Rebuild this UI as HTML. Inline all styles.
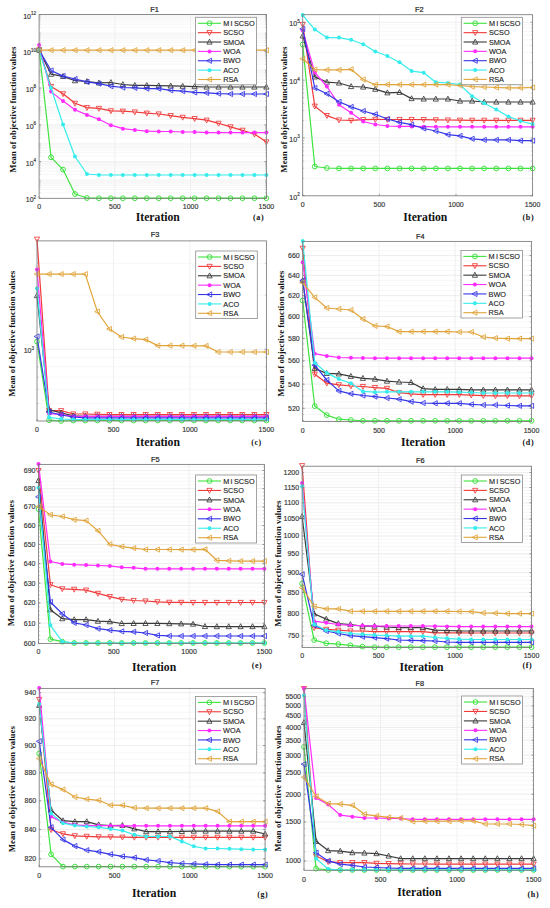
<!DOCTYPE html>
<html><head><meta charset="utf-8"><style>
html,body{margin:0;padding:0;background:#fff;overflow:hidden;}
svg{display:block;}
.tk{font-family:"Liberation Sans",sans-serif;font-size:7px;fill:#333;stroke:#333;stroke-width:0.15px;}
.tt{font-family:"Liberation Sans",sans-serif;font-size:7.4px;fill:#222;stroke:#222;stroke-width:0.2px;}
.lg{font-family:"Liberation Sans",sans-serif;font-size:7.3px;fill:#222;stroke:#222;stroke-width:0.12px;}
.yl{font-family:"Liberation Serif",serif;font-size:8.8px;font-weight:bold;fill:#111;}
.xl{font-family:"Liberation Serif",serif;font-size:11.7px;font-weight:bold;fill:#111;}
.sl{font-family:"Liberation Serif",serif;font-size:8px;font-weight:bold;fill:#111;letter-spacing:0.6px;}
</style></head><body>
<svg width="550" height="908" viewBox="0 0 550 908">
<rect width="550" height="908" fill="#fff"/>
<line x1="39.1" x2="266.4" y1="192.77" y2="192.77" stroke="#f2f2f2" stroke-width="0.6"/>
<line x1="39.1" x2="266.4" y1="189.53" y2="189.53" stroke="#f2f2f2" stroke-width="0.6"/>
<line x1="39.1" x2="266.4" y1="187.23" y2="187.23" stroke="#f2f2f2" stroke-width="0.6"/>
<line x1="39.1" x2="266.4" y1="185.45" y2="185.45" stroke="#f2f2f2" stroke-width="0.6"/>
<line x1="39.1" x2="266.4" y1="184" y2="184" stroke="#f2f2f2" stroke-width="0.6"/>
<line x1="39.1" x2="266.4" y1="182.77" y2="182.77" stroke="#f2f2f2" stroke-width="0.6"/>
<line x1="39.1" x2="266.4" y1="181.7" y2="181.7" stroke="#f2f2f2" stroke-width="0.6"/>
<line x1="39.1" x2="266.4" y1="180.76" y2="180.76" stroke="#f2f2f2" stroke-width="0.6"/>
<line x1="39.1" x2="266.4" y1="174.39" y2="174.39" stroke="#f2f2f2" stroke-width="0.6"/>
<line x1="39.1" x2="266.4" y1="171.15" y2="171.15" stroke="#f2f2f2" stroke-width="0.6"/>
<line x1="39.1" x2="266.4" y1="168.85" y2="168.85" stroke="#f2f2f2" stroke-width="0.6"/>
<line x1="39.1" x2="266.4" y1="167.07" y2="167.07" stroke="#f2f2f2" stroke-width="0.6"/>
<line x1="39.1" x2="266.4" y1="165.62" y2="165.62" stroke="#f2f2f2" stroke-width="0.6"/>
<line x1="39.1" x2="266.4" y1="164.39" y2="164.39" stroke="#f2f2f2" stroke-width="0.6"/>
<line x1="39.1" x2="266.4" y1="163.32" y2="163.32" stroke="#f2f2f2" stroke-width="0.6"/>
<line x1="39.1" x2="266.4" y1="162.38" y2="162.38" stroke="#f2f2f2" stroke-width="0.6"/>
<line x1="39.1" x2="266.4" y1="156.01" y2="156.01" stroke="#f2f2f2" stroke-width="0.6"/>
<line x1="39.1" x2="266.4" y1="152.77" y2="152.77" stroke="#f2f2f2" stroke-width="0.6"/>
<line x1="39.1" x2="266.4" y1="150.47" y2="150.47" stroke="#f2f2f2" stroke-width="0.6"/>
<line x1="39.1" x2="266.4" y1="148.69" y2="148.69" stroke="#f2f2f2" stroke-width="0.6"/>
<line x1="39.1" x2="266.4" y1="147.24" y2="147.24" stroke="#f2f2f2" stroke-width="0.6"/>
<line x1="39.1" x2="266.4" y1="146.01" y2="146.01" stroke="#f2f2f2" stroke-width="0.6"/>
<line x1="39.1" x2="266.4" y1="144.94" y2="144.94" stroke="#f2f2f2" stroke-width="0.6"/>
<line x1="39.1" x2="266.4" y1="144" y2="144" stroke="#f2f2f2" stroke-width="0.6"/>
<line x1="39.1" x2="266.4" y1="137.63" y2="137.63" stroke="#f2f2f2" stroke-width="0.6"/>
<line x1="39.1" x2="266.4" y1="134.39" y2="134.39" stroke="#f2f2f2" stroke-width="0.6"/>
<line x1="39.1" x2="266.4" y1="132.09" y2="132.09" stroke="#f2f2f2" stroke-width="0.6"/>
<line x1="39.1" x2="266.4" y1="130.31" y2="130.31" stroke="#f2f2f2" stroke-width="0.6"/>
<line x1="39.1" x2="266.4" y1="128.86" y2="128.86" stroke="#f2f2f2" stroke-width="0.6"/>
<line x1="39.1" x2="266.4" y1="127.63" y2="127.63" stroke="#f2f2f2" stroke-width="0.6"/>
<line x1="39.1" x2="266.4" y1="126.56" y2="126.56" stroke="#f2f2f2" stroke-width="0.6"/>
<line x1="39.1" x2="266.4" y1="125.62" y2="125.62" stroke="#f2f2f2" stroke-width="0.6"/>
<line x1="39.1" x2="266.4" y1="119.25" y2="119.25" stroke="#f2f2f2" stroke-width="0.6"/>
<line x1="39.1" x2="266.4" y1="116.01" y2="116.01" stroke="#f2f2f2" stroke-width="0.6"/>
<line x1="39.1" x2="266.4" y1="113.71" y2="113.71" stroke="#f2f2f2" stroke-width="0.6"/>
<line x1="39.1" x2="266.4" y1="111.93" y2="111.93" stroke="#f2f2f2" stroke-width="0.6"/>
<line x1="39.1" x2="266.4" y1="110.48" y2="110.48" stroke="#f2f2f2" stroke-width="0.6"/>
<line x1="39.1" x2="266.4" y1="109.25" y2="109.25" stroke="#f2f2f2" stroke-width="0.6"/>
<line x1="39.1" x2="266.4" y1="108.18" y2="108.18" stroke="#f2f2f2" stroke-width="0.6"/>
<line x1="39.1" x2="266.4" y1="107.24" y2="107.24" stroke="#f2f2f2" stroke-width="0.6"/>
<line x1="39.1" x2="266.4" y1="100.87" y2="100.87" stroke="#f2f2f2" stroke-width="0.6"/>
<line x1="39.1" x2="266.4" y1="97.63" y2="97.63" stroke="#f2f2f2" stroke-width="0.6"/>
<line x1="39.1" x2="266.4" y1="95.33" y2="95.33" stroke="#f2f2f2" stroke-width="0.6"/>
<line x1="39.1" x2="266.4" y1="93.55" y2="93.55" stroke="#f2f2f2" stroke-width="0.6"/>
<line x1="39.1" x2="266.4" y1="92.1" y2="92.1" stroke="#f2f2f2" stroke-width="0.6"/>
<line x1="39.1" x2="266.4" y1="90.87" y2="90.87" stroke="#f2f2f2" stroke-width="0.6"/>
<line x1="39.1" x2="266.4" y1="89.8" y2="89.8" stroke="#f2f2f2" stroke-width="0.6"/>
<line x1="39.1" x2="266.4" y1="88.86" y2="88.86" stroke="#f2f2f2" stroke-width="0.6"/>
<line x1="39.1" x2="266.4" y1="82.49" y2="82.49" stroke="#f2f2f2" stroke-width="0.6"/>
<line x1="39.1" x2="266.4" y1="79.25" y2="79.25" stroke="#f2f2f2" stroke-width="0.6"/>
<line x1="39.1" x2="266.4" y1="76.95" y2="76.95" stroke="#f2f2f2" stroke-width="0.6"/>
<line x1="39.1" x2="266.4" y1="75.17" y2="75.17" stroke="#f2f2f2" stroke-width="0.6"/>
<line x1="39.1" x2="266.4" y1="73.72" y2="73.72" stroke="#f2f2f2" stroke-width="0.6"/>
<line x1="39.1" x2="266.4" y1="72.49" y2="72.49" stroke="#f2f2f2" stroke-width="0.6"/>
<line x1="39.1" x2="266.4" y1="71.42" y2="71.42" stroke="#f2f2f2" stroke-width="0.6"/>
<line x1="39.1" x2="266.4" y1="70.48" y2="70.48" stroke="#f2f2f2" stroke-width="0.6"/>
<line x1="39.1" x2="266.4" y1="64.11" y2="64.11" stroke="#f2f2f2" stroke-width="0.6"/>
<line x1="39.1" x2="266.4" y1="60.87" y2="60.87" stroke="#f2f2f2" stroke-width="0.6"/>
<line x1="39.1" x2="266.4" y1="58.57" y2="58.57" stroke="#f2f2f2" stroke-width="0.6"/>
<line x1="39.1" x2="266.4" y1="56.79" y2="56.79" stroke="#f2f2f2" stroke-width="0.6"/>
<line x1="39.1" x2="266.4" y1="55.34" y2="55.34" stroke="#f2f2f2" stroke-width="0.6"/>
<line x1="39.1" x2="266.4" y1="54.11" y2="54.11" stroke="#f2f2f2" stroke-width="0.6"/>
<line x1="39.1" x2="266.4" y1="53.04" y2="53.04" stroke="#f2f2f2" stroke-width="0.6"/>
<line x1="39.1" x2="266.4" y1="52.1" y2="52.1" stroke="#f2f2f2" stroke-width="0.6"/>
<line x1="39.1" x2="266.4" y1="45.73" y2="45.73" stroke="#f2f2f2" stroke-width="0.6"/>
<line x1="39.1" x2="266.4" y1="42.49" y2="42.49" stroke="#f2f2f2" stroke-width="0.6"/>
<line x1="39.1" x2="266.4" y1="40.19" y2="40.19" stroke="#f2f2f2" stroke-width="0.6"/>
<line x1="39.1" x2="266.4" y1="38.41" y2="38.41" stroke="#f2f2f2" stroke-width="0.6"/>
<line x1="39.1" x2="266.4" y1="36.96" y2="36.96" stroke="#f2f2f2" stroke-width="0.6"/>
<line x1="39.1" x2="266.4" y1="35.73" y2="35.73" stroke="#f2f2f2" stroke-width="0.6"/>
<line x1="39.1" x2="266.4" y1="34.66" y2="34.66" stroke="#f2f2f2" stroke-width="0.6"/>
<line x1="39.1" x2="266.4" y1="33.72" y2="33.72" stroke="#f2f2f2" stroke-width="0.6"/>
<line x1="39.1" x2="266.4" y1="27.35" y2="27.35" stroke="#f2f2f2" stroke-width="0.6"/>
<line x1="39.1" x2="266.4" y1="24.11" y2="24.11" stroke="#f2f2f2" stroke-width="0.6"/>
<line x1="39.1" x2="266.4" y1="21.81" y2="21.81" stroke="#f2f2f2" stroke-width="0.6"/>
<line x1="39.1" x2="266.4" y1="20.03" y2="20.03" stroke="#f2f2f2" stroke-width="0.6"/>
<line x1="39.1" x2="266.4" y1="18.58" y2="18.58" stroke="#f2f2f2" stroke-width="0.6"/>
<line x1="39.1" x2="266.4" y1="17.35" y2="17.35" stroke="#f2f2f2" stroke-width="0.6"/>
<line x1="39.1" x2="266.4" y1="16.28" y2="16.28" stroke="#f2f2f2" stroke-width="0.6"/>
<line x1="39.1" x2="266.4" y1="15.34" y2="15.34" stroke="#f2f2f2" stroke-width="0.6"/>
<line x1="39.1" x2="266.4" y1="179.92" y2="179.92" stroke="#f2f2f2" stroke-width="0.6"/>
<line x1="39.1" x2="266.4" y1="143.16" y2="143.16" stroke="#f2f2f2" stroke-width="0.6"/>
<line x1="39.1" x2="266.4" y1="106.4" y2="106.4" stroke="#f2f2f2" stroke-width="0.6"/>
<line x1="39.1" x2="266.4" y1="69.64" y2="69.64" stroke="#f2f2f2" stroke-width="0.6"/>
<line x1="39.1" x2="266.4" y1="32.88" y2="32.88" stroke="#f2f2f2" stroke-width="0.6"/>
<line x1="39.1" x2="266.4" y1="161.54" y2="161.54" stroke="#e9e9e9" stroke-width="0.7"/>
<line x1="39.1" x2="266.4" y1="124.78" y2="124.78" stroke="#e9e9e9" stroke-width="0.7"/>
<line x1="39.1" x2="266.4" y1="88.02" y2="88.02" stroke="#e9e9e9" stroke-width="0.7"/>
<line x1="39.1" x2="266.4" y1="51.26" y2="51.26" stroke="#e9e9e9" stroke-width="0.7"/>
<line x1="39.1" x2="266.4" y1="14.5" y2="14.5" stroke="#e9e9e9" stroke-width="0.7"/>
<line x1="114.87" x2="114.87" y1="14.5" y2="198.3" stroke="#e9e9e9" stroke-width="0.7"/>
<line x1="190.63" x2="190.63" y1="14.5" y2="198.3" stroke="#e9e9e9" stroke-width="0.7"/>
<polyline points="39.1,50 51.06,157.3 63.03,169.6 74.99,194 86.95,198 98.92,198.2 110.88,198.2 122.84,198.2 134.81,198.2 146.77,198.2 158.73,198.2 170.69,198.2 182.66,198.2 194.62,198.2 206.58,198.2 218.55,198.2 230.51,198.2 242.47,198.2 254.44,198.2 266.4,198.2" fill="none" stroke="#3fe33f" stroke-width="1.2" stroke-linejoin="round"/>
<circle cx="39.1" cy="50" r="2.4" fill="none" stroke="#3fe33f" stroke-width="1"/>
<circle cx="51.06" cy="157.3" r="2.4" fill="none" stroke="#3fe33f" stroke-width="1"/>
<circle cx="63.03" cy="169.6" r="2.4" fill="none" stroke="#3fe33f" stroke-width="1"/>
<circle cx="74.99" cy="194" r="2.4" fill="none" stroke="#3fe33f" stroke-width="1"/>
<circle cx="86.95" cy="198" r="2.4" fill="none" stroke="#3fe33f" stroke-width="1"/>
<circle cx="98.92" cy="198.2" r="2.4" fill="none" stroke="#3fe33f" stroke-width="1"/>
<circle cx="110.88" cy="198.2" r="2.4" fill="none" stroke="#3fe33f" stroke-width="1"/>
<circle cx="122.84" cy="198.2" r="2.4" fill="none" stroke="#3fe33f" stroke-width="1"/>
<circle cx="134.81" cy="198.2" r="2.4" fill="none" stroke="#3fe33f" stroke-width="1"/>
<circle cx="146.77" cy="198.2" r="2.4" fill="none" stroke="#3fe33f" stroke-width="1"/>
<circle cx="158.73" cy="198.2" r="2.4" fill="none" stroke="#3fe33f" stroke-width="1"/>
<circle cx="170.69" cy="198.2" r="2.4" fill="none" stroke="#3fe33f" stroke-width="1"/>
<circle cx="182.66" cy="198.2" r="2.4" fill="none" stroke="#3fe33f" stroke-width="1"/>
<circle cx="194.62" cy="198.2" r="2.4" fill="none" stroke="#3fe33f" stroke-width="1"/>
<circle cx="206.58" cy="198.2" r="2.4" fill="none" stroke="#3fe33f" stroke-width="1"/>
<circle cx="218.55" cy="198.2" r="2.4" fill="none" stroke="#3fe33f" stroke-width="1"/>
<circle cx="230.51" cy="198.2" r="2.4" fill="none" stroke="#3fe33f" stroke-width="1"/>
<circle cx="242.47" cy="198.2" r="2.4" fill="none" stroke="#3fe33f" stroke-width="1"/>
<circle cx="254.44" cy="198.2" r="2.4" fill="none" stroke="#3fe33f" stroke-width="1"/>
<circle cx="266.4" cy="198.2" r="2.4" fill="none" stroke="#3fe33f" stroke-width="1"/>
<polyline points="39.1,50 51.06,86.5 63.03,93.8 74.99,103.3 86.95,107.6 98.92,108.4 110.88,110.8 122.84,111.2 134.81,112 146.77,113.2 158.73,114 170.69,115.6 182.66,117.3 194.62,118.6 206.58,120.2 218.55,123.3 230.51,126.9 242.47,130.3 254.44,134.1 266.4,141.9" fill="none" stroke="#f03a3a" stroke-width="1.2" stroke-linejoin="round"/>
<path d="M36.5 47.92H41.7L39.1 52.86Z" fill="none" stroke="#f03a3a" stroke-width="0.85"/>
<path d="M48.46 84.42H53.66L51.06 89.36Z" fill="none" stroke="#f03a3a" stroke-width="0.85"/>
<path d="M60.43 91.72H65.63L63.03 96.66Z" fill="none" stroke="#f03a3a" stroke-width="0.85"/>
<path d="M72.39 101.22H77.59L74.99 106.16Z" fill="none" stroke="#f03a3a" stroke-width="0.85"/>
<path d="M84.35 105.52H89.55L86.95 110.46Z" fill="none" stroke="#f03a3a" stroke-width="0.85"/>
<path d="M96.32 106.32H101.52L98.92 111.26Z" fill="none" stroke="#f03a3a" stroke-width="0.85"/>
<path d="M108.28 108.72H113.48L110.88 113.66Z" fill="none" stroke="#f03a3a" stroke-width="0.85"/>
<path d="M120.24 109.12H125.44L122.84 114.06Z" fill="none" stroke="#f03a3a" stroke-width="0.85"/>
<path d="M132.21 109.92H137.41L134.81 114.86Z" fill="none" stroke="#f03a3a" stroke-width="0.85"/>
<path d="M144.17 111.12H149.37L146.77 116.06Z" fill="none" stroke="#f03a3a" stroke-width="0.85"/>
<path d="M156.13 111.92H161.33L158.73 116.86Z" fill="none" stroke="#f03a3a" stroke-width="0.85"/>
<path d="M168.09 113.52H173.29L170.69 118.46Z" fill="none" stroke="#f03a3a" stroke-width="0.85"/>
<path d="M180.06 115.22H185.26L182.66 120.16Z" fill="none" stroke="#f03a3a" stroke-width="0.85"/>
<path d="M192.02 116.52H197.22L194.62 121.46Z" fill="none" stroke="#f03a3a" stroke-width="0.85"/>
<path d="M203.98 118.12H209.18L206.58 123.06Z" fill="none" stroke="#f03a3a" stroke-width="0.85"/>
<path d="M215.95 121.22H221.15L218.55 126.16Z" fill="none" stroke="#f03a3a" stroke-width="0.85"/>
<path d="M227.91 124.82H233.11L230.51 129.76Z" fill="none" stroke="#f03a3a" stroke-width="0.85"/>
<path d="M239.87 128.22H245.07L242.47 133.16Z" fill="none" stroke="#f03a3a" stroke-width="0.85"/>
<path d="M251.84 132.02H257.04L254.44 136.96Z" fill="none" stroke="#f03a3a" stroke-width="0.85"/>
<path d="M263.8 139.82H269L266.4 144.76Z" fill="none" stroke="#f03a3a" stroke-width="0.85"/>
<polyline points="39.1,50 51.06,74.2 63.03,76.4 74.99,80.7 86.95,81.5 98.92,82.9 110.88,82.5 122.84,84.5 134.81,85.4 146.77,85.4 158.73,85.7 170.69,85.9 182.66,86.2 194.62,86.6 206.58,87 218.55,87 230.51,87 242.47,87 254.44,87 266.4,87" fill="none" stroke="#3a3a3a" stroke-width="1.2" stroke-linejoin="round"/>
<path d="M36.5 52.08H41.7L39.1 47.14Z" fill="none" stroke="#3a3a3a" stroke-width="0.85"/>
<path d="M48.46 76.28H53.66L51.06 71.34Z" fill="none" stroke="#3a3a3a" stroke-width="0.85"/>
<path d="M60.43 78.48H65.63L63.03 73.54Z" fill="none" stroke="#3a3a3a" stroke-width="0.85"/>
<path d="M72.39 82.78H77.59L74.99 77.84Z" fill="none" stroke="#3a3a3a" stroke-width="0.85"/>
<path d="M84.35 83.58H89.55L86.95 78.64Z" fill="none" stroke="#3a3a3a" stroke-width="0.85"/>
<path d="M96.32 84.98H101.52L98.92 80.04Z" fill="none" stroke="#3a3a3a" stroke-width="0.85"/>
<path d="M108.28 84.58H113.48L110.88 79.64Z" fill="none" stroke="#3a3a3a" stroke-width="0.85"/>
<path d="M120.24 86.58H125.44L122.84 81.64Z" fill="none" stroke="#3a3a3a" stroke-width="0.85"/>
<path d="M132.21 87.48H137.41L134.81 82.54Z" fill="none" stroke="#3a3a3a" stroke-width="0.85"/>
<path d="M144.17 87.48H149.37L146.77 82.54Z" fill="none" stroke="#3a3a3a" stroke-width="0.85"/>
<path d="M156.13 87.78H161.33L158.73 82.84Z" fill="none" stroke="#3a3a3a" stroke-width="0.85"/>
<path d="M168.09 87.98H173.29L170.69 83.04Z" fill="none" stroke="#3a3a3a" stroke-width="0.85"/>
<path d="M180.06 88.28H185.26L182.66 83.34Z" fill="none" stroke="#3a3a3a" stroke-width="0.85"/>
<path d="M192.02 88.68H197.22L194.62 83.74Z" fill="none" stroke="#3a3a3a" stroke-width="0.85"/>
<path d="M203.98 89.08H209.18L206.58 84.14Z" fill="none" stroke="#3a3a3a" stroke-width="0.85"/>
<path d="M215.95 89.08H221.15L218.55 84.14Z" fill="none" stroke="#3a3a3a" stroke-width="0.85"/>
<path d="M227.91 89.08H233.11L230.51 84.14Z" fill="none" stroke="#3a3a3a" stroke-width="0.85"/>
<path d="M239.87 89.08H245.07L242.47 84.14Z" fill="none" stroke="#3a3a3a" stroke-width="0.85"/>
<path d="M251.84 89.08H257.04L254.44 84.14Z" fill="none" stroke="#3a3a3a" stroke-width="0.85"/>
<path d="M263.8 89.08H269L266.4 84.14Z" fill="none" stroke="#3a3a3a" stroke-width="0.85"/>
<polyline points="39.1,45 51.06,91.6 63.03,101.1 74.99,109.8 86.95,114.9 98.92,119.3 110.88,125.2 122.84,128.7 134.81,130 146.77,131.2 158.73,131.5 170.69,131.5 182.66,132 194.62,132 206.58,132.6 218.55,132.6 230.51,132.6 242.47,132.6 254.44,132.6 266.4,132.6" fill="none" stroke="#ff2bff" stroke-width="1.2" stroke-linejoin="round"/>
<circle cx="39.1" cy="45" r="2.0" fill="#ff2bff"/>
<circle cx="51.06" cy="91.6" r="2.0" fill="#ff2bff"/>
<circle cx="63.03" cy="101.1" r="2.0" fill="#ff2bff"/>
<circle cx="74.99" cy="109.8" r="2.0" fill="#ff2bff"/>
<circle cx="86.95" cy="114.9" r="2.0" fill="#ff2bff"/>
<circle cx="98.92" cy="119.3" r="2.0" fill="#ff2bff"/>
<circle cx="110.88" cy="125.2" r="2.0" fill="#ff2bff"/>
<circle cx="122.84" cy="128.7" r="2.0" fill="#ff2bff"/>
<circle cx="134.81" cy="130" r="2.0" fill="#ff2bff"/>
<circle cx="146.77" cy="131.2" r="2.0" fill="#ff2bff"/>
<circle cx="158.73" cy="131.5" r="2.0" fill="#ff2bff"/>
<circle cx="170.69" cy="131.5" r="2.0" fill="#ff2bff"/>
<circle cx="182.66" cy="132" r="2.0" fill="#ff2bff"/>
<circle cx="194.62" cy="132" r="2.0" fill="#ff2bff"/>
<circle cx="206.58" cy="132.6" r="2.0" fill="#ff2bff"/>
<circle cx="218.55" cy="132.6" r="2.0" fill="#ff2bff"/>
<circle cx="230.51" cy="132.6" r="2.0" fill="#ff2bff"/>
<circle cx="242.47" cy="132.6" r="2.0" fill="#ff2bff"/>
<circle cx="254.44" cy="132.6" r="2.0" fill="#ff2bff"/>
<circle cx="266.4" cy="132.6" r="2.0" fill="#ff2bff"/>
<polyline points="39.1,50 51.06,70.5 63.03,76.1 74.99,79 86.95,81.9 98.92,83.6 110.88,86.2 122.84,87.5 134.81,87.8 146.77,88.6 158.73,88.6 170.69,90.3 182.66,91.1 194.62,92.4 206.58,92.9 218.55,93.6 230.51,94 242.47,94 254.44,94 266.4,94" fill="none" stroke="#3535e8" stroke-width="1.2" stroke-linejoin="round"/>
<path d="M41.18 47.4V52.6L36.24 50Z" fill="none" stroke="#3535e8" stroke-width="0.85"/>
<path d="M53.14 67.9V73.1L48.2 70.5Z" fill="none" stroke="#3535e8" stroke-width="0.85"/>
<path d="M65.11 73.5V78.7L60.17 76.1Z" fill="none" stroke="#3535e8" stroke-width="0.85"/>
<path d="M77.07 76.4V81.6L72.13 79Z" fill="none" stroke="#3535e8" stroke-width="0.85"/>
<path d="M89.03 79.3V84.5L84.09 81.9Z" fill="none" stroke="#3535e8" stroke-width="0.85"/>
<path d="M101 81V86.2L96.06 83.6Z" fill="none" stroke="#3535e8" stroke-width="0.85"/>
<path d="M112.96 83.6V88.8L108.02 86.2Z" fill="none" stroke="#3535e8" stroke-width="0.85"/>
<path d="M124.92 84.9V90.1L119.98 87.5Z" fill="none" stroke="#3535e8" stroke-width="0.85"/>
<path d="M136.89 85.2V90.4L131.95 87.8Z" fill="none" stroke="#3535e8" stroke-width="0.85"/>
<path d="M148.85 86V91.2L143.91 88.6Z" fill="none" stroke="#3535e8" stroke-width="0.85"/>
<path d="M160.81 86V91.2L155.87 88.6Z" fill="none" stroke="#3535e8" stroke-width="0.85"/>
<path d="M172.77 87.7V92.9L167.83 90.3Z" fill="none" stroke="#3535e8" stroke-width="0.85"/>
<path d="M184.74 88.5V93.7L179.8 91.1Z" fill="none" stroke="#3535e8" stroke-width="0.85"/>
<path d="M196.7 89.8V95L191.76 92.4Z" fill="none" stroke="#3535e8" stroke-width="0.85"/>
<path d="M208.66 90.3V95.5L203.72 92.9Z" fill="none" stroke="#3535e8" stroke-width="0.85"/>
<path d="M220.63 91V96.2L215.69 93.6Z" fill="none" stroke="#3535e8" stroke-width="0.85"/>
<path d="M232.59 91.4V96.6L227.65 94Z" fill="none" stroke="#3535e8" stroke-width="0.85"/>
<path d="M244.55 91.4V96.6L239.61 94Z" fill="none" stroke="#3535e8" stroke-width="0.85"/>
<path d="M256.52 91.4V96.6L251.58 94Z" fill="none" stroke="#3535e8" stroke-width="0.85"/>
<path d="M268.48 91.4V96.6L263.54 94Z" fill="none" stroke="#3535e8" stroke-width="0.85"/>
<polyline points="39.1,50 51.06,88 63.03,124.5 74.99,156.5 86.95,174 98.92,175 110.88,175 122.84,175 134.81,175 146.77,175 158.73,175 170.69,175 182.66,175 194.62,175 206.58,175 218.55,175 230.51,175 242.47,175 254.44,175 266.4,175" fill="none" stroke="#36ecec" stroke-width="1.2" stroke-linejoin="round"/>
<circle cx="39.1" cy="50" r="2.0" fill="#36ecec"/>
<circle cx="51.06" cy="88" r="2.0" fill="#36ecec"/>
<circle cx="63.03" cy="124.5" r="2.0" fill="#36ecec"/>
<circle cx="74.99" cy="156.5" r="2.0" fill="#36ecec"/>
<circle cx="86.95" cy="174" r="2.0" fill="#36ecec"/>
<circle cx="98.92" cy="175" r="2.0" fill="#36ecec"/>
<circle cx="110.88" cy="175" r="2.0" fill="#36ecec"/>
<circle cx="122.84" cy="175" r="2.0" fill="#36ecec"/>
<circle cx="134.81" cy="175" r="2.0" fill="#36ecec"/>
<circle cx="146.77" cy="175" r="2.0" fill="#36ecec"/>
<circle cx="158.73" cy="175" r="2.0" fill="#36ecec"/>
<circle cx="170.69" cy="175" r="2.0" fill="#36ecec"/>
<circle cx="182.66" cy="175" r="2.0" fill="#36ecec"/>
<circle cx="194.62" cy="175" r="2.0" fill="#36ecec"/>
<circle cx="206.58" cy="175" r="2.0" fill="#36ecec"/>
<circle cx="218.55" cy="175" r="2.0" fill="#36ecec"/>
<circle cx="230.51" cy="175" r="2.0" fill="#36ecec"/>
<circle cx="242.47" cy="175" r="2.0" fill="#36ecec"/>
<circle cx="254.44" cy="175" r="2.0" fill="#36ecec"/>
<circle cx="266.4" cy="175" r="2.0" fill="#36ecec"/>
<polyline points="39.1,50.2 51.06,50.2 63.03,50.2 74.99,50.2 86.95,50.2 98.92,50.2 110.88,50.2 122.84,50.2 134.81,50.2 146.77,50.2 158.73,50.2 170.69,50.2 182.66,50.2 194.62,50.2 206.58,50.2 218.55,50.2 230.51,50.2 242.47,50.2 254.44,50.2 266.4,50.2" fill="none" stroke="#e0a43a" stroke-width="1.2" stroke-linejoin="round"/>
<path d="M41.18 47.6V52.8L36.24 50.2Z" fill="none" stroke="#e0a43a" stroke-width="0.85"/>
<path d="M53.14 47.6V52.8L48.2 50.2Z" fill="none" stroke="#e0a43a" stroke-width="0.85"/>
<path d="M65.11 47.6V52.8L60.17 50.2Z" fill="none" stroke="#e0a43a" stroke-width="0.85"/>
<path d="M77.07 47.6V52.8L72.13 50.2Z" fill="none" stroke="#e0a43a" stroke-width="0.85"/>
<path d="M89.03 47.6V52.8L84.09 50.2Z" fill="none" stroke="#e0a43a" stroke-width="0.85"/>
<path d="M101 47.6V52.8L96.06 50.2Z" fill="none" stroke="#e0a43a" stroke-width="0.85"/>
<path d="M112.96 47.6V52.8L108.02 50.2Z" fill="none" stroke="#e0a43a" stroke-width="0.85"/>
<path d="M124.92 47.6V52.8L119.98 50.2Z" fill="none" stroke="#e0a43a" stroke-width="0.85"/>
<path d="M136.89 47.6V52.8L131.95 50.2Z" fill="none" stroke="#e0a43a" stroke-width="0.85"/>
<path d="M148.85 47.6V52.8L143.91 50.2Z" fill="none" stroke="#e0a43a" stroke-width="0.85"/>
<path d="M160.81 47.6V52.8L155.87 50.2Z" fill="none" stroke="#e0a43a" stroke-width="0.85"/>
<path d="M172.77 47.6V52.8L167.83 50.2Z" fill="none" stroke="#e0a43a" stroke-width="0.85"/>
<path d="M184.74 47.6V52.8L179.8 50.2Z" fill="none" stroke="#e0a43a" stroke-width="0.85"/>
<path d="M196.7 47.6V52.8L191.76 50.2Z" fill="none" stroke="#e0a43a" stroke-width="0.85"/>
<path d="M208.66 47.6V52.8L203.72 50.2Z" fill="none" stroke="#e0a43a" stroke-width="0.85"/>
<path d="M220.63 47.6V52.8L215.69 50.2Z" fill="none" stroke="#e0a43a" stroke-width="0.85"/>
<path d="M232.59 47.6V52.8L227.65 50.2Z" fill="none" stroke="#e0a43a" stroke-width="0.85"/>
<path d="M244.55 47.6V52.8L239.61 50.2Z" fill="none" stroke="#e0a43a" stroke-width="0.85"/>
<path d="M256.52 47.6V52.8L251.58 50.2Z" fill="none" stroke="#e0a43a" stroke-width="0.85"/>
<path d="M268.48 47.6V52.8L263.54 50.2Z" fill="none" stroke="#e0a43a" stroke-width="0.85"/>
<rect x="39.1" y="14.5" width="227.3" height="183.8" fill="none" stroke="#7a7a7a" stroke-width="0.85"/>
<line x1="39.1" x2="40.5" y1="192.77" y2="192.77" stroke="#999" stroke-width="0.5"/>
<line x1="265" x2="266.4" y1="192.77" y2="192.77" stroke="#999" stroke-width="0.5"/>
<line x1="39.1" x2="40.5" y1="189.53" y2="189.53" stroke="#999" stroke-width="0.5"/>
<line x1="265" x2="266.4" y1="189.53" y2="189.53" stroke="#999" stroke-width="0.5"/>
<line x1="39.1" x2="40.5" y1="187.23" y2="187.23" stroke="#999" stroke-width="0.5"/>
<line x1="265" x2="266.4" y1="187.23" y2="187.23" stroke="#999" stroke-width="0.5"/>
<line x1="39.1" x2="40.5" y1="185.45" y2="185.45" stroke="#999" stroke-width="0.5"/>
<line x1="265" x2="266.4" y1="185.45" y2="185.45" stroke="#999" stroke-width="0.5"/>
<line x1="39.1" x2="40.5" y1="184" y2="184" stroke="#999" stroke-width="0.5"/>
<line x1="265" x2="266.4" y1="184" y2="184" stroke="#999" stroke-width="0.5"/>
<line x1="39.1" x2="40.5" y1="182.77" y2="182.77" stroke="#999" stroke-width="0.5"/>
<line x1="265" x2="266.4" y1="182.77" y2="182.77" stroke="#999" stroke-width="0.5"/>
<line x1="39.1" x2="40.5" y1="181.7" y2="181.7" stroke="#999" stroke-width="0.5"/>
<line x1="265" x2="266.4" y1="181.7" y2="181.7" stroke="#999" stroke-width="0.5"/>
<line x1="39.1" x2="40.5" y1="180.76" y2="180.76" stroke="#999" stroke-width="0.5"/>
<line x1="265" x2="266.4" y1="180.76" y2="180.76" stroke="#999" stroke-width="0.5"/>
<line x1="39.1" x2="40.5" y1="174.39" y2="174.39" stroke="#999" stroke-width="0.5"/>
<line x1="265" x2="266.4" y1="174.39" y2="174.39" stroke="#999" stroke-width="0.5"/>
<line x1="39.1" x2="40.5" y1="171.15" y2="171.15" stroke="#999" stroke-width="0.5"/>
<line x1="265" x2="266.4" y1="171.15" y2="171.15" stroke="#999" stroke-width="0.5"/>
<line x1="39.1" x2="40.5" y1="168.85" y2="168.85" stroke="#999" stroke-width="0.5"/>
<line x1="265" x2="266.4" y1="168.85" y2="168.85" stroke="#999" stroke-width="0.5"/>
<line x1="39.1" x2="40.5" y1="167.07" y2="167.07" stroke="#999" stroke-width="0.5"/>
<line x1="265" x2="266.4" y1="167.07" y2="167.07" stroke="#999" stroke-width="0.5"/>
<line x1="39.1" x2="40.5" y1="165.62" y2="165.62" stroke="#999" stroke-width="0.5"/>
<line x1="265" x2="266.4" y1="165.62" y2="165.62" stroke="#999" stroke-width="0.5"/>
<line x1="39.1" x2="40.5" y1="164.39" y2="164.39" stroke="#999" stroke-width="0.5"/>
<line x1="265" x2="266.4" y1="164.39" y2="164.39" stroke="#999" stroke-width="0.5"/>
<line x1="39.1" x2="40.5" y1="163.32" y2="163.32" stroke="#999" stroke-width="0.5"/>
<line x1="265" x2="266.4" y1="163.32" y2="163.32" stroke="#999" stroke-width="0.5"/>
<line x1="39.1" x2="40.5" y1="162.38" y2="162.38" stroke="#999" stroke-width="0.5"/>
<line x1="265" x2="266.4" y1="162.38" y2="162.38" stroke="#999" stroke-width="0.5"/>
<line x1="39.1" x2="40.5" y1="156.01" y2="156.01" stroke="#999" stroke-width="0.5"/>
<line x1="265" x2="266.4" y1="156.01" y2="156.01" stroke="#999" stroke-width="0.5"/>
<line x1="39.1" x2="40.5" y1="152.77" y2="152.77" stroke="#999" stroke-width="0.5"/>
<line x1="265" x2="266.4" y1="152.77" y2="152.77" stroke="#999" stroke-width="0.5"/>
<line x1="39.1" x2="40.5" y1="150.47" y2="150.47" stroke="#999" stroke-width="0.5"/>
<line x1="265" x2="266.4" y1="150.47" y2="150.47" stroke="#999" stroke-width="0.5"/>
<line x1="39.1" x2="40.5" y1="148.69" y2="148.69" stroke="#999" stroke-width="0.5"/>
<line x1="265" x2="266.4" y1="148.69" y2="148.69" stroke="#999" stroke-width="0.5"/>
<line x1="39.1" x2="40.5" y1="147.24" y2="147.24" stroke="#999" stroke-width="0.5"/>
<line x1="265" x2="266.4" y1="147.24" y2="147.24" stroke="#999" stroke-width="0.5"/>
<line x1="39.1" x2="40.5" y1="146.01" y2="146.01" stroke="#999" stroke-width="0.5"/>
<line x1="265" x2="266.4" y1="146.01" y2="146.01" stroke="#999" stroke-width="0.5"/>
<line x1="39.1" x2="40.5" y1="144.94" y2="144.94" stroke="#999" stroke-width="0.5"/>
<line x1="265" x2="266.4" y1="144.94" y2="144.94" stroke="#999" stroke-width="0.5"/>
<line x1="39.1" x2="40.5" y1="144" y2="144" stroke="#999" stroke-width="0.5"/>
<line x1="265" x2="266.4" y1="144" y2="144" stroke="#999" stroke-width="0.5"/>
<line x1="39.1" x2="40.5" y1="137.63" y2="137.63" stroke="#999" stroke-width="0.5"/>
<line x1="265" x2="266.4" y1="137.63" y2="137.63" stroke="#999" stroke-width="0.5"/>
<line x1="39.1" x2="40.5" y1="134.39" y2="134.39" stroke="#999" stroke-width="0.5"/>
<line x1="265" x2="266.4" y1="134.39" y2="134.39" stroke="#999" stroke-width="0.5"/>
<line x1="39.1" x2="40.5" y1="132.09" y2="132.09" stroke="#999" stroke-width="0.5"/>
<line x1="265" x2="266.4" y1="132.09" y2="132.09" stroke="#999" stroke-width="0.5"/>
<line x1="39.1" x2="40.5" y1="130.31" y2="130.31" stroke="#999" stroke-width="0.5"/>
<line x1="265" x2="266.4" y1="130.31" y2="130.31" stroke="#999" stroke-width="0.5"/>
<line x1="39.1" x2="40.5" y1="128.86" y2="128.86" stroke="#999" stroke-width="0.5"/>
<line x1="265" x2="266.4" y1="128.86" y2="128.86" stroke="#999" stroke-width="0.5"/>
<line x1="39.1" x2="40.5" y1="127.63" y2="127.63" stroke="#999" stroke-width="0.5"/>
<line x1="265" x2="266.4" y1="127.63" y2="127.63" stroke="#999" stroke-width="0.5"/>
<line x1="39.1" x2="40.5" y1="126.56" y2="126.56" stroke="#999" stroke-width="0.5"/>
<line x1="265" x2="266.4" y1="126.56" y2="126.56" stroke="#999" stroke-width="0.5"/>
<line x1="39.1" x2="40.5" y1="125.62" y2="125.62" stroke="#999" stroke-width="0.5"/>
<line x1="265" x2="266.4" y1="125.62" y2="125.62" stroke="#999" stroke-width="0.5"/>
<line x1="39.1" x2="40.5" y1="119.25" y2="119.25" stroke="#999" stroke-width="0.5"/>
<line x1="265" x2="266.4" y1="119.25" y2="119.25" stroke="#999" stroke-width="0.5"/>
<line x1="39.1" x2="40.5" y1="116.01" y2="116.01" stroke="#999" stroke-width="0.5"/>
<line x1="265" x2="266.4" y1="116.01" y2="116.01" stroke="#999" stroke-width="0.5"/>
<line x1="39.1" x2="40.5" y1="113.71" y2="113.71" stroke="#999" stroke-width="0.5"/>
<line x1="265" x2="266.4" y1="113.71" y2="113.71" stroke="#999" stroke-width="0.5"/>
<line x1="39.1" x2="40.5" y1="111.93" y2="111.93" stroke="#999" stroke-width="0.5"/>
<line x1="265" x2="266.4" y1="111.93" y2="111.93" stroke="#999" stroke-width="0.5"/>
<line x1="39.1" x2="40.5" y1="110.48" y2="110.48" stroke="#999" stroke-width="0.5"/>
<line x1="265" x2="266.4" y1="110.48" y2="110.48" stroke="#999" stroke-width="0.5"/>
<line x1="39.1" x2="40.5" y1="109.25" y2="109.25" stroke="#999" stroke-width="0.5"/>
<line x1="265" x2="266.4" y1="109.25" y2="109.25" stroke="#999" stroke-width="0.5"/>
<line x1="39.1" x2="40.5" y1="108.18" y2="108.18" stroke="#999" stroke-width="0.5"/>
<line x1="265" x2="266.4" y1="108.18" y2="108.18" stroke="#999" stroke-width="0.5"/>
<line x1="39.1" x2="40.5" y1="107.24" y2="107.24" stroke="#999" stroke-width="0.5"/>
<line x1="265" x2="266.4" y1="107.24" y2="107.24" stroke="#999" stroke-width="0.5"/>
<line x1="39.1" x2="40.5" y1="100.87" y2="100.87" stroke="#999" stroke-width="0.5"/>
<line x1="265" x2="266.4" y1="100.87" y2="100.87" stroke="#999" stroke-width="0.5"/>
<line x1="39.1" x2="40.5" y1="97.63" y2="97.63" stroke="#999" stroke-width="0.5"/>
<line x1="265" x2="266.4" y1="97.63" y2="97.63" stroke="#999" stroke-width="0.5"/>
<line x1="39.1" x2="40.5" y1="95.33" y2="95.33" stroke="#999" stroke-width="0.5"/>
<line x1="265" x2="266.4" y1="95.33" y2="95.33" stroke="#999" stroke-width="0.5"/>
<line x1="39.1" x2="40.5" y1="93.55" y2="93.55" stroke="#999" stroke-width="0.5"/>
<line x1="265" x2="266.4" y1="93.55" y2="93.55" stroke="#999" stroke-width="0.5"/>
<line x1="39.1" x2="40.5" y1="92.1" y2="92.1" stroke="#999" stroke-width="0.5"/>
<line x1="265" x2="266.4" y1="92.1" y2="92.1" stroke="#999" stroke-width="0.5"/>
<line x1="39.1" x2="40.5" y1="90.87" y2="90.87" stroke="#999" stroke-width="0.5"/>
<line x1="265" x2="266.4" y1="90.87" y2="90.87" stroke="#999" stroke-width="0.5"/>
<line x1="39.1" x2="40.5" y1="89.8" y2="89.8" stroke="#999" stroke-width="0.5"/>
<line x1="265" x2="266.4" y1="89.8" y2="89.8" stroke="#999" stroke-width="0.5"/>
<line x1="39.1" x2="40.5" y1="88.86" y2="88.86" stroke="#999" stroke-width="0.5"/>
<line x1="265" x2="266.4" y1="88.86" y2="88.86" stroke="#999" stroke-width="0.5"/>
<line x1="39.1" x2="40.5" y1="82.49" y2="82.49" stroke="#999" stroke-width="0.5"/>
<line x1="265" x2="266.4" y1="82.49" y2="82.49" stroke="#999" stroke-width="0.5"/>
<line x1="39.1" x2="40.5" y1="79.25" y2="79.25" stroke="#999" stroke-width="0.5"/>
<line x1="265" x2="266.4" y1="79.25" y2="79.25" stroke="#999" stroke-width="0.5"/>
<line x1="39.1" x2="40.5" y1="76.95" y2="76.95" stroke="#999" stroke-width="0.5"/>
<line x1="265" x2="266.4" y1="76.95" y2="76.95" stroke="#999" stroke-width="0.5"/>
<line x1="39.1" x2="40.5" y1="75.17" y2="75.17" stroke="#999" stroke-width="0.5"/>
<line x1="265" x2="266.4" y1="75.17" y2="75.17" stroke="#999" stroke-width="0.5"/>
<line x1="39.1" x2="40.5" y1="73.72" y2="73.72" stroke="#999" stroke-width="0.5"/>
<line x1="265" x2="266.4" y1="73.72" y2="73.72" stroke="#999" stroke-width="0.5"/>
<line x1="39.1" x2="40.5" y1="72.49" y2="72.49" stroke="#999" stroke-width="0.5"/>
<line x1="265" x2="266.4" y1="72.49" y2="72.49" stroke="#999" stroke-width="0.5"/>
<line x1="39.1" x2="40.5" y1="71.42" y2="71.42" stroke="#999" stroke-width="0.5"/>
<line x1="265" x2="266.4" y1="71.42" y2="71.42" stroke="#999" stroke-width="0.5"/>
<line x1="39.1" x2="40.5" y1="70.48" y2="70.48" stroke="#999" stroke-width="0.5"/>
<line x1="265" x2="266.4" y1="70.48" y2="70.48" stroke="#999" stroke-width="0.5"/>
<line x1="39.1" x2="40.5" y1="64.11" y2="64.11" stroke="#999" stroke-width="0.5"/>
<line x1="265" x2="266.4" y1="64.11" y2="64.11" stroke="#999" stroke-width="0.5"/>
<line x1="39.1" x2="40.5" y1="60.87" y2="60.87" stroke="#999" stroke-width="0.5"/>
<line x1="265" x2="266.4" y1="60.87" y2="60.87" stroke="#999" stroke-width="0.5"/>
<line x1="39.1" x2="40.5" y1="58.57" y2="58.57" stroke="#999" stroke-width="0.5"/>
<line x1="265" x2="266.4" y1="58.57" y2="58.57" stroke="#999" stroke-width="0.5"/>
<line x1="39.1" x2="40.5" y1="56.79" y2="56.79" stroke="#999" stroke-width="0.5"/>
<line x1="265" x2="266.4" y1="56.79" y2="56.79" stroke="#999" stroke-width="0.5"/>
<line x1="39.1" x2="40.5" y1="55.34" y2="55.34" stroke="#999" stroke-width="0.5"/>
<line x1="265" x2="266.4" y1="55.34" y2="55.34" stroke="#999" stroke-width="0.5"/>
<line x1="39.1" x2="40.5" y1="54.11" y2="54.11" stroke="#999" stroke-width="0.5"/>
<line x1="265" x2="266.4" y1="54.11" y2="54.11" stroke="#999" stroke-width="0.5"/>
<line x1="39.1" x2="40.5" y1="53.04" y2="53.04" stroke="#999" stroke-width="0.5"/>
<line x1="265" x2="266.4" y1="53.04" y2="53.04" stroke="#999" stroke-width="0.5"/>
<line x1="39.1" x2="40.5" y1="52.1" y2="52.1" stroke="#999" stroke-width="0.5"/>
<line x1="265" x2="266.4" y1="52.1" y2="52.1" stroke="#999" stroke-width="0.5"/>
<line x1="39.1" x2="40.5" y1="45.73" y2="45.73" stroke="#999" stroke-width="0.5"/>
<line x1="265" x2="266.4" y1="45.73" y2="45.73" stroke="#999" stroke-width="0.5"/>
<line x1="39.1" x2="40.5" y1="42.49" y2="42.49" stroke="#999" stroke-width="0.5"/>
<line x1="265" x2="266.4" y1="42.49" y2="42.49" stroke="#999" stroke-width="0.5"/>
<line x1="39.1" x2="40.5" y1="40.19" y2="40.19" stroke="#999" stroke-width="0.5"/>
<line x1="265" x2="266.4" y1="40.19" y2="40.19" stroke="#999" stroke-width="0.5"/>
<line x1="39.1" x2="40.5" y1="38.41" y2="38.41" stroke="#999" stroke-width="0.5"/>
<line x1="265" x2="266.4" y1="38.41" y2="38.41" stroke="#999" stroke-width="0.5"/>
<line x1="39.1" x2="40.5" y1="36.96" y2="36.96" stroke="#999" stroke-width="0.5"/>
<line x1="265" x2="266.4" y1="36.96" y2="36.96" stroke="#999" stroke-width="0.5"/>
<line x1="39.1" x2="40.5" y1="35.73" y2="35.73" stroke="#999" stroke-width="0.5"/>
<line x1="265" x2="266.4" y1="35.73" y2="35.73" stroke="#999" stroke-width="0.5"/>
<line x1="39.1" x2="40.5" y1="34.66" y2="34.66" stroke="#999" stroke-width="0.5"/>
<line x1="265" x2="266.4" y1="34.66" y2="34.66" stroke="#999" stroke-width="0.5"/>
<line x1="39.1" x2="40.5" y1="33.72" y2="33.72" stroke="#999" stroke-width="0.5"/>
<line x1="265" x2="266.4" y1="33.72" y2="33.72" stroke="#999" stroke-width="0.5"/>
<line x1="39.1" x2="40.5" y1="27.35" y2="27.35" stroke="#999" stroke-width="0.5"/>
<line x1="265" x2="266.4" y1="27.35" y2="27.35" stroke="#999" stroke-width="0.5"/>
<line x1="39.1" x2="40.5" y1="24.11" y2="24.11" stroke="#999" stroke-width="0.5"/>
<line x1="265" x2="266.4" y1="24.11" y2="24.11" stroke="#999" stroke-width="0.5"/>
<line x1="39.1" x2="40.5" y1="21.81" y2="21.81" stroke="#999" stroke-width="0.5"/>
<line x1="265" x2="266.4" y1="21.81" y2="21.81" stroke="#999" stroke-width="0.5"/>
<line x1="39.1" x2="40.5" y1="20.03" y2="20.03" stroke="#999" stroke-width="0.5"/>
<line x1="265" x2="266.4" y1="20.03" y2="20.03" stroke="#999" stroke-width="0.5"/>
<line x1="39.1" x2="40.5" y1="18.58" y2="18.58" stroke="#999" stroke-width="0.5"/>
<line x1="265" x2="266.4" y1="18.58" y2="18.58" stroke="#999" stroke-width="0.5"/>
<line x1="39.1" x2="40.5" y1="17.35" y2="17.35" stroke="#999" stroke-width="0.5"/>
<line x1="265" x2="266.4" y1="17.35" y2="17.35" stroke="#999" stroke-width="0.5"/>
<line x1="39.1" x2="40.5" y1="16.28" y2="16.28" stroke="#999" stroke-width="0.5"/>
<line x1="265" x2="266.4" y1="16.28" y2="16.28" stroke="#999" stroke-width="0.5"/>
<line x1="39.1" x2="40.5" y1="15.34" y2="15.34" stroke="#999" stroke-width="0.5"/>
<line x1="265" x2="266.4" y1="15.34" y2="15.34" stroke="#999" stroke-width="0.5"/>
<line x1="39.1" x2="40.5" y1="179.92" y2="179.92" stroke="#999" stroke-width="0.5"/>
<line x1="265" x2="266.4" y1="179.92" y2="179.92" stroke="#999" stroke-width="0.5"/>
<line x1="39.1" x2="40.5" y1="143.16" y2="143.16" stroke="#999" stroke-width="0.5"/>
<line x1="265" x2="266.4" y1="143.16" y2="143.16" stroke="#999" stroke-width="0.5"/>
<line x1="39.1" x2="40.5" y1="106.4" y2="106.4" stroke="#999" stroke-width="0.5"/>
<line x1="265" x2="266.4" y1="106.4" y2="106.4" stroke="#999" stroke-width="0.5"/>
<line x1="39.1" x2="40.5" y1="69.64" y2="69.64" stroke="#999" stroke-width="0.5"/>
<line x1="265" x2="266.4" y1="69.64" y2="69.64" stroke="#999" stroke-width="0.5"/>
<line x1="39.1" x2="40.5" y1="32.88" y2="32.88" stroke="#999" stroke-width="0.5"/>
<line x1="265" x2="266.4" y1="32.88" y2="32.88" stroke="#999" stroke-width="0.5"/>
<line x1="39.1" x2="41.1" y1="198.3" y2="198.3" stroke="#7a7a7a" stroke-width="0.7"/>
<line x1="264.4" x2="266.4" y1="198.3" y2="198.3" stroke="#7a7a7a" stroke-width="0.7"/>
<line x1="39.1" x2="41.1" y1="161.54" y2="161.54" stroke="#7a7a7a" stroke-width="0.7"/>
<line x1="264.4" x2="266.4" y1="161.54" y2="161.54" stroke="#7a7a7a" stroke-width="0.7"/>
<line x1="39.1" x2="41.1" y1="124.78" y2="124.78" stroke="#7a7a7a" stroke-width="0.7"/>
<line x1="264.4" x2="266.4" y1="124.78" y2="124.78" stroke="#7a7a7a" stroke-width="0.7"/>
<line x1="39.1" x2="41.1" y1="88.02" y2="88.02" stroke="#7a7a7a" stroke-width="0.7"/>
<line x1="264.4" x2="266.4" y1="88.02" y2="88.02" stroke="#7a7a7a" stroke-width="0.7"/>
<line x1="39.1" x2="41.1" y1="51.26" y2="51.26" stroke="#7a7a7a" stroke-width="0.7"/>
<line x1="264.4" x2="266.4" y1="51.26" y2="51.26" stroke="#7a7a7a" stroke-width="0.7"/>
<line x1="39.1" x2="41.1" y1="14.5" y2="14.5" stroke="#7a7a7a" stroke-width="0.7"/>
<line x1="264.4" x2="266.4" y1="14.5" y2="14.5" stroke="#7a7a7a" stroke-width="0.7"/>
<rect x="195.6" y="17.3" width="60.9" height="67.5" fill="#fff" stroke="#8c8c8c" stroke-width="0.8"/>
<line x1="197.9" x2="221.1" y1="23.3" y2="23.3" stroke="#3fe33f" stroke-width="1.1"/>
<circle cx="209.5" cy="23.3" r="2.4" fill="none" stroke="#3fe33f" stroke-width="1"/>
<text x="223.2" y="25.9" class="lg">M<tspan dx="1.3">I</tspan><tspan dx="1.3">SCSO</tspan></text>
<line x1="197.9" x2="221.1" y1="32.67" y2="32.67" stroke="#f03a3a" stroke-width="1.1"/>
<path d="M206.9 30.59H212.1L209.5 35.53Z" fill="none" stroke="#f03a3a" stroke-width="0.85"/>
<text x="223.2" y="35.27" class="lg">SCSO</text>
<line x1="197.9" x2="221.1" y1="42.03" y2="42.03" stroke="#3a3a3a" stroke-width="1.1"/>
<path d="M206.9 44.11H212.1L209.5 39.17Z" fill="none" stroke="#3a3a3a" stroke-width="0.85"/>
<text x="223.2" y="44.63" class="lg">SMOA</text>
<line x1="197.9" x2="221.1" y1="51.4" y2="51.4" stroke="#ff2bff" stroke-width="1.1"/>
<circle cx="209.5" cy="51.4" r="2.0" fill="#ff2bff"/>
<text x="223.2" y="54" class="lg">WOA</text>
<line x1="197.9" x2="221.1" y1="60.77" y2="60.77" stroke="#3535e8" stroke-width="1.1"/>
<path d="M211.58 58.17V63.37L206.64 60.77Z" fill="none" stroke="#3535e8" stroke-width="0.85"/>
<text x="223.2" y="63.37" class="lg">BWO</text>
<line x1="197.9" x2="221.1" y1="70.13" y2="70.13" stroke="#36ecec" stroke-width="1.1"/>
<circle cx="209.5" cy="70.13" r="2.0" fill="#36ecec"/>
<text x="223.2" y="72.73" class="lg">ACO</text>
<line x1="197.9" x2="221.1" y1="79.5" y2="79.5" stroke="#e0a43a" stroke-width="1.1"/>
<path d="M211.58 76.9V82.1L206.64 79.5Z" fill="none" stroke="#e0a43a" stroke-width="0.85"/>
<text x="223.2" y="82.1" class="lg">RSA</text>
<text x="36.1" y="202.3" class="tk" text-anchor="end">10<tspan dy="-3.6" font-size="4.6">2</tspan></text>
<text x="36.1" y="165.54" class="tk" text-anchor="end">10<tspan dy="-3.6" font-size="4.6">4</tspan></text>
<text x="36.1" y="128.78" class="tk" text-anchor="end">10<tspan dy="-3.6" font-size="4.6">6</tspan></text>
<text x="36.1" y="92.02" class="tk" text-anchor="end">10<tspan dy="-3.6" font-size="4.6">8</tspan></text>
<text x="36.1" y="55.26" class="tk" text-anchor="end">10<tspan dy="-3.6" font-size="4.6">10</tspan></text>
<text x="36.1" y="18.5" class="tk" text-anchor="end">10<tspan dy="-3.6" font-size="4.6">12</tspan></text>
<text x="39.1" y="209.3" class="tk" text-anchor="middle">0</text>
<line x1="39.1" x2="39.1" y1="196.3" y2="198.3" stroke="#7a7a7a" stroke-width="0.7"/>
<text x="114.87" y="209.3" class="tk" text-anchor="middle">500</text>
<line x1="114.87" x2="114.87" y1="196.3" y2="198.3" stroke="#7a7a7a" stroke-width="0.7"/>
<text x="190.63" y="209.3" class="tk" text-anchor="middle">1000</text>
<line x1="190.63" x2="190.63" y1="196.3" y2="198.3" stroke="#7a7a7a" stroke-width="0.7"/>
<text x="266.4" y="209.3" class="tk" text-anchor="middle">1500</text>
<line x1="266.4" x2="266.4" y1="196.3" y2="198.3" stroke="#7a7a7a" stroke-width="0.7"/>
<text x="154.6" y="12" class="tt" text-anchor="middle">F1</text>
<text transform="translate(16.1,109.6) rotate(-90)" class="yl" text-anchor="middle">Mean of objective function values</text>
<text x="157.8" y="220.7" class="xl" text-anchor="middle">Iteration</text>
<text x="258.6" y="219.6" class="sl" text-anchor="middle">(a)</text>
<line x1="302.7" x2="532.6" y1="178.39" y2="178.39" stroke="#f2f2f2" stroke-width="0.6"/>
<line x1="302.7" x2="532.6" y1="168.21" y2="168.21" stroke="#f2f2f2" stroke-width="0.6"/>
<line x1="302.7" x2="532.6" y1="160.98" y2="160.98" stroke="#f2f2f2" stroke-width="0.6"/>
<line x1="302.7" x2="532.6" y1="155.38" y2="155.38" stroke="#f2f2f2" stroke-width="0.6"/>
<line x1="302.7" x2="532.6" y1="150.8" y2="150.8" stroke="#f2f2f2" stroke-width="0.6"/>
<line x1="302.7" x2="532.6" y1="146.93" y2="146.93" stroke="#f2f2f2" stroke-width="0.6"/>
<line x1="302.7" x2="532.6" y1="143.57" y2="143.57" stroke="#f2f2f2" stroke-width="0.6"/>
<line x1="302.7" x2="532.6" y1="140.62" y2="140.62" stroke="#f2f2f2" stroke-width="0.6"/>
<line x1="302.7" x2="532.6" y1="120.56" y2="120.56" stroke="#f2f2f2" stroke-width="0.6"/>
<line x1="302.7" x2="532.6" y1="110.38" y2="110.38" stroke="#f2f2f2" stroke-width="0.6"/>
<line x1="302.7" x2="532.6" y1="103.15" y2="103.15" stroke="#f2f2f2" stroke-width="0.6"/>
<line x1="302.7" x2="532.6" y1="97.55" y2="97.55" stroke="#f2f2f2" stroke-width="0.6"/>
<line x1="302.7" x2="532.6" y1="92.97" y2="92.97" stroke="#f2f2f2" stroke-width="0.6"/>
<line x1="302.7" x2="532.6" y1="89.1" y2="89.1" stroke="#f2f2f2" stroke-width="0.6"/>
<line x1="302.7" x2="532.6" y1="85.74" y2="85.74" stroke="#f2f2f2" stroke-width="0.6"/>
<line x1="302.7" x2="532.6" y1="82.79" y2="82.79" stroke="#f2f2f2" stroke-width="0.6"/>
<line x1="302.7" x2="532.6" y1="62.73" y2="62.73" stroke="#f2f2f2" stroke-width="0.6"/>
<line x1="302.7" x2="532.6" y1="52.55" y2="52.55" stroke="#f2f2f2" stroke-width="0.6"/>
<line x1="302.7" x2="532.6" y1="45.32" y2="45.32" stroke="#f2f2f2" stroke-width="0.6"/>
<line x1="302.7" x2="532.6" y1="39.72" y2="39.72" stroke="#f2f2f2" stroke-width="0.6"/>
<line x1="302.7" x2="532.6" y1="35.14" y2="35.14" stroke="#f2f2f2" stroke-width="0.6"/>
<line x1="302.7" x2="532.6" y1="31.27" y2="31.27" stroke="#f2f2f2" stroke-width="0.6"/>
<line x1="302.7" x2="532.6" y1="27.91" y2="27.91" stroke="#f2f2f2" stroke-width="0.6"/>
<line x1="302.7" x2="532.6" y1="24.96" y2="24.96" stroke="#f2f2f2" stroke-width="0.6"/>
<line x1="302.7" x2="532.6" y1="137.97" y2="137.97" stroke="#e9e9e9" stroke-width="0.7"/>
<line x1="302.7" x2="532.6" y1="80.14" y2="80.14" stroke="#e9e9e9" stroke-width="0.7"/>
<line x1="302.7" x2="532.6" y1="22.31" y2="22.31" stroke="#e9e9e9" stroke-width="0.7"/>
<line x1="379.33" x2="379.33" y1="14.7" y2="195.8" stroke="#e9e9e9" stroke-width="0.7"/>
<line x1="455.97" x2="455.97" y1="14.7" y2="195.8" stroke="#e9e9e9" stroke-width="0.7"/>
<polyline points="302.7,44.6 314.8,166.5 326.9,168 339,168.4 351.1,168.4 363.2,168.4 375.3,168.4 387.4,168.4 399.5,168.4 411.6,168.4 423.7,168.4 435.8,168.4 447.9,168.4 460,168.4 472.1,168.4 484.2,168.4 496.3,168.4 508.4,168.4 520.5,168.4 532.6,168.4" fill="none" stroke="#3fe33f" stroke-width="1.2" stroke-linejoin="round"/>
<circle cx="302.7" cy="44.6" r="2.4" fill="none" stroke="#3fe33f" stroke-width="1"/>
<circle cx="314.8" cy="166.5" r="2.4" fill="none" stroke="#3fe33f" stroke-width="1"/>
<circle cx="326.9" cy="168" r="2.4" fill="none" stroke="#3fe33f" stroke-width="1"/>
<circle cx="339" cy="168.4" r="2.4" fill="none" stroke="#3fe33f" stroke-width="1"/>
<circle cx="351.1" cy="168.4" r="2.4" fill="none" stroke="#3fe33f" stroke-width="1"/>
<circle cx="363.2" cy="168.4" r="2.4" fill="none" stroke="#3fe33f" stroke-width="1"/>
<circle cx="375.3" cy="168.4" r="2.4" fill="none" stroke="#3fe33f" stroke-width="1"/>
<circle cx="387.4" cy="168.4" r="2.4" fill="none" stroke="#3fe33f" stroke-width="1"/>
<circle cx="399.5" cy="168.4" r="2.4" fill="none" stroke="#3fe33f" stroke-width="1"/>
<circle cx="411.6" cy="168.4" r="2.4" fill="none" stroke="#3fe33f" stroke-width="1"/>
<circle cx="423.7" cy="168.4" r="2.4" fill="none" stroke="#3fe33f" stroke-width="1"/>
<circle cx="435.8" cy="168.4" r="2.4" fill="none" stroke="#3fe33f" stroke-width="1"/>
<circle cx="447.9" cy="168.4" r="2.4" fill="none" stroke="#3fe33f" stroke-width="1"/>
<circle cx="460" cy="168.4" r="2.4" fill="none" stroke="#3fe33f" stroke-width="1"/>
<circle cx="472.1" cy="168.4" r="2.4" fill="none" stroke="#3fe33f" stroke-width="1"/>
<circle cx="484.2" cy="168.4" r="2.4" fill="none" stroke="#3fe33f" stroke-width="1"/>
<circle cx="496.3" cy="168.4" r="2.4" fill="none" stroke="#3fe33f" stroke-width="1"/>
<circle cx="508.4" cy="168.4" r="2.4" fill="none" stroke="#3fe33f" stroke-width="1"/>
<circle cx="520.5" cy="168.4" r="2.4" fill="none" stroke="#3fe33f" stroke-width="1"/>
<circle cx="532.6" cy="168.4" r="2.4" fill="none" stroke="#3fe33f" stroke-width="1"/>
<polyline points="302.7,24.5 314.8,106.2 326.9,115.6 339,120 351.1,120.4 363.2,119.6 375.3,119.4 387.4,119.5 399.5,119.5 411.6,119.5 423.7,119.6 435.8,119.8 447.9,120 460,120.2 472.1,120.3 484.2,120.3 496.3,120.3 508.4,120.3 520.5,120.3 532.6,120.3" fill="none" stroke="#f03a3a" stroke-width="1.2" stroke-linejoin="round"/>
<path d="M300.1 22.42H305.3L302.7 27.36Z" fill="none" stroke="#f03a3a" stroke-width="0.85"/>
<path d="M312.2 104.12H317.4L314.8 109.06Z" fill="none" stroke="#f03a3a" stroke-width="0.85"/>
<path d="M324.3 113.52H329.5L326.9 118.46Z" fill="none" stroke="#f03a3a" stroke-width="0.85"/>
<path d="M336.4 117.92H341.6L339 122.86Z" fill="none" stroke="#f03a3a" stroke-width="0.85"/>
<path d="M348.5 118.32H353.7L351.1 123.26Z" fill="none" stroke="#f03a3a" stroke-width="0.85"/>
<path d="M360.6 117.52H365.8L363.2 122.46Z" fill="none" stroke="#f03a3a" stroke-width="0.85"/>
<path d="M372.7 117.32H377.9L375.3 122.26Z" fill="none" stroke="#f03a3a" stroke-width="0.85"/>
<path d="M384.8 117.42H390L387.4 122.36Z" fill="none" stroke="#f03a3a" stroke-width="0.85"/>
<path d="M396.9 117.42H402.1L399.5 122.36Z" fill="none" stroke="#f03a3a" stroke-width="0.85"/>
<path d="M409 117.42H414.2L411.6 122.36Z" fill="none" stroke="#f03a3a" stroke-width="0.85"/>
<path d="M421.1 117.52H426.3L423.7 122.46Z" fill="none" stroke="#f03a3a" stroke-width="0.85"/>
<path d="M433.2 117.72H438.4L435.8 122.66Z" fill="none" stroke="#f03a3a" stroke-width="0.85"/>
<path d="M445.3 117.92H450.5L447.9 122.86Z" fill="none" stroke="#f03a3a" stroke-width="0.85"/>
<path d="M457.4 118.12H462.6L460 123.06Z" fill="none" stroke="#f03a3a" stroke-width="0.85"/>
<path d="M469.5 118.22H474.7L472.1 123.16Z" fill="none" stroke="#f03a3a" stroke-width="0.85"/>
<path d="M481.6 118.22H486.8L484.2 123.16Z" fill="none" stroke="#f03a3a" stroke-width="0.85"/>
<path d="M493.7 118.22H498.9L496.3 123.16Z" fill="none" stroke="#f03a3a" stroke-width="0.85"/>
<path d="M505.8 118.22H511L508.4 123.16Z" fill="none" stroke="#f03a3a" stroke-width="0.85"/>
<path d="M517.9 118.22H523.1L520.5 123.16Z" fill="none" stroke="#f03a3a" stroke-width="0.85"/>
<path d="M530 118.22H535.2L532.6 123.16Z" fill="none" stroke="#f03a3a" stroke-width="0.85"/>
<polyline points="302.7,35.9 314.8,76.9 326.9,82.1 339,83 351.1,86.5 363.2,87 375.3,89.2 387.4,92.8 399.5,92.3 411.6,98.6 423.7,99 435.8,99 447.9,99 460,101 472.1,101 484.2,102 496.3,102 508.4,102 520.5,102 532.6,102" fill="none" stroke="#3a3a3a" stroke-width="1.2" stroke-linejoin="round"/>
<path d="M300.1 37.98H305.3L302.7 33.04Z" fill="none" stroke="#3a3a3a" stroke-width="0.85"/>
<path d="M312.2 78.98H317.4L314.8 74.04Z" fill="none" stroke="#3a3a3a" stroke-width="0.85"/>
<path d="M324.3 84.18H329.5L326.9 79.24Z" fill="none" stroke="#3a3a3a" stroke-width="0.85"/>
<path d="M336.4 85.08H341.6L339 80.14Z" fill="none" stroke="#3a3a3a" stroke-width="0.85"/>
<path d="M348.5 88.58H353.7L351.1 83.64Z" fill="none" stroke="#3a3a3a" stroke-width="0.85"/>
<path d="M360.6 89.08H365.8L363.2 84.14Z" fill="none" stroke="#3a3a3a" stroke-width="0.85"/>
<path d="M372.7 91.28H377.9L375.3 86.34Z" fill="none" stroke="#3a3a3a" stroke-width="0.85"/>
<path d="M384.8 94.88H390L387.4 89.94Z" fill="none" stroke="#3a3a3a" stroke-width="0.85"/>
<path d="M396.9 94.38H402.1L399.5 89.44Z" fill="none" stroke="#3a3a3a" stroke-width="0.85"/>
<path d="M409 100.68H414.2L411.6 95.74Z" fill="none" stroke="#3a3a3a" stroke-width="0.85"/>
<path d="M421.1 101.08H426.3L423.7 96.14Z" fill="none" stroke="#3a3a3a" stroke-width="0.85"/>
<path d="M433.2 101.08H438.4L435.8 96.14Z" fill="none" stroke="#3a3a3a" stroke-width="0.85"/>
<path d="M445.3 101.08H450.5L447.9 96.14Z" fill="none" stroke="#3a3a3a" stroke-width="0.85"/>
<path d="M457.4 103.08H462.6L460 98.14Z" fill="none" stroke="#3a3a3a" stroke-width="0.85"/>
<path d="M469.5 103.08H474.7L472.1 98.14Z" fill="none" stroke="#3a3a3a" stroke-width="0.85"/>
<path d="M481.6 104.08H486.8L484.2 99.14Z" fill="none" stroke="#3a3a3a" stroke-width="0.85"/>
<path d="M493.7 104.08H498.9L496.3 99.14Z" fill="none" stroke="#3a3a3a" stroke-width="0.85"/>
<path d="M505.8 104.08H511L508.4 99.14Z" fill="none" stroke="#3a3a3a" stroke-width="0.85"/>
<path d="M517.9 104.08H523.1L520.5 99.14Z" fill="none" stroke="#3a3a3a" stroke-width="0.85"/>
<path d="M530 104.08H535.2L532.6 99.14Z" fill="none" stroke="#3a3a3a" stroke-width="0.85"/>
<polyline points="302.7,30.4 314.8,72.5 326.9,86.5 339,104.7 351.1,112.7 363.2,121.5 375.3,124.5 387.4,126 399.5,126.4 411.6,126.4 423.7,126.7 435.8,126.8 447.9,126.8 460,126.8 472.1,126.8 484.2,126.8 496.3,126.8 508.4,126.8 520.5,126.8 532.6,126.8" fill="none" stroke="#ff2bff" stroke-width="1.2" stroke-linejoin="round"/>
<circle cx="302.7" cy="30.4" r="2.0" fill="#ff2bff"/>
<circle cx="314.8" cy="72.5" r="2.0" fill="#ff2bff"/>
<circle cx="326.9" cy="86.5" r="2.0" fill="#ff2bff"/>
<circle cx="339" cy="104.7" r="2.0" fill="#ff2bff"/>
<circle cx="351.1" cy="112.7" r="2.0" fill="#ff2bff"/>
<circle cx="363.2" cy="121.5" r="2.0" fill="#ff2bff"/>
<circle cx="375.3" cy="124.5" r="2.0" fill="#ff2bff"/>
<circle cx="387.4" cy="126" r="2.0" fill="#ff2bff"/>
<circle cx="399.5" cy="126.4" r="2.0" fill="#ff2bff"/>
<circle cx="411.6" cy="126.4" r="2.0" fill="#ff2bff"/>
<circle cx="423.7" cy="126.7" r="2.0" fill="#ff2bff"/>
<circle cx="435.8" cy="126.8" r="2.0" fill="#ff2bff"/>
<circle cx="447.9" cy="126.8" r="2.0" fill="#ff2bff"/>
<circle cx="460" cy="126.8" r="2.0" fill="#ff2bff"/>
<circle cx="472.1" cy="126.8" r="2.0" fill="#ff2bff"/>
<circle cx="484.2" cy="126.8" r="2.0" fill="#ff2bff"/>
<circle cx="496.3" cy="126.8" r="2.0" fill="#ff2bff"/>
<circle cx="508.4" cy="126.8" r="2.0" fill="#ff2bff"/>
<circle cx="520.5" cy="126.8" r="2.0" fill="#ff2bff"/>
<circle cx="532.6" cy="126.8" r="2.0" fill="#ff2bff"/>
<polyline points="302.7,28.9 314.8,88 326.9,93.8 339,101.8 351.1,106.9 363.2,111 375.3,114.3 387.4,119 399.5,122.3 411.6,124.7 423.7,128.5 435.8,131 447.9,134.6 460,135.9 472.1,138.8 484.2,139.9 496.3,139.9 508.4,139.9 520.5,140.7 532.6,140.7" fill="none" stroke="#3535e8" stroke-width="1.2" stroke-linejoin="round"/>
<path d="M304.78 26.3V31.5L299.84 28.9Z" fill="none" stroke="#3535e8" stroke-width="0.85"/>
<path d="M316.88 85.4V90.6L311.94 88Z" fill="none" stroke="#3535e8" stroke-width="0.85"/>
<path d="M328.98 91.2V96.4L324.04 93.8Z" fill="none" stroke="#3535e8" stroke-width="0.85"/>
<path d="M341.08 99.2V104.4L336.14 101.8Z" fill="none" stroke="#3535e8" stroke-width="0.85"/>
<path d="M353.18 104.3V109.5L348.24 106.9Z" fill="none" stroke="#3535e8" stroke-width="0.85"/>
<path d="M365.28 108.4V113.6L360.34 111Z" fill="none" stroke="#3535e8" stroke-width="0.85"/>
<path d="M377.38 111.7V116.9L372.44 114.3Z" fill="none" stroke="#3535e8" stroke-width="0.85"/>
<path d="M389.48 116.4V121.6L384.54 119Z" fill="none" stroke="#3535e8" stroke-width="0.85"/>
<path d="M401.58 119.7V124.9L396.64 122.3Z" fill="none" stroke="#3535e8" stroke-width="0.85"/>
<path d="M413.68 122.1V127.3L408.74 124.7Z" fill="none" stroke="#3535e8" stroke-width="0.85"/>
<path d="M425.78 125.9V131.1L420.84 128.5Z" fill="none" stroke="#3535e8" stroke-width="0.85"/>
<path d="M437.88 128.4V133.6L432.94 131Z" fill="none" stroke="#3535e8" stroke-width="0.85"/>
<path d="M449.98 132V137.2L445.04 134.6Z" fill="none" stroke="#3535e8" stroke-width="0.85"/>
<path d="M462.08 133.3V138.5L457.14 135.9Z" fill="none" stroke="#3535e8" stroke-width="0.85"/>
<path d="M474.18 136.2V141.4L469.24 138.8Z" fill="none" stroke="#3535e8" stroke-width="0.85"/>
<path d="M486.28 137.3V142.5L481.34 139.9Z" fill="none" stroke="#3535e8" stroke-width="0.85"/>
<path d="M498.38 137.3V142.5L493.44 139.9Z" fill="none" stroke="#3535e8" stroke-width="0.85"/>
<path d="M510.48 137.3V142.5L505.54 139.9Z" fill="none" stroke="#3535e8" stroke-width="0.85"/>
<path d="M522.58 138.1V143.3L517.64 140.7Z" fill="none" stroke="#3535e8" stroke-width="0.85"/>
<path d="M534.68 138.1V143.3L529.74 140.7Z" fill="none" stroke="#3535e8" stroke-width="0.85"/>
<polyline points="302.7,15.1 314.8,29.6 326.9,37.6 339,37.6 351.1,39.8 363.2,44.2 375.3,51.5 387.4,56 399.5,62.2 411.6,71.1 423.7,72.7 435.8,82.2 447.9,83 460,84.6 472.1,96.3 484.2,103.3 496.3,109.5 508.4,116.4 520.5,121 532.6,124.1" fill="none" stroke="#36ecec" stroke-width="1.2" stroke-linejoin="round"/>
<circle cx="302.7" cy="15.1" r="2.0" fill="#36ecec"/>
<circle cx="314.8" cy="29.6" r="2.0" fill="#36ecec"/>
<circle cx="326.9" cy="37.6" r="2.0" fill="#36ecec"/>
<circle cx="339" cy="37.6" r="2.0" fill="#36ecec"/>
<circle cx="351.1" cy="39.8" r="2.0" fill="#36ecec"/>
<circle cx="363.2" cy="44.2" r="2.0" fill="#36ecec"/>
<circle cx="375.3" cy="51.5" r="2.0" fill="#36ecec"/>
<circle cx="387.4" cy="56" r="2.0" fill="#36ecec"/>
<circle cx="399.5" cy="62.2" r="2.0" fill="#36ecec"/>
<circle cx="411.6" cy="71.1" r="2.0" fill="#36ecec"/>
<circle cx="423.7" cy="72.7" r="2.0" fill="#36ecec"/>
<circle cx="435.8" cy="82.2" r="2.0" fill="#36ecec"/>
<circle cx="447.9" cy="83" r="2.0" fill="#36ecec"/>
<circle cx="460" cy="84.6" r="2.0" fill="#36ecec"/>
<circle cx="472.1" cy="96.3" r="2.0" fill="#36ecec"/>
<circle cx="484.2" cy="103.3" r="2.0" fill="#36ecec"/>
<circle cx="496.3" cy="109.5" r="2.0" fill="#36ecec"/>
<circle cx="508.4" cy="116.4" r="2.0" fill="#36ecec"/>
<circle cx="520.5" cy="121" r="2.0" fill="#36ecec"/>
<circle cx="532.6" cy="124.1" r="2.0" fill="#36ecec"/>
<polyline points="302.7,58.7 314.8,69.6 326.9,69.9 339,69.9 351.1,69.3 363.2,79.5 375.3,84.7 387.4,84.6 399.5,84.6 411.6,84.6 423.7,84.6 435.8,84.6 447.9,84.6 460,85.5 472.1,86.6 484.2,87 496.3,87.5 508.4,87.8 520.5,87.8 532.6,87.5" fill="none" stroke="#e0a43a" stroke-width="1.2" stroke-linejoin="round"/>
<path d="M304.78 56.1V61.3L299.84 58.7Z" fill="none" stroke="#e0a43a" stroke-width="0.85"/>
<path d="M316.88 67V72.2L311.94 69.6Z" fill="none" stroke="#e0a43a" stroke-width="0.85"/>
<path d="M328.98 67.3V72.5L324.04 69.9Z" fill="none" stroke="#e0a43a" stroke-width="0.85"/>
<path d="M341.08 67.3V72.5L336.14 69.9Z" fill="none" stroke="#e0a43a" stroke-width="0.85"/>
<path d="M353.18 66.7V71.9L348.24 69.3Z" fill="none" stroke="#e0a43a" stroke-width="0.85"/>
<path d="M365.28 76.9V82.1L360.34 79.5Z" fill="none" stroke="#e0a43a" stroke-width="0.85"/>
<path d="M377.38 82.1V87.3L372.44 84.7Z" fill="none" stroke="#e0a43a" stroke-width="0.85"/>
<path d="M389.48 82V87.2L384.54 84.6Z" fill="none" stroke="#e0a43a" stroke-width="0.85"/>
<path d="M401.58 82V87.2L396.64 84.6Z" fill="none" stroke="#e0a43a" stroke-width="0.85"/>
<path d="M413.68 82V87.2L408.74 84.6Z" fill="none" stroke="#e0a43a" stroke-width="0.85"/>
<path d="M425.78 82V87.2L420.84 84.6Z" fill="none" stroke="#e0a43a" stroke-width="0.85"/>
<path d="M437.88 82V87.2L432.94 84.6Z" fill="none" stroke="#e0a43a" stroke-width="0.85"/>
<path d="M449.98 82V87.2L445.04 84.6Z" fill="none" stroke="#e0a43a" stroke-width="0.85"/>
<path d="M462.08 82.9V88.1L457.14 85.5Z" fill="none" stroke="#e0a43a" stroke-width="0.85"/>
<path d="M474.18 84V89.2L469.24 86.6Z" fill="none" stroke="#e0a43a" stroke-width="0.85"/>
<path d="M486.28 84.4V89.6L481.34 87Z" fill="none" stroke="#e0a43a" stroke-width="0.85"/>
<path d="M498.38 84.9V90.1L493.44 87.5Z" fill="none" stroke="#e0a43a" stroke-width="0.85"/>
<path d="M510.48 85.2V90.4L505.54 87.8Z" fill="none" stroke="#e0a43a" stroke-width="0.85"/>
<path d="M522.58 85.2V90.4L517.64 87.8Z" fill="none" stroke="#e0a43a" stroke-width="0.85"/>
<path d="M534.68 84.9V90.1L529.74 87.5Z" fill="none" stroke="#e0a43a" stroke-width="0.85"/>
<rect x="302.7" y="14.7" width="229.9" height="181.1" fill="none" stroke="#7a7a7a" stroke-width="0.85"/>
<line x1="302.7" x2="304.1" y1="178.39" y2="178.39" stroke="#999" stroke-width="0.5"/>
<line x1="531.2" x2="532.6" y1="178.39" y2="178.39" stroke="#999" stroke-width="0.5"/>
<line x1="302.7" x2="304.1" y1="168.21" y2="168.21" stroke="#999" stroke-width="0.5"/>
<line x1="531.2" x2="532.6" y1="168.21" y2="168.21" stroke="#999" stroke-width="0.5"/>
<line x1="302.7" x2="304.1" y1="160.98" y2="160.98" stroke="#999" stroke-width="0.5"/>
<line x1="531.2" x2="532.6" y1="160.98" y2="160.98" stroke="#999" stroke-width="0.5"/>
<line x1="302.7" x2="304.1" y1="155.38" y2="155.38" stroke="#999" stroke-width="0.5"/>
<line x1="531.2" x2="532.6" y1="155.38" y2="155.38" stroke="#999" stroke-width="0.5"/>
<line x1="302.7" x2="304.1" y1="150.8" y2="150.8" stroke="#999" stroke-width="0.5"/>
<line x1="531.2" x2="532.6" y1="150.8" y2="150.8" stroke="#999" stroke-width="0.5"/>
<line x1="302.7" x2="304.1" y1="146.93" y2="146.93" stroke="#999" stroke-width="0.5"/>
<line x1="531.2" x2="532.6" y1="146.93" y2="146.93" stroke="#999" stroke-width="0.5"/>
<line x1="302.7" x2="304.1" y1="143.57" y2="143.57" stroke="#999" stroke-width="0.5"/>
<line x1="531.2" x2="532.6" y1="143.57" y2="143.57" stroke="#999" stroke-width="0.5"/>
<line x1="302.7" x2="304.1" y1="140.62" y2="140.62" stroke="#999" stroke-width="0.5"/>
<line x1="531.2" x2="532.6" y1="140.62" y2="140.62" stroke="#999" stroke-width="0.5"/>
<line x1="302.7" x2="304.1" y1="120.56" y2="120.56" stroke="#999" stroke-width="0.5"/>
<line x1="531.2" x2="532.6" y1="120.56" y2="120.56" stroke="#999" stroke-width="0.5"/>
<line x1="302.7" x2="304.1" y1="110.38" y2="110.38" stroke="#999" stroke-width="0.5"/>
<line x1="531.2" x2="532.6" y1="110.38" y2="110.38" stroke="#999" stroke-width="0.5"/>
<line x1="302.7" x2="304.1" y1="103.15" y2="103.15" stroke="#999" stroke-width="0.5"/>
<line x1="531.2" x2="532.6" y1="103.15" y2="103.15" stroke="#999" stroke-width="0.5"/>
<line x1="302.7" x2="304.1" y1="97.55" y2="97.55" stroke="#999" stroke-width="0.5"/>
<line x1="531.2" x2="532.6" y1="97.55" y2="97.55" stroke="#999" stroke-width="0.5"/>
<line x1="302.7" x2="304.1" y1="92.97" y2="92.97" stroke="#999" stroke-width="0.5"/>
<line x1="531.2" x2="532.6" y1="92.97" y2="92.97" stroke="#999" stroke-width="0.5"/>
<line x1="302.7" x2="304.1" y1="89.1" y2="89.1" stroke="#999" stroke-width="0.5"/>
<line x1="531.2" x2="532.6" y1="89.1" y2="89.1" stroke="#999" stroke-width="0.5"/>
<line x1="302.7" x2="304.1" y1="85.74" y2="85.74" stroke="#999" stroke-width="0.5"/>
<line x1="531.2" x2="532.6" y1="85.74" y2="85.74" stroke="#999" stroke-width="0.5"/>
<line x1="302.7" x2="304.1" y1="82.79" y2="82.79" stroke="#999" stroke-width="0.5"/>
<line x1="531.2" x2="532.6" y1="82.79" y2="82.79" stroke="#999" stroke-width="0.5"/>
<line x1="302.7" x2="304.1" y1="62.73" y2="62.73" stroke="#999" stroke-width="0.5"/>
<line x1="531.2" x2="532.6" y1="62.73" y2="62.73" stroke="#999" stroke-width="0.5"/>
<line x1="302.7" x2="304.1" y1="52.55" y2="52.55" stroke="#999" stroke-width="0.5"/>
<line x1="531.2" x2="532.6" y1="52.55" y2="52.55" stroke="#999" stroke-width="0.5"/>
<line x1="302.7" x2="304.1" y1="45.32" y2="45.32" stroke="#999" stroke-width="0.5"/>
<line x1="531.2" x2="532.6" y1="45.32" y2="45.32" stroke="#999" stroke-width="0.5"/>
<line x1="302.7" x2="304.1" y1="39.72" y2="39.72" stroke="#999" stroke-width="0.5"/>
<line x1="531.2" x2="532.6" y1="39.72" y2="39.72" stroke="#999" stroke-width="0.5"/>
<line x1="302.7" x2="304.1" y1="35.14" y2="35.14" stroke="#999" stroke-width="0.5"/>
<line x1="531.2" x2="532.6" y1="35.14" y2="35.14" stroke="#999" stroke-width="0.5"/>
<line x1="302.7" x2="304.1" y1="31.27" y2="31.27" stroke="#999" stroke-width="0.5"/>
<line x1="531.2" x2="532.6" y1="31.27" y2="31.27" stroke="#999" stroke-width="0.5"/>
<line x1="302.7" x2="304.1" y1="27.91" y2="27.91" stroke="#999" stroke-width="0.5"/>
<line x1="531.2" x2="532.6" y1="27.91" y2="27.91" stroke="#999" stroke-width="0.5"/>
<line x1="302.7" x2="304.1" y1="24.96" y2="24.96" stroke="#999" stroke-width="0.5"/>
<line x1="531.2" x2="532.6" y1="24.96" y2="24.96" stroke="#999" stroke-width="0.5"/>
<line x1="302.7" x2="304.7" y1="195.8" y2="195.8" stroke="#7a7a7a" stroke-width="0.7"/>
<line x1="530.6" x2="532.6" y1="195.8" y2="195.8" stroke="#7a7a7a" stroke-width="0.7"/>
<line x1="302.7" x2="304.7" y1="137.97" y2="137.97" stroke="#7a7a7a" stroke-width="0.7"/>
<line x1="530.6" x2="532.6" y1="137.97" y2="137.97" stroke="#7a7a7a" stroke-width="0.7"/>
<line x1="302.7" x2="304.7" y1="80.14" y2="80.14" stroke="#7a7a7a" stroke-width="0.7"/>
<line x1="530.6" x2="532.6" y1="80.14" y2="80.14" stroke="#7a7a7a" stroke-width="0.7"/>
<line x1="302.7" x2="304.7" y1="22.31" y2="22.31" stroke="#7a7a7a" stroke-width="0.7"/>
<line x1="530.6" x2="532.6" y1="22.31" y2="22.31" stroke="#7a7a7a" stroke-width="0.7"/>
<rect x="461.3" y="17.3" width="61.3" height="67.4" fill="#fff" stroke="#8c8c8c" stroke-width="0.8"/>
<line x1="463.6" x2="486.8" y1="23.3" y2="23.3" stroke="#3fe33f" stroke-width="1.1"/>
<circle cx="475.2" cy="23.3" r="2.4" fill="none" stroke="#3fe33f" stroke-width="1"/>
<text x="488.9" y="25.9" class="lg">M<tspan dx="1.3">I</tspan><tspan dx="1.3">SCSO</tspan></text>
<line x1="463.6" x2="486.8" y1="32.65" y2="32.65" stroke="#f03a3a" stroke-width="1.1"/>
<path d="M472.6 30.57H477.8L475.2 35.51Z" fill="none" stroke="#f03a3a" stroke-width="0.85"/>
<text x="488.9" y="35.25" class="lg">SCSO</text>
<line x1="463.6" x2="486.8" y1="42" y2="42" stroke="#3a3a3a" stroke-width="1.1"/>
<path d="M472.6 44.08H477.8L475.2 39.14Z" fill="none" stroke="#3a3a3a" stroke-width="0.85"/>
<text x="488.9" y="44.6" class="lg">SMOA</text>
<line x1="463.6" x2="486.8" y1="51.35" y2="51.35" stroke="#ff2bff" stroke-width="1.1"/>
<circle cx="475.2" cy="51.35" r="2.0" fill="#ff2bff"/>
<text x="488.9" y="53.95" class="lg">WOA</text>
<line x1="463.6" x2="486.8" y1="60.7" y2="60.7" stroke="#3535e8" stroke-width="1.1"/>
<path d="M477.28 58.1V63.3L472.34 60.7Z" fill="none" stroke="#3535e8" stroke-width="0.85"/>
<text x="488.9" y="63.3" class="lg">BWO</text>
<line x1="463.6" x2="486.8" y1="70.05" y2="70.05" stroke="#36ecec" stroke-width="1.1"/>
<circle cx="475.2" cy="70.05" r="2.0" fill="#36ecec"/>
<text x="488.9" y="72.65" class="lg">ACO</text>
<line x1="463.6" x2="486.8" y1="79.4" y2="79.4" stroke="#e0a43a" stroke-width="1.1"/>
<path d="M477.28 76.8V82L472.34 79.4Z" fill="none" stroke="#e0a43a" stroke-width="0.85"/>
<text x="488.9" y="82" class="lg">RSA</text>
<text x="299.7" y="199.8" class="tk" text-anchor="end">10<tspan dy="-3.6" font-size="4.6">2</tspan></text>
<text x="299.7" y="141.97" class="tk" text-anchor="end">10<tspan dy="-3.6" font-size="4.6">3</tspan></text>
<text x="299.7" y="84.14" class="tk" text-anchor="end">10<tspan dy="-3.6" font-size="4.6">4</tspan></text>
<text x="299.7" y="26.31" class="tk" text-anchor="end">10<tspan dy="-3.6" font-size="4.6">5</tspan></text>
<text x="302.7" y="206.8" class="tk" text-anchor="middle">0</text>
<line x1="302.7" x2="302.7" y1="193.8" y2="195.8" stroke="#7a7a7a" stroke-width="0.7"/>
<text x="379.33" y="206.8" class="tk" text-anchor="middle">500</text>
<line x1="379.33" x2="379.33" y1="193.8" y2="195.8" stroke="#7a7a7a" stroke-width="0.7"/>
<text x="455.97" y="206.8" class="tk" text-anchor="middle">1000</text>
<line x1="455.97" x2="455.97" y1="193.8" y2="195.8" stroke="#7a7a7a" stroke-width="0.7"/>
<text x="532.6" y="206.8" class="tk" text-anchor="middle">1500</text>
<line x1="532.6" x2="532.6" y1="193.8" y2="195.8" stroke="#7a7a7a" stroke-width="0.7"/>
<text x="419.4" y="12.2" class="tt" text-anchor="middle">F2</text>
<text transform="translate(286.9,109.6) rotate(-90)" class="yl" text-anchor="middle">Mean of objective function values</text>
<text x="425.3" y="220.5" class="xl" text-anchor="middle">Iteration</text>
<text x="528.4" y="219.6" class="sl" text-anchor="middle">(b)</text>
<line x1="37" x2="266.4" y1="403.55" y2="403.55" stroke="#f2f2f2" stroke-width="0.6"/>
<line x1="37" x2="266.4" y1="389.29" y2="389.29" stroke="#f2f2f2" stroke-width="0.6"/>
<line x1="37" x2="266.4" y1="377.23" y2="377.23" stroke="#f2f2f2" stroke-width="0.6"/>
<line x1="37" x2="266.4" y1="366.78" y2="366.78" stroke="#f2f2f2" stroke-width="0.6"/>
<line x1="37" x2="266.4" y1="357.57" y2="357.57" stroke="#f2f2f2" stroke-width="0.6"/>
<line x1="37" x2="266.4" y1="295.12" y2="295.12" stroke="#f2f2f2" stroke-width="0.6"/>
<line x1="37" x2="266.4" y1="263.4" y2="263.4" stroke="#f2f2f2" stroke-width="0.6"/>
<line x1="37" x2="266.4" y1="349.33" y2="349.33" stroke="#e9e9e9" stroke-width="0.7"/>
<line x1="113.47" x2="113.47" y1="240.9" y2="421" stroke="#e9e9e9" stroke-width="0.7"/>
<line x1="189.93" x2="189.93" y1="240.9" y2="421" stroke="#e9e9e9" stroke-width="0.7"/>
<polyline points="37,341.6 49.07,420.2 61.15,421 73.22,420.5 85.29,420.5 97.37,420.5 109.44,420.5 121.52,420.5 133.59,420.5 145.66,420.5 157.74,420.5 169.81,420.5 181.88,420.5 193.96,420.5 206.03,420.5 218.11,420.5 230.18,420.5 242.25,420.5 254.33,420.5 266.4,420.5" fill="none" stroke="#3fe33f" stroke-width="1.2" stroke-linejoin="round"/>
<circle cx="37" cy="341.6" r="2.4" fill="none" stroke="#3fe33f" stroke-width="1"/>
<circle cx="49.07" cy="420.2" r="2.4" fill="none" stroke="#3fe33f" stroke-width="1"/>
<circle cx="61.15" cy="421" r="2.4" fill="none" stroke="#3fe33f" stroke-width="1"/>
<circle cx="73.22" cy="420.5" r="2.4" fill="none" stroke="#3fe33f" stroke-width="1"/>
<circle cx="85.29" cy="420.5" r="2.4" fill="none" stroke="#3fe33f" stroke-width="1"/>
<circle cx="97.37" cy="420.5" r="2.4" fill="none" stroke="#3fe33f" stroke-width="1"/>
<circle cx="109.44" cy="420.5" r="2.4" fill="none" stroke="#3fe33f" stroke-width="1"/>
<circle cx="121.52" cy="420.5" r="2.4" fill="none" stroke="#3fe33f" stroke-width="1"/>
<circle cx="133.59" cy="420.5" r="2.4" fill="none" stroke="#3fe33f" stroke-width="1"/>
<circle cx="145.66" cy="420.5" r="2.4" fill="none" stroke="#3fe33f" stroke-width="1"/>
<circle cx="157.74" cy="420.5" r="2.4" fill="none" stroke="#3fe33f" stroke-width="1"/>
<circle cx="169.81" cy="420.5" r="2.4" fill="none" stroke="#3fe33f" stroke-width="1"/>
<circle cx="181.88" cy="420.5" r="2.4" fill="none" stroke="#3fe33f" stroke-width="1"/>
<circle cx="193.96" cy="420.5" r="2.4" fill="none" stroke="#3fe33f" stroke-width="1"/>
<circle cx="206.03" cy="420.5" r="2.4" fill="none" stroke="#3fe33f" stroke-width="1"/>
<circle cx="218.11" cy="420.5" r="2.4" fill="none" stroke="#3fe33f" stroke-width="1"/>
<circle cx="230.18" cy="420.5" r="2.4" fill="none" stroke="#3fe33f" stroke-width="1"/>
<circle cx="242.25" cy="420.5" r="2.4" fill="none" stroke="#3fe33f" stroke-width="1"/>
<circle cx="254.33" cy="420.5" r="2.4" fill="none" stroke="#3fe33f" stroke-width="1"/>
<circle cx="266.4" cy="420.5" r="2.4" fill="none" stroke="#3fe33f" stroke-width="1"/>
<polyline points="37,239.2 49.07,410.7 61.15,410.7 73.22,414 85.29,414 97.37,414.3 109.44,414.6 121.52,414.6 133.59,414.6 145.66,414.6 157.74,414.6 169.81,414.6 181.88,414.6 193.96,414.6 206.03,414.6 218.11,414.6 230.18,414.6 242.25,414.6 254.33,414.6 266.4,414.6" fill="none" stroke="#f03a3a" stroke-width="1.2" stroke-linejoin="round"/>
<path d="M34.4 237.12H39.6L37 242.06Z" fill="none" stroke="#f03a3a" stroke-width="0.85"/>
<path d="M46.47 408.62H51.67L49.07 413.56Z" fill="none" stroke="#f03a3a" stroke-width="0.85"/>
<path d="M58.55 408.62H63.75L61.15 413.56Z" fill="none" stroke="#f03a3a" stroke-width="0.85"/>
<path d="M70.62 411.92H75.82L73.22 416.86Z" fill="none" stroke="#f03a3a" stroke-width="0.85"/>
<path d="M82.69 411.92H87.89L85.29 416.86Z" fill="none" stroke="#f03a3a" stroke-width="0.85"/>
<path d="M94.77 412.22H99.97L97.37 417.16Z" fill="none" stroke="#f03a3a" stroke-width="0.85"/>
<path d="M106.84 412.52H112.04L109.44 417.46Z" fill="none" stroke="#f03a3a" stroke-width="0.85"/>
<path d="M118.92 412.52H124.12L121.52 417.46Z" fill="none" stroke="#f03a3a" stroke-width="0.85"/>
<path d="M130.99 412.52H136.19L133.59 417.46Z" fill="none" stroke="#f03a3a" stroke-width="0.85"/>
<path d="M143.06 412.52H148.26L145.66 417.46Z" fill="none" stroke="#f03a3a" stroke-width="0.85"/>
<path d="M155.14 412.52H160.34L157.74 417.46Z" fill="none" stroke="#f03a3a" stroke-width="0.85"/>
<path d="M167.21 412.52H172.41L169.81 417.46Z" fill="none" stroke="#f03a3a" stroke-width="0.85"/>
<path d="M179.28 412.52H184.48L181.88 417.46Z" fill="none" stroke="#f03a3a" stroke-width="0.85"/>
<path d="M191.36 412.52H196.56L193.96 417.46Z" fill="none" stroke="#f03a3a" stroke-width="0.85"/>
<path d="M203.43 412.52H208.63L206.03 417.46Z" fill="none" stroke="#f03a3a" stroke-width="0.85"/>
<path d="M215.51 412.52H220.71L218.11 417.46Z" fill="none" stroke="#f03a3a" stroke-width="0.85"/>
<path d="M227.58 412.52H232.78L230.18 417.46Z" fill="none" stroke="#f03a3a" stroke-width="0.85"/>
<path d="M239.65 412.52H244.85L242.25 417.46Z" fill="none" stroke="#f03a3a" stroke-width="0.85"/>
<path d="M251.73 412.52H256.93L254.33 417.46Z" fill="none" stroke="#f03a3a" stroke-width="0.85"/>
<path d="M263.8 412.52H269L266.4 417.46Z" fill="none" stroke="#f03a3a" stroke-width="0.85"/>
<polyline points="37,295.6 49.07,409.7 61.15,412.9 73.22,415.8 85.29,416.3 97.37,416.3 109.44,416.3 121.52,416.3 133.59,416.3 145.66,416.3 157.74,416.3 169.81,416.3 181.88,416.3 193.96,416.3 206.03,416.3 218.11,416.3 230.18,416.3 242.25,416.3 254.33,416.3 266.4,416.3" fill="none" stroke="#3a3a3a" stroke-width="1.2" stroke-linejoin="round"/>
<path d="M34.4 297.68H39.6L37 292.74Z" fill="none" stroke="#3a3a3a" stroke-width="0.85"/>
<path d="M46.47 411.78H51.67L49.07 406.84Z" fill="none" stroke="#3a3a3a" stroke-width="0.85"/>
<path d="M58.55 414.98H63.75L61.15 410.04Z" fill="none" stroke="#3a3a3a" stroke-width="0.85"/>
<path d="M70.62 417.88H75.82L73.22 412.94Z" fill="none" stroke="#3a3a3a" stroke-width="0.85"/>
<path d="M82.69 418.38H87.89L85.29 413.44Z" fill="none" stroke="#3a3a3a" stroke-width="0.85"/>
<path d="M94.77 418.38H99.97L97.37 413.44Z" fill="none" stroke="#3a3a3a" stroke-width="0.85"/>
<path d="M106.84 418.38H112.04L109.44 413.44Z" fill="none" stroke="#3a3a3a" stroke-width="0.85"/>
<path d="M118.92 418.38H124.12L121.52 413.44Z" fill="none" stroke="#3a3a3a" stroke-width="0.85"/>
<path d="M130.99 418.38H136.19L133.59 413.44Z" fill="none" stroke="#3a3a3a" stroke-width="0.85"/>
<path d="M143.06 418.38H148.26L145.66 413.44Z" fill="none" stroke="#3a3a3a" stroke-width="0.85"/>
<path d="M155.14 418.38H160.34L157.74 413.44Z" fill="none" stroke="#3a3a3a" stroke-width="0.85"/>
<path d="M167.21 418.38H172.41L169.81 413.44Z" fill="none" stroke="#3a3a3a" stroke-width="0.85"/>
<path d="M179.28 418.38H184.48L181.88 413.44Z" fill="none" stroke="#3a3a3a" stroke-width="0.85"/>
<path d="M191.36 418.38H196.56L193.96 413.44Z" fill="none" stroke="#3a3a3a" stroke-width="0.85"/>
<path d="M203.43 418.38H208.63L206.03 413.44Z" fill="none" stroke="#3a3a3a" stroke-width="0.85"/>
<path d="M215.51 418.38H220.71L218.11 413.44Z" fill="none" stroke="#3a3a3a" stroke-width="0.85"/>
<path d="M227.58 418.38H232.78L230.18 413.44Z" fill="none" stroke="#3a3a3a" stroke-width="0.85"/>
<path d="M239.65 418.38H244.85L242.25 413.44Z" fill="none" stroke="#3a3a3a" stroke-width="0.85"/>
<path d="M251.73 418.38H256.93L254.33 413.44Z" fill="none" stroke="#3a3a3a" stroke-width="0.85"/>
<path d="M263.8 418.38H269L266.4 413.44Z" fill="none" stroke="#3a3a3a" stroke-width="0.85"/>
<polyline points="37,269.5 49.07,413.6 61.15,414.4 73.22,416.5 85.29,416.3 97.37,416.3 109.44,416.3 121.52,416.3 133.59,416.3 145.66,416.3 157.74,416.3 169.81,416.3 181.88,416.3 193.96,416.3 206.03,416.3 218.11,416.3 230.18,416.3 242.25,416.3 254.33,416.3 266.4,416.3" fill="none" stroke="#ff2bff" stroke-width="1.2" stroke-linejoin="round"/>
<circle cx="37" cy="269.5" r="2.0" fill="#ff2bff"/>
<circle cx="49.07" cy="413.6" r="2.0" fill="#ff2bff"/>
<circle cx="61.15" cy="414.4" r="2.0" fill="#ff2bff"/>
<circle cx="73.22" cy="416.5" r="2.0" fill="#ff2bff"/>
<circle cx="85.29" cy="416.3" r="2.0" fill="#ff2bff"/>
<circle cx="97.37" cy="416.3" r="2.0" fill="#ff2bff"/>
<circle cx="109.44" cy="416.3" r="2.0" fill="#ff2bff"/>
<circle cx="121.52" cy="416.3" r="2.0" fill="#ff2bff"/>
<circle cx="133.59" cy="416.3" r="2.0" fill="#ff2bff"/>
<circle cx="145.66" cy="416.3" r="2.0" fill="#ff2bff"/>
<circle cx="157.74" cy="416.3" r="2.0" fill="#ff2bff"/>
<circle cx="169.81" cy="416.3" r="2.0" fill="#ff2bff"/>
<circle cx="181.88" cy="416.3" r="2.0" fill="#ff2bff"/>
<circle cx="193.96" cy="416.3" r="2.0" fill="#ff2bff"/>
<circle cx="206.03" cy="416.3" r="2.0" fill="#ff2bff"/>
<circle cx="218.11" cy="416.3" r="2.0" fill="#ff2bff"/>
<circle cx="230.18" cy="416.3" r="2.0" fill="#ff2bff"/>
<circle cx="242.25" cy="416.3" r="2.0" fill="#ff2bff"/>
<circle cx="254.33" cy="416.3" r="2.0" fill="#ff2bff"/>
<circle cx="266.4" cy="416.3" r="2.0" fill="#ff2bff"/>
<polyline points="37,336.5 49.07,412 61.15,415 73.22,417 85.29,417.9 97.37,417.9 109.44,417.9 121.52,417.9 133.59,417.9 145.66,417.9 157.74,417.9 169.81,417.9 181.88,417.9 193.96,417.9 206.03,417.9 218.11,417.9 230.18,417.9 242.25,417.9 254.33,417.9 266.4,417.9" fill="none" stroke="#3535e8" stroke-width="1.2" stroke-linejoin="round"/>
<path d="M39.08 333.9V339.1L34.14 336.5Z" fill="none" stroke="#3535e8" stroke-width="0.85"/>
<path d="M51.15 409.4V414.6L46.21 412Z" fill="none" stroke="#3535e8" stroke-width="0.85"/>
<path d="M63.23 412.4V417.6L58.29 415Z" fill="none" stroke="#3535e8" stroke-width="0.85"/>
<path d="M75.3 414.4V419.6L70.36 417Z" fill="none" stroke="#3535e8" stroke-width="0.85"/>
<path d="M87.37 415.3V420.5L82.43 417.9Z" fill="none" stroke="#3535e8" stroke-width="0.85"/>
<path d="M99.45 415.3V420.5L94.51 417.9Z" fill="none" stroke="#3535e8" stroke-width="0.85"/>
<path d="M111.52 415.3V420.5L106.58 417.9Z" fill="none" stroke="#3535e8" stroke-width="0.85"/>
<path d="M123.6 415.3V420.5L118.66 417.9Z" fill="none" stroke="#3535e8" stroke-width="0.85"/>
<path d="M135.67 415.3V420.5L130.73 417.9Z" fill="none" stroke="#3535e8" stroke-width="0.85"/>
<path d="M147.74 415.3V420.5L142.8 417.9Z" fill="none" stroke="#3535e8" stroke-width="0.85"/>
<path d="M159.82 415.3V420.5L154.88 417.9Z" fill="none" stroke="#3535e8" stroke-width="0.85"/>
<path d="M171.89 415.3V420.5L166.95 417.9Z" fill="none" stroke="#3535e8" stroke-width="0.85"/>
<path d="M183.96 415.3V420.5L179.02 417.9Z" fill="none" stroke="#3535e8" stroke-width="0.85"/>
<path d="M196.04 415.3V420.5L191.1 417.9Z" fill="none" stroke="#3535e8" stroke-width="0.85"/>
<path d="M208.11 415.3V420.5L203.17 417.9Z" fill="none" stroke="#3535e8" stroke-width="0.85"/>
<path d="M220.19 415.3V420.5L215.25 417.9Z" fill="none" stroke="#3535e8" stroke-width="0.85"/>
<path d="M232.26 415.3V420.5L227.32 417.9Z" fill="none" stroke="#3535e8" stroke-width="0.85"/>
<path d="M244.33 415.3V420.5L239.39 417.9Z" fill="none" stroke="#3535e8" stroke-width="0.85"/>
<path d="M256.41 415.3V420.5L251.47 417.9Z" fill="none" stroke="#3535e8" stroke-width="0.85"/>
<path d="M268.48 415.3V420.5L263.54 417.9Z" fill="none" stroke="#3535e8" stroke-width="0.85"/>
<polyline points="37,288.4 49.07,417.3 61.15,419 73.22,419.5 85.29,419.5 97.37,419.5 109.44,419.5 121.52,419.5 133.59,419.5 145.66,419.5 157.74,419.5 169.81,419.5 181.88,419.5 193.96,419.5 206.03,419.5 218.11,419.5 230.18,419.5 242.25,419.5 254.33,419.5 266.4,419.5" fill="none" stroke="#36ecec" stroke-width="1.2" stroke-linejoin="round"/>
<circle cx="37" cy="288.4" r="2.0" fill="#36ecec"/>
<circle cx="49.07" cy="417.3" r="2.0" fill="#36ecec"/>
<circle cx="61.15" cy="419" r="2.0" fill="#36ecec"/>
<circle cx="73.22" cy="419.5" r="2.0" fill="#36ecec"/>
<circle cx="85.29" cy="419.5" r="2.0" fill="#36ecec"/>
<circle cx="97.37" cy="419.5" r="2.0" fill="#36ecec"/>
<circle cx="109.44" cy="419.5" r="2.0" fill="#36ecec"/>
<circle cx="121.52" cy="419.5" r="2.0" fill="#36ecec"/>
<circle cx="133.59" cy="419.5" r="2.0" fill="#36ecec"/>
<circle cx="145.66" cy="419.5" r="2.0" fill="#36ecec"/>
<circle cx="157.74" cy="419.5" r="2.0" fill="#36ecec"/>
<circle cx="169.81" cy="419.5" r="2.0" fill="#36ecec"/>
<circle cx="181.88" cy="419.5" r="2.0" fill="#36ecec"/>
<circle cx="193.96" cy="419.5" r="2.0" fill="#36ecec"/>
<circle cx="206.03" cy="419.5" r="2.0" fill="#36ecec"/>
<circle cx="218.11" cy="419.5" r="2.0" fill="#36ecec"/>
<circle cx="230.18" cy="419.5" r="2.0" fill="#36ecec"/>
<circle cx="242.25" cy="419.5" r="2.0" fill="#36ecec"/>
<circle cx="254.33" cy="419.5" r="2.0" fill="#36ecec"/>
<circle cx="266.4" cy="419.5" r="2.0" fill="#36ecec"/>
<polyline points="37,274.1 49.07,274.1 61.15,274.1 73.22,274.1 85.29,274.1 97.37,311.6 109.44,329 121.52,337 133.59,338.6 145.66,339.6 157.74,345.6 169.81,345.6 181.88,345.6 193.96,345.8 206.03,345.9 218.11,352 230.18,352 242.25,352 254.33,352 266.4,352" fill="none" stroke="#e0a43a" stroke-width="1.2" stroke-linejoin="round"/>
<path d="M39.08 271.5V276.7L34.14 274.1Z" fill="none" stroke="#e0a43a" stroke-width="0.85"/>
<path d="M51.15 271.5V276.7L46.21 274.1Z" fill="none" stroke="#e0a43a" stroke-width="0.85"/>
<path d="M63.23 271.5V276.7L58.29 274.1Z" fill="none" stroke="#e0a43a" stroke-width="0.85"/>
<path d="M75.3 271.5V276.7L70.36 274.1Z" fill="none" stroke="#e0a43a" stroke-width="0.85"/>
<path d="M87.37 271.5V276.7L82.43 274.1Z" fill="none" stroke="#e0a43a" stroke-width="0.85"/>
<path d="M99.45 309V314.2L94.51 311.6Z" fill="none" stroke="#e0a43a" stroke-width="0.85"/>
<path d="M111.52 326.4V331.6L106.58 329Z" fill="none" stroke="#e0a43a" stroke-width="0.85"/>
<path d="M123.6 334.4V339.6L118.66 337Z" fill="none" stroke="#e0a43a" stroke-width="0.85"/>
<path d="M135.67 336V341.2L130.73 338.6Z" fill="none" stroke="#e0a43a" stroke-width="0.85"/>
<path d="M147.74 337V342.2L142.8 339.6Z" fill="none" stroke="#e0a43a" stroke-width="0.85"/>
<path d="M159.82 343V348.2L154.88 345.6Z" fill="none" stroke="#e0a43a" stroke-width="0.85"/>
<path d="M171.89 343V348.2L166.95 345.6Z" fill="none" stroke="#e0a43a" stroke-width="0.85"/>
<path d="M183.96 343V348.2L179.02 345.6Z" fill="none" stroke="#e0a43a" stroke-width="0.85"/>
<path d="M196.04 343.2V348.4L191.1 345.8Z" fill="none" stroke="#e0a43a" stroke-width="0.85"/>
<path d="M208.11 343.3V348.5L203.17 345.9Z" fill="none" stroke="#e0a43a" stroke-width="0.85"/>
<path d="M220.19 349.4V354.6L215.25 352Z" fill="none" stroke="#e0a43a" stroke-width="0.85"/>
<path d="M232.26 349.4V354.6L227.32 352Z" fill="none" stroke="#e0a43a" stroke-width="0.85"/>
<path d="M244.33 349.4V354.6L239.39 352Z" fill="none" stroke="#e0a43a" stroke-width="0.85"/>
<path d="M256.41 349.4V354.6L251.47 352Z" fill="none" stroke="#e0a43a" stroke-width="0.85"/>
<path d="M268.48 349.4V354.6L263.54 352Z" fill="none" stroke="#e0a43a" stroke-width="0.85"/>
<rect x="37" y="240.9" width="229.4" height="180.1" fill="none" stroke="#7a7a7a" stroke-width="0.85"/>
<line x1="37" x2="38.4" y1="403.55" y2="403.55" stroke="#999" stroke-width="0.5"/>
<line x1="265" x2="266.4" y1="403.55" y2="403.55" stroke="#999" stroke-width="0.5"/>
<line x1="37" x2="38.4" y1="389.29" y2="389.29" stroke="#999" stroke-width="0.5"/>
<line x1="265" x2="266.4" y1="389.29" y2="389.29" stroke="#999" stroke-width="0.5"/>
<line x1="37" x2="38.4" y1="377.23" y2="377.23" stroke="#999" stroke-width="0.5"/>
<line x1="265" x2="266.4" y1="377.23" y2="377.23" stroke="#999" stroke-width="0.5"/>
<line x1="37" x2="38.4" y1="366.78" y2="366.78" stroke="#999" stroke-width="0.5"/>
<line x1="265" x2="266.4" y1="366.78" y2="366.78" stroke="#999" stroke-width="0.5"/>
<line x1="37" x2="38.4" y1="357.57" y2="357.57" stroke="#999" stroke-width="0.5"/>
<line x1="265" x2="266.4" y1="357.57" y2="357.57" stroke="#999" stroke-width="0.5"/>
<line x1="37" x2="38.4" y1="295.12" y2="295.12" stroke="#999" stroke-width="0.5"/>
<line x1="265" x2="266.4" y1="295.12" y2="295.12" stroke="#999" stroke-width="0.5"/>
<line x1="37" x2="38.4" y1="263.4" y2="263.4" stroke="#999" stroke-width="0.5"/>
<line x1="265" x2="266.4" y1="263.4" y2="263.4" stroke="#999" stroke-width="0.5"/>
<line x1="37" x2="39" y1="349.33" y2="349.33" stroke="#7a7a7a" stroke-width="0.7"/>
<line x1="264.4" x2="266.4" y1="349.33" y2="349.33" stroke="#7a7a7a" stroke-width="0.7"/>
<rect x="195.7" y="251" width="61.6" height="67.6" fill="#fff" stroke="#8c8c8c" stroke-width="0.8"/>
<line x1="198" x2="221.2" y1="257" y2="257" stroke="#3fe33f" stroke-width="1.1"/>
<circle cx="209.6" cy="257" r="2.4" fill="none" stroke="#3fe33f" stroke-width="1"/>
<text x="223.3" y="259.6" class="lg">M<tspan dx="1.3">I</tspan><tspan dx="1.3">SCSO</tspan></text>
<line x1="198" x2="221.2" y1="266.38" y2="266.38" stroke="#f03a3a" stroke-width="1.1"/>
<path d="M207 264.3H212.2L209.6 269.24Z" fill="none" stroke="#f03a3a" stroke-width="0.85"/>
<text x="223.3" y="268.98" class="lg">SCSO</text>
<line x1="198" x2="221.2" y1="275.77" y2="275.77" stroke="#3a3a3a" stroke-width="1.1"/>
<path d="M207 277.85H212.2L209.6 272.91Z" fill="none" stroke="#3a3a3a" stroke-width="0.85"/>
<text x="223.3" y="278.37" class="lg">SMOA</text>
<line x1="198" x2="221.2" y1="285.15" y2="285.15" stroke="#ff2bff" stroke-width="1.1"/>
<circle cx="209.6" cy="285.15" r="2.0" fill="#ff2bff"/>
<text x="223.3" y="287.75" class="lg">WOA</text>
<line x1="198" x2="221.2" y1="294.53" y2="294.53" stroke="#3535e8" stroke-width="1.1"/>
<path d="M211.68 291.93V297.13L206.74 294.53Z" fill="none" stroke="#3535e8" stroke-width="0.85"/>
<text x="223.3" y="297.13" class="lg">BWO</text>
<line x1="198" x2="221.2" y1="303.92" y2="303.92" stroke="#36ecec" stroke-width="1.1"/>
<circle cx="209.6" cy="303.92" r="2.0" fill="#36ecec"/>
<text x="223.3" y="306.52" class="lg">ACO</text>
<line x1="198" x2="221.2" y1="313.3" y2="313.3" stroke="#e0a43a" stroke-width="1.1"/>
<path d="M211.68 310.7V315.9L206.74 313.3Z" fill="none" stroke="#e0a43a" stroke-width="0.85"/>
<text x="223.3" y="315.9" class="lg">RSA</text>
<text x="34" y="353.33" class="tk" text-anchor="end">10<tspan dy="-3.6" font-size="4.6">3</tspan></text>
<text x="37" y="432" class="tk" text-anchor="middle">0</text>
<line x1="37" x2="37" y1="419" y2="421" stroke="#7a7a7a" stroke-width="0.7"/>
<text x="113.47" y="432" class="tk" text-anchor="middle">500</text>
<line x1="113.47" x2="113.47" y1="419" y2="421" stroke="#7a7a7a" stroke-width="0.7"/>
<text x="189.93" y="432" class="tk" text-anchor="middle">1000</text>
<line x1="189.93" x2="189.93" y1="419" y2="421" stroke="#7a7a7a" stroke-width="0.7"/>
<text x="266.4" y="432" class="tk" text-anchor="middle">1500</text>
<line x1="266.4" x2="266.4" y1="419" y2="421" stroke="#7a7a7a" stroke-width="0.7"/>
<text x="155" y="236.7" class="tt" text-anchor="middle">F3</text>
<text transform="translate(15.1,333.8) rotate(-90)" class="yl" text-anchor="middle">Mean of objective function values</text>
<text x="157.9" y="445.9" class="xl" text-anchor="middle">Iteration</text>
<text x="256.5" y="445.2" class="sl" text-anchor="middle">(c)</text>
<line x1="302.7" x2="531.5" y1="420.74" y2="420.74" stroke="#f2f2f2" stroke-width="0.6"/>
<line x1="302.7" x2="531.5" y1="414.49" y2="414.49" stroke="#f2f2f2" stroke-width="0.6"/>
<line x1="302.7" x2="531.5" y1="408.3" y2="408.3" stroke="#f2f2f2" stroke-width="0.6"/>
<line x1="302.7" x2="531.5" y1="402.17" y2="402.17" stroke="#f2f2f2" stroke-width="0.6"/>
<line x1="302.7" x2="531.5" y1="396.1" y2="396.1" stroke="#f2f2f2" stroke-width="0.6"/>
<line x1="302.7" x2="531.5" y1="390.09" y2="390.09" stroke="#f2f2f2" stroke-width="0.6"/>
<line x1="302.7" x2="531.5" y1="384.13" y2="384.13" stroke="#f2f2f2" stroke-width="0.6"/>
<line x1="302.7" x2="531.5" y1="378.22" y2="378.22" stroke="#f2f2f2" stroke-width="0.6"/>
<line x1="302.7" x2="531.5" y1="372.37" y2="372.37" stroke="#f2f2f2" stroke-width="0.6"/>
<line x1="302.7" x2="531.5" y1="366.58" y2="366.58" stroke="#f2f2f2" stroke-width="0.6"/>
<line x1="302.7" x2="531.5" y1="360.83" y2="360.83" stroke="#f2f2f2" stroke-width="0.6"/>
<line x1="302.7" x2="531.5" y1="355.14" y2="355.14" stroke="#f2f2f2" stroke-width="0.6"/>
<line x1="302.7" x2="531.5" y1="349.5" y2="349.5" stroke="#f2f2f2" stroke-width="0.6"/>
<line x1="302.7" x2="531.5" y1="343.9" y2="343.9" stroke="#f2f2f2" stroke-width="0.6"/>
<line x1="302.7" x2="531.5" y1="338.36" y2="338.36" stroke="#f2f2f2" stroke-width="0.6"/>
<line x1="302.7" x2="531.5" y1="332.86" y2="332.86" stroke="#f2f2f2" stroke-width="0.6"/>
<line x1="302.7" x2="531.5" y1="327.41" y2="327.41" stroke="#f2f2f2" stroke-width="0.6"/>
<line x1="302.7" x2="531.5" y1="322" y2="322" stroke="#f2f2f2" stroke-width="0.6"/>
<line x1="302.7" x2="531.5" y1="316.64" y2="316.64" stroke="#f2f2f2" stroke-width="0.6"/>
<line x1="302.7" x2="531.5" y1="311.33" y2="311.33" stroke="#f2f2f2" stroke-width="0.6"/>
<line x1="302.7" x2="531.5" y1="306.06" y2="306.06" stroke="#f2f2f2" stroke-width="0.6"/>
<line x1="302.7" x2="531.5" y1="300.83" y2="300.83" stroke="#f2f2f2" stroke-width="0.6"/>
<line x1="302.7" x2="531.5" y1="295.64" y2="295.64" stroke="#f2f2f2" stroke-width="0.6"/>
<line x1="302.7" x2="531.5" y1="290.5" y2="290.5" stroke="#f2f2f2" stroke-width="0.6"/>
<line x1="302.7" x2="531.5" y1="285.39" y2="285.39" stroke="#f2f2f2" stroke-width="0.6"/>
<line x1="302.7" x2="531.5" y1="280.33" y2="280.33" stroke="#f2f2f2" stroke-width="0.6"/>
<line x1="302.7" x2="531.5" y1="275.31" y2="275.31" stroke="#f2f2f2" stroke-width="0.6"/>
<line x1="302.7" x2="531.5" y1="270.32" y2="270.32" stroke="#f2f2f2" stroke-width="0.6"/>
<line x1="302.7" x2="531.5" y1="265.38" y2="265.38" stroke="#f2f2f2" stroke-width="0.6"/>
<line x1="302.7" x2="531.5" y1="260.47" y2="260.47" stroke="#f2f2f2" stroke-width="0.6"/>
<line x1="302.7" x2="531.5" y1="255.6" y2="255.6" stroke="#f2f2f2" stroke-width="0.6"/>
<line x1="302.7" x2="531.5" y1="250.76" y2="250.76" stroke="#f2f2f2" stroke-width="0.6"/>
<line x1="302.7" x2="531.5" y1="245.97" y2="245.97" stroke="#f2f2f2" stroke-width="0.6"/>
<line x1="302.7" x2="531.5" y1="408.3" y2="408.3" stroke="#e9e9e9" stroke-width="0.7"/>
<line x1="302.7" x2="531.5" y1="384.13" y2="384.13" stroke="#e9e9e9" stroke-width="0.7"/>
<line x1="302.7" x2="531.5" y1="360.83" y2="360.83" stroke="#e9e9e9" stroke-width="0.7"/>
<line x1="302.7" x2="531.5" y1="338.36" y2="338.36" stroke="#e9e9e9" stroke-width="0.7"/>
<line x1="302.7" x2="531.5" y1="316.64" y2="316.64" stroke="#e9e9e9" stroke-width="0.7"/>
<line x1="302.7" x2="531.5" y1="295.64" y2="295.64" stroke="#e9e9e9" stroke-width="0.7"/>
<line x1="302.7" x2="531.5" y1="275.31" y2="275.31" stroke="#e9e9e9" stroke-width="0.7"/>
<line x1="302.7" x2="531.5" y1="255.6" y2="255.6" stroke="#e9e9e9" stroke-width="0.7"/>
<line x1="378.97" x2="378.97" y1="241.4" y2="421.5" stroke="#e9e9e9" stroke-width="0.7"/>
<line x1="455.23" x2="455.23" y1="241.4" y2="421.5" stroke="#e9e9e9" stroke-width="0.7"/>
<polyline points="302.7,300.6 314.74,406.1 326.78,415.1 338.83,419.2 350.87,420 362.91,420.8 374.95,420.8 386.99,420.8 399.04,420.8 411.08,420.8 423.12,420.8 435.16,420.8 447.21,420.8 459.25,420.8 471.29,420.8 483.33,420.8 495.37,420.8 507.42,420.8 519.46,420.8 531.5,420.8" fill="none" stroke="#3fe33f" stroke-width="1.2" stroke-linejoin="round"/>
<circle cx="302.7" cy="300.6" r="2.4" fill="none" stroke="#3fe33f" stroke-width="1"/>
<circle cx="314.74" cy="406.1" r="2.4" fill="none" stroke="#3fe33f" stroke-width="1"/>
<circle cx="326.78" cy="415.1" r="2.4" fill="none" stroke="#3fe33f" stroke-width="1"/>
<circle cx="338.83" cy="419.2" r="2.4" fill="none" stroke="#3fe33f" stroke-width="1"/>
<circle cx="350.87" cy="420" r="2.4" fill="none" stroke="#3fe33f" stroke-width="1"/>
<circle cx="362.91" cy="420.8" r="2.4" fill="none" stroke="#3fe33f" stroke-width="1"/>
<circle cx="374.95" cy="420.8" r="2.4" fill="none" stroke="#3fe33f" stroke-width="1"/>
<circle cx="386.99" cy="420.8" r="2.4" fill="none" stroke="#3fe33f" stroke-width="1"/>
<circle cx="399.04" cy="420.8" r="2.4" fill="none" stroke="#3fe33f" stroke-width="1"/>
<circle cx="411.08" cy="420.8" r="2.4" fill="none" stroke="#3fe33f" stroke-width="1"/>
<circle cx="423.12" cy="420.8" r="2.4" fill="none" stroke="#3fe33f" stroke-width="1"/>
<circle cx="435.16" cy="420.8" r="2.4" fill="none" stroke="#3fe33f" stroke-width="1"/>
<circle cx="447.21" cy="420.8" r="2.4" fill="none" stroke="#3fe33f" stroke-width="1"/>
<circle cx="459.25" cy="420.8" r="2.4" fill="none" stroke="#3fe33f" stroke-width="1"/>
<circle cx="471.29" cy="420.8" r="2.4" fill="none" stroke="#3fe33f" stroke-width="1"/>
<circle cx="483.33" cy="420.8" r="2.4" fill="none" stroke="#3fe33f" stroke-width="1"/>
<circle cx="495.37" cy="420.8" r="2.4" fill="none" stroke="#3fe33f" stroke-width="1"/>
<circle cx="507.42" cy="420.8" r="2.4" fill="none" stroke="#3fe33f" stroke-width="1"/>
<circle cx="519.46" cy="420.8" r="2.4" fill="none" stroke="#3fe33f" stroke-width="1"/>
<circle cx="531.5" cy="420.8" r="2.4" fill="none" stroke="#3fe33f" stroke-width="1"/>
<polyline points="302.7,248.3 314.74,374.2 326.78,383.2 338.83,384.8 350.87,386 362.91,386.5 374.95,387.6 386.99,388.4 399.04,392.7 411.08,393.8 423.12,394.6 435.16,394.6 447.21,394.6 459.25,394.6 471.29,395.1 483.33,395.6 495.37,395.8 507.42,395.8 519.46,395.8 531.5,395.8" fill="none" stroke="#f03a3a" stroke-width="1.2" stroke-linejoin="round"/>
<path d="M300.1 246.22H305.3L302.7 251.16Z" fill="none" stroke="#f03a3a" stroke-width="0.85"/>
<path d="M312.14 372.12H317.34L314.74 377.06Z" fill="none" stroke="#f03a3a" stroke-width="0.85"/>
<path d="M324.18 381.12H329.38L326.78 386.06Z" fill="none" stroke="#f03a3a" stroke-width="0.85"/>
<path d="M336.23 382.72H341.43L338.83 387.66Z" fill="none" stroke="#f03a3a" stroke-width="0.85"/>
<path d="M348.27 383.92H353.47L350.87 388.86Z" fill="none" stroke="#f03a3a" stroke-width="0.85"/>
<path d="M360.31 384.42H365.51L362.91 389.36Z" fill="none" stroke="#f03a3a" stroke-width="0.85"/>
<path d="M372.35 385.52H377.55L374.95 390.46Z" fill="none" stroke="#f03a3a" stroke-width="0.85"/>
<path d="M384.39 386.32H389.59L386.99 391.26Z" fill="none" stroke="#f03a3a" stroke-width="0.85"/>
<path d="M396.44 390.62H401.64L399.04 395.56Z" fill="none" stroke="#f03a3a" stroke-width="0.85"/>
<path d="M408.48 391.72H413.68L411.08 396.66Z" fill="none" stroke="#f03a3a" stroke-width="0.85"/>
<path d="M420.52 392.52H425.72L423.12 397.46Z" fill="none" stroke="#f03a3a" stroke-width="0.85"/>
<path d="M432.56 392.52H437.76L435.16 397.46Z" fill="none" stroke="#f03a3a" stroke-width="0.85"/>
<path d="M444.61 392.52H449.81L447.21 397.46Z" fill="none" stroke="#f03a3a" stroke-width="0.85"/>
<path d="M456.65 392.52H461.85L459.25 397.46Z" fill="none" stroke="#f03a3a" stroke-width="0.85"/>
<path d="M468.69 393.02H473.89L471.29 397.96Z" fill="none" stroke="#f03a3a" stroke-width="0.85"/>
<path d="M480.73 393.52H485.93L483.33 398.46Z" fill="none" stroke="#f03a3a" stroke-width="0.85"/>
<path d="M492.77 393.72H497.97L495.37 398.66Z" fill="none" stroke="#f03a3a" stroke-width="0.85"/>
<path d="M504.82 393.72H510.02L507.42 398.66Z" fill="none" stroke="#f03a3a" stroke-width="0.85"/>
<path d="M516.86 393.72H522.06L519.46 398.66Z" fill="none" stroke="#f03a3a" stroke-width="0.85"/>
<path d="M528.9 393.72H534.1L531.5 398.66Z" fill="none" stroke="#f03a3a" stroke-width="0.85"/>
<polyline points="302.7,280.5 314.74,368.5 326.78,373.4 338.83,373.9 350.87,376.3 362.91,378.3 374.95,379.1 386.99,381.1 399.04,382 411.08,382.5 423.12,388.6 435.16,389.4 447.21,389.4 459.25,389.4 471.29,389.9 483.33,389.9 495.37,389.9 507.42,389.9 519.46,389.9 531.5,389.9" fill="none" stroke="#3a3a3a" stroke-width="1.2" stroke-linejoin="round"/>
<path d="M300.1 282.58H305.3L302.7 277.64Z" fill="none" stroke="#3a3a3a" stroke-width="0.85"/>
<path d="M312.14 370.58H317.34L314.74 365.64Z" fill="none" stroke="#3a3a3a" stroke-width="0.85"/>
<path d="M324.18 375.48H329.38L326.78 370.54Z" fill="none" stroke="#3a3a3a" stroke-width="0.85"/>
<path d="M336.23 375.98H341.43L338.83 371.04Z" fill="none" stroke="#3a3a3a" stroke-width="0.85"/>
<path d="M348.27 378.38H353.47L350.87 373.44Z" fill="none" stroke="#3a3a3a" stroke-width="0.85"/>
<path d="M360.31 380.38H365.51L362.91 375.44Z" fill="none" stroke="#3a3a3a" stroke-width="0.85"/>
<path d="M372.35 381.18H377.55L374.95 376.24Z" fill="none" stroke="#3a3a3a" stroke-width="0.85"/>
<path d="M384.39 383.18H389.59L386.99 378.24Z" fill="none" stroke="#3a3a3a" stroke-width="0.85"/>
<path d="M396.44 384.08H401.64L399.04 379.14Z" fill="none" stroke="#3a3a3a" stroke-width="0.85"/>
<path d="M408.48 384.58H413.68L411.08 379.64Z" fill="none" stroke="#3a3a3a" stroke-width="0.85"/>
<path d="M420.52 390.68H425.72L423.12 385.74Z" fill="none" stroke="#3a3a3a" stroke-width="0.85"/>
<path d="M432.56 391.48H437.76L435.16 386.54Z" fill="none" stroke="#3a3a3a" stroke-width="0.85"/>
<path d="M444.61 391.48H449.81L447.21 386.54Z" fill="none" stroke="#3a3a3a" stroke-width="0.85"/>
<path d="M456.65 391.48H461.85L459.25 386.54Z" fill="none" stroke="#3a3a3a" stroke-width="0.85"/>
<path d="M468.69 391.98H473.89L471.29 387.04Z" fill="none" stroke="#3a3a3a" stroke-width="0.85"/>
<path d="M480.73 391.98H485.93L483.33 387.04Z" fill="none" stroke="#3a3a3a" stroke-width="0.85"/>
<path d="M492.77 391.98H497.97L495.37 387.04Z" fill="none" stroke="#3a3a3a" stroke-width="0.85"/>
<path d="M504.82 391.98H510.02L507.42 387.04Z" fill="none" stroke="#3a3a3a" stroke-width="0.85"/>
<path d="M516.86 391.98H522.06L519.46 387.04Z" fill="none" stroke="#3a3a3a" stroke-width="0.85"/>
<path d="M528.9 391.98H534.1L531.5 387.04Z" fill="none" stroke="#3a3a3a" stroke-width="0.85"/>
<polyline points="302.7,262.2 314.74,353.7 326.78,355.9 338.83,357.5 350.87,357.8 362.91,358 374.95,358.2 386.99,358.2 399.04,358.2 411.08,358.2 423.12,358.2 435.16,358.2 447.21,358.2 459.25,358.2 471.29,358.2 483.33,358.2 495.37,358.2 507.42,358.2 519.46,358.2 531.5,358.2" fill="none" stroke="#ff2bff" stroke-width="1.2" stroke-linejoin="round"/>
<circle cx="302.7" cy="262.2" r="2.0" fill="#ff2bff"/>
<circle cx="314.74" cy="353.7" r="2.0" fill="#ff2bff"/>
<circle cx="326.78" cy="355.9" r="2.0" fill="#ff2bff"/>
<circle cx="338.83" cy="357.5" r="2.0" fill="#ff2bff"/>
<circle cx="350.87" cy="357.8" r="2.0" fill="#ff2bff"/>
<circle cx="362.91" cy="358" r="2.0" fill="#ff2bff"/>
<circle cx="374.95" cy="358.2" r="2.0" fill="#ff2bff"/>
<circle cx="386.99" cy="358.2" r="2.0" fill="#ff2bff"/>
<circle cx="399.04" cy="358.2" r="2.0" fill="#ff2bff"/>
<circle cx="411.08" cy="358.2" r="2.0" fill="#ff2bff"/>
<circle cx="423.12" cy="358.2" r="2.0" fill="#ff2bff"/>
<circle cx="435.16" cy="358.2" r="2.0" fill="#ff2bff"/>
<circle cx="447.21" cy="358.2" r="2.0" fill="#ff2bff"/>
<circle cx="459.25" cy="358.2" r="2.0" fill="#ff2bff"/>
<circle cx="471.29" cy="358.2" r="2.0" fill="#ff2bff"/>
<circle cx="483.33" cy="358.2" r="2.0" fill="#ff2bff"/>
<circle cx="495.37" cy="358.2" r="2.0" fill="#ff2bff"/>
<circle cx="507.42" cy="358.2" r="2.0" fill="#ff2bff"/>
<circle cx="519.46" cy="358.2" r="2.0" fill="#ff2bff"/>
<circle cx="531.5" cy="358.2" r="2.0" fill="#ff2bff"/>
<polyline points="302.7,280.5 314.74,365.2 326.78,380 338.83,390.9 350.87,393.8 362.91,395.5 374.95,396.6 386.99,398 399.04,399.2 411.08,401.7 423.12,403 435.16,403.3 447.21,403.3 459.25,403.3 471.29,404.4 483.33,405 495.37,405 507.42,405.5 519.46,405.8 531.5,405.8" fill="none" stroke="#3535e8" stroke-width="1.2" stroke-linejoin="round"/>
<path d="M304.78 277.9V283.1L299.84 280.5Z" fill="none" stroke="#3535e8" stroke-width="0.85"/>
<path d="M316.82 362.6V367.8L311.88 365.2Z" fill="none" stroke="#3535e8" stroke-width="0.85"/>
<path d="M328.86 377.4V382.6L323.92 380Z" fill="none" stroke="#3535e8" stroke-width="0.85"/>
<path d="M340.91 388.3V393.5L335.97 390.9Z" fill="none" stroke="#3535e8" stroke-width="0.85"/>
<path d="M352.95 391.2V396.4L348.01 393.8Z" fill="none" stroke="#3535e8" stroke-width="0.85"/>
<path d="M364.99 392.9V398.1L360.05 395.5Z" fill="none" stroke="#3535e8" stroke-width="0.85"/>
<path d="M377.03 394V399.2L372.09 396.6Z" fill="none" stroke="#3535e8" stroke-width="0.85"/>
<path d="M389.07 395.4V400.6L384.13 398Z" fill="none" stroke="#3535e8" stroke-width="0.85"/>
<path d="M401.12 396.6V401.8L396.18 399.2Z" fill="none" stroke="#3535e8" stroke-width="0.85"/>
<path d="M413.16 399.1V404.3L408.22 401.7Z" fill="none" stroke="#3535e8" stroke-width="0.85"/>
<path d="M425.2 400.4V405.6L420.26 403Z" fill="none" stroke="#3535e8" stroke-width="0.85"/>
<path d="M437.24 400.7V405.9L432.3 403.3Z" fill="none" stroke="#3535e8" stroke-width="0.85"/>
<path d="M449.29 400.7V405.9L444.35 403.3Z" fill="none" stroke="#3535e8" stroke-width="0.85"/>
<path d="M461.33 400.7V405.9L456.39 403.3Z" fill="none" stroke="#3535e8" stroke-width="0.85"/>
<path d="M473.37 401.8V407L468.43 404.4Z" fill="none" stroke="#3535e8" stroke-width="0.85"/>
<path d="M485.41 402.4V407.6L480.47 405Z" fill="none" stroke="#3535e8" stroke-width="0.85"/>
<path d="M497.45 402.4V407.6L492.51 405Z" fill="none" stroke="#3535e8" stroke-width="0.85"/>
<path d="M509.5 402.9V408.1L504.56 405.5Z" fill="none" stroke="#3535e8" stroke-width="0.85"/>
<path d="M521.54 403.2V408.4L516.6 405.8Z" fill="none" stroke="#3535e8" stroke-width="0.85"/>
<path d="M533.58 403.2V408.4L528.64 405.8Z" fill="none" stroke="#3535e8" stroke-width="0.85"/>
<polyline points="302.7,240.9 314.74,362.7 326.78,372.9 338.83,379.1 350.87,383.2 362.91,391.4 374.95,392.2 386.99,391.8 399.04,391.8 411.08,391.8 423.12,391.8 435.16,391.8 447.21,391.8 459.25,392.2 471.29,392.5 483.33,393 495.37,393 507.42,393 519.46,393 531.5,393" fill="none" stroke="#36ecec" stroke-width="1.2" stroke-linejoin="round"/>
<circle cx="302.7" cy="240.9" r="2.0" fill="#36ecec"/>
<circle cx="314.74" cy="362.7" r="2.0" fill="#36ecec"/>
<circle cx="326.78" cy="372.9" r="2.0" fill="#36ecec"/>
<circle cx="338.83" cy="379.1" r="2.0" fill="#36ecec"/>
<circle cx="350.87" cy="383.2" r="2.0" fill="#36ecec"/>
<circle cx="362.91" cy="391.4" r="2.0" fill="#36ecec"/>
<circle cx="374.95" cy="392.2" r="2.0" fill="#36ecec"/>
<circle cx="386.99" cy="391.8" r="2.0" fill="#36ecec"/>
<circle cx="399.04" cy="391.8" r="2.0" fill="#36ecec"/>
<circle cx="411.08" cy="391.8" r="2.0" fill="#36ecec"/>
<circle cx="423.12" cy="391.8" r="2.0" fill="#36ecec"/>
<circle cx="435.16" cy="391.8" r="2.0" fill="#36ecec"/>
<circle cx="447.21" cy="391.8" r="2.0" fill="#36ecec"/>
<circle cx="459.25" cy="392.2" r="2.0" fill="#36ecec"/>
<circle cx="471.29" cy="392.5" r="2.0" fill="#36ecec"/>
<circle cx="483.33" cy="393" r="2.0" fill="#36ecec"/>
<circle cx="495.37" cy="393" r="2.0" fill="#36ecec"/>
<circle cx="507.42" cy="393" r="2.0" fill="#36ecec"/>
<circle cx="519.46" cy="393" r="2.0" fill="#36ecec"/>
<circle cx="531.5" cy="393" r="2.0" fill="#36ecec"/>
<polyline points="302.7,282.6 314.74,297.4 326.78,308 338.83,309 350.87,310 362.91,319.1 374.95,325.9 386.99,326.5 399.04,331.6 411.08,331.6 423.12,331.6 435.16,331.6 447.21,331.6 459.25,332 471.29,332 483.33,337 495.37,338.1 507.42,338.6 519.46,338.6 531.5,338.6" fill="none" stroke="#e0a43a" stroke-width="1.2" stroke-linejoin="round"/>
<path d="M304.78 280V285.2L299.84 282.6Z" fill="none" stroke="#e0a43a" stroke-width="0.85"/>
<path d="M316.82 294.8V300L311.88 297.4Z" fill="none" stroke="#e0a43a" stroke-width="0.85"/>
<path d="M328.86 305.4V310.6L323.92 308Z" fill="none" stroke="#e0a43a" stroke-width="0.85"/>
<path d="M340.91 306.4V311.6L335.97 309Z" fill="none" stroke="#e0a43a" stroke-width="0.85"/>
<path d="M352.95 307.4V312.6L348.01 310Z" fill="none" stroke="#e0a43a" stroke-width="0.85"/>
<path d="M364.99 316.5V321.7L360.05 319.1Z" fill="none" stroke="#e0a43a" stroke-width="0.85"/>
<path d="M377.03 323.3V328.5L372.09 325.9Z" fill="none" stroke="#e0a43a" stroke-width="0.85"/>
<path d="M389.07 323.9V329.1L384.13 326.5Z" fill="none" stroke="#e0a43a" stroke-width="0.85"/>
<path d="M401.12 329V334.2L396.18 331.6Z" fill="none" stroke="#e0a43a" stroke-width="0.85"/>
<path d="M413.16 329V334.2L408.22 331.6Z" fill="none" stroke="#e0a43a" stroke-width="0.85"/>
<path d="M425.2 329V334.2L420.26 331.6Z" fill="none" stroke="#e0a43a" stroke-width="0.85"/>
<path d="M437.24 329V334.2L432.3 331.6Z" fill="none" stroke="#e0a43a" stroke-width="0.85"/>
<path d="M449.29 329V334.2L444.35 331.6Z" fill="none" stroke="#e0a43a" stroke-width="0.85"/>
<path d="M461.33 329.4V334.6L456.39 332Z" fill="none" stroke="#e0a43a" stroke-width="0.85"/>
<path d="M473.37 329.4V334.6L468.43 332Z" fill="none" stroke="#e0a43a" stroke-width="0.85"/>
<path d="M485.41 334.4V339.6L480.47 337Z" fill="none" stroke="#e0a43a" stroke-width="0.85"/>
<path d="M497.45 335.5V340.7L492.51 338.1Z" fill="none" stroke="#e0a43a" stroke-width="0.85"/>
<path d="M509.5 336V341.2L504.56 338.6Z" fill="none" stroke="#e0a43a" stroke-width="0.85"/>
<path d="M521.54 336V341.2L516.6 338.6Z" fill="none" stroke="#e0a43a" stroke-width="0.85"/>
<path d="M533.58 336V341.2L528.64 338.6Z" fill="none" stroke="#e0a43a" stroke-width="0.85"/>
<rect x="302.7" y="241.4" width="228.8" height="180.1" fill="none" stroke="#7a7a7a" stroke-width="0.85"/>
<line x1="302.7" x2="304.1" y1="420.74" y2="420.74" stroke="#999" stroke-width="0.5"/>
<line x1="530.1" x2="531.5" y1="420.74" y2="420.74" stroke="#999" stroke-width="0.5"/>
<line x1="302.7" x2="304.1" y1="414.49" y2="414.49" stroke="#999" stroke-width="0.5"/>
<line x1="530.1" x2="531.5" y1="414.49" y2="414.49" stroke="#999" stroke-width="0.5"/>
<line x1="302.7" x2="304.1" y1="408.3" y2="408.3" stroke="#999" stroke-width="0.5"/>
<line x1="530.1" x2="531.5" y1="408.3" y2="408.3" stroke="#999" stroke-width="0.5"/>
<line x1="302.7" x2="304.1" y1="402.17" y2="402.17" stroke="#999" stroke-width="0.5"/>
<line x1="530.1" x2="531.5" y1="402.17" y2="402.17" stroke="#999" stroke-width="0.5"/>
<line x1="302.7" x2="304.1" y1="396.1" y2="396.1" stroke="#999" stroke-width="0.5"/>
<line x1="530.1" x2="531.5" y1="396.1" y2="396.1" stroke="#999" stroke-width="0.5"/>
<line x1="302.7" x2="304.1" y1="390.09" y2="390.09" stroke="#999" stroke-width="0.5"/>
<line x1="530.1" x2="531.5" y1="390.09" y2="390.09" stroke="#999" stroke-width="0.5"/>
<line x1="302.7" x2="304.1" y1="384.13" y2="384.13" stroke="#999" stroke-width="0.5"/>
<line x1="530.1" x2="531.5" y1="384.13" y2="384.13" stroke="#999" stroke-width="0.5"/>
<line x1="302.7" x2="304.1" y1="378.22" y2="378.22" stroke="#999" stroke-width="0.5"/>
<line x1="530.1" x2="531.5" y1="378.22" y2="378.22" stroke="#999" stroke-width="0.5"/>
<line x1="302.7" x2="304.1" y1="372.37" y2="372.37" stroke="#999" stroke-width="0.5"/>
<line x1="530.1" x2="531.5" y1="372.37" y2="372.37" stroke="#999" stroke-width="0.5"/>
<line x1="302.7" x2="304.1" y1="366.58" y2="366.58" stroke="#999" stroke-width="0.5"/>
<line x1="530.1" x2="531.5" y1="366.58" y2="366.58" stroke="#999" stroke-width="0.5"/>
<line x1="302.7" x2="304.1" y1="360.83" y2="360.83" stroke="#999" stroke-width="0.5"/>
<line x1="530.1" x2="531.5" y1="360.83" y2="360.83" stroke="#999" stroke-width="0.5"/>
<line x1="302.7" x2="304.1" y1="355.14" y2="355.14" stroke="#999" stroke-width="0.5"/>
<line x1="530.1" x2="531.5" y1="355.14" y2="355.14" stroke="#999" stroke-width="0.5"/>
<line x1="302.7" x2="304.1" y1="349.5" y2="349.5" stroke="#999" stroke-width="0.5"/>
<line x1="530.1" x2="531.5" y1="349.5" y2="349.5" stroke="#999" stroke-width="0.5"/>
<line x1="302.7" x2="304.1" y1="343.9" y2="343.9" stroke="#999" stroke-width="0.5"/>
<line x1="530.1" x2="531.5" y1="343.9" y2="343.9" stroke="#999" stroke-width="0.5"/>
<line x1="302.7" x2="304.1" y1="338.36" y2="338.36" stroke="#999" stroke-width="0.5"/>
<line x1="530.1" x2="531.5" y1="338.36" y2="338.36" stroke="#999" stroke-width="0.5"/>
<line x1="302.7" x2="304.1" y1="332.86" y2="332.86" stroke="#999" stroke-width="0.5"/>
<line x1="530.1" x2="531.5" y1="332.86" y2="332.86" stroke="#999" stroke-width="0.5"/>
<line x1="302.7" x2="304.1" y1="327.41" y2="327.41" stroke="#999" stroke-width="0.5"/>
<line x1="530.1" x2="531.5" y1="327.41" y2="327.41" stroke="#999" stroke-width="0.5"/>
<line x1="302.7" x2="304.1" y1="322" y2="322" stroke="#999" stroke-width="0.5"/>
<line x1="530.1" x2="531.5" y1="322" y2="322" stroke="#999" stroke-width="0.5"/>
<line x1="302.7" x2="304.1" y1="316.64" y2="316.64" stroke="#999" stroke-width="0.5"/>
<line x1="530.1" x2="531.5" y1="316.64" y2="316.64" stroke="#999" stroke-width="0.5"/>
<line x1="302.7" x2="304.1" y1="311.33" y2="311.33" stroke="#999" stroke-width="0.5"/>
<line x1="530.1" x2="531.5" y1="311.33" y2="311.33" stroke="#999" stroke-width="0.5"/>
<line x1="302.7" x2="304.1" y1="306.06" y2="306.06" stroke="#999" stroke-width="0.5"/>
<line x1="530.1" x2="531.5" y1="306.06" y2="306.06" stroke="#999" stroke-width="0.5"/>
<line x1="302.7" x2="304.1" y1="300.83" y2="300.83" stroke="#999" stroke-width="0.5"/>
<line x1="530.1" x2="531.5" y1="300.83" y2="300.83" stroke="#999" stroke-width="0.5"/>
<line x1="302.7" x2="304.1" y1="295.64" y2="295.64" stroke="#999" stroke-width="0.5"/>
<line x1="530.1" x2="531.5" y1="295.64" y2="295.64" stroke="#999" stroke-width="0.5"/>
<line x1="302.7" x2="304.1" y1="290.5" y2="290.5" stroke="#999" stroke-width="0.5"/>
<line x1="530.1" x2="531.5" y1="290.5" y2="290.5" stroke="#999" stroke-width="0.5"/>
<line x1="302.7" x2="304.1" y1="285.39" y2="285.39" stroke="#999" stroke-width="0.5"/>
<line x1="530.1" x2="531.5" y1="285.39" y2="285.39" stroke="#999" stroke-width="0.5"/>
<line x1="302.7" x2="304.1" y1="280.33" y2="280.33" stroke="#999" stroke-width="0.5"/>
<line x1="530.1" x2="531.5" y1="280.33" y2="280.33" stroke="#999" stroke-width="0.5"/>
<line x1="302.7" x2="304.1" y1="275.31" y2="275.31" stroke="#999" stroke-width="0.5"/>
<line x1="530.1" x2="531.5" y1="275.31" y2="275.31" stroke="#999" stroke-width="0.5"/>
<line x1="302.7" x2="304.1" y1="270.32" y2="270.32" stroke="#999" stroke-width="0.5"/>
<line x1="530.1" x2="531.5" y1="270.32" y2="270.32" stroke="#999" stroke-width="0.5"/>
<line x1="302.7" x2="304.1" y1="265.38" y2="265.38" stroke="#999" stroke-width="0.5"/>
<line x1="530.1" x2="531.5" y1="265.38" y2="265.38" stroke="#999" stroke-width="0.5"/>
<line x1="302.7" x2="304.1" y1="260.47" y2="260.47" stroke="#999" stroke-width="0.5"/>
<line x1="530.1" x2="531.5" y1="260.47" y2="260.47" stroke="#999" stroke-width="0.5"/>
<line x1="302.7" x2="304.1" y1="255.6" y2="255.6" stroke="#999" stroke-width="0.5"/>
<line x1="530.1" x2="531.5" y1="255.6" y2="255.6" stroke="#999" stroke-width="0.5"/>
<line x1="302.7" x2="304.1" y1="250.76" y2="250.76" stroke="#999" stroke-width="0.5"/>
<line x1="530.1" x2="531.5" y1="250.76" y2="250.76" stroke="#999" stroke-width="0.5"/>
<line x1="302.7" x2="304.1" y1="245.97" y2="245.97" stroke="#999" stroke-width="0.5"/>
<line x1="530.1" x2="531.5" y1="245.97" y2="245.97" stroke="#999" stroke-width="0.5"/>
<line x1="302.7" x2="304.7" y1="408.3" y2="408.3" stroke="#7a7a7a" stroke-width="0.7"/>
<line x1="529.5" x2="531.5" y1="408.3" y2="408.3" stroke="#7a7a7a" stroke-width="0.7"/>
<line x1="302.7" x2="304.7" y1="384.13" y2="384.13" stroke="#7a7a7a" stroke-width="0.7"/>
<line x1="529.5" x2="531.5" y1="384.13" y2="384.13" stroke="#7a7a7a" stroke-width="0.7"/>
<line x1="302.7" x2="304.7" y1="360.83" y2="360.83" stroke="#7a7a7a" stroke-width="0.7"/>
<line x1="529.5" x2="531.5" y1="360.83" y2="360.83" stroke="#7a7a7a" stroke-width="0.7"/>
<line x1="302.7" x2="304.7" y1="338.36" y2="338.36" stroke="#7a7a7a" stroke-width="0.7"/>
<line x1="529.5" x2="531.5" y1="338.36" y2="338.36" stroke="#7a7a7a" stroke-width="0.7"/>
<line x1="302.7" x2="304.7" y1="316.64" y2="316.64" stroke="#7a7a7a" stroke-width="0.7"/>
<line x1="529.5" x2="531.5" y1="316.64" y2="316.64" stroke="#7a7a7a" stroke-width="0.7"/>
<line x1="302.7" x2="304.7" y1="295.64" y2="295.64" stroke="#7a7a7a" stroke-width="0.7"/>
<line x1="529.5" x2="531.5" y1="295.64" y2="295.64" stroke="#7a7a7a" stroke-width="0.7"/>
<line x1="302.7" x2="304.7" y1="275.31" y2="275.31" stroke="#7a7a7a" stroke-width="0.7"/>
<line x1="529.5" x2="531.5" y1="275.31" y2="275.31" stroke="#7a7a7a" stroke-width="0.7"/>
<line x1="302.7" x2="304.7" y1="255.6" y2="255.6" stroke="#7a7a7a" stroke-width="0.7"/>
<line x1="529.5" x2="531.5" y1="255.6" y2="255.6" stroke="#7a7a7a" stroke-width="0.7"/>
<rect x="461" y="250.4" width="61.4" height="67.6" fill="#fff" stroke="#8c8c8c" stroke-width="0.8"/>
<line x1="463.3" x2="486.5" y1="256.4" y2="256.4" stroke="#3fe33f" stroke-width="1.1"/>
<circle cx="474.9" cy="256.4" r="2.4" fill="none" stroke="#3fe33f" stroke-width="1"/>
<text x="488.6" y="259" class="lg">M<tspan dx="1.3">I</tspan><tspan dx="1.3">SCSO</tspan></text>
<line x1="463.3" x2="486.5" y1="265.78" y2="265.78" stroke="#f03a3a" stroke-width="1.1"/>
<path d="M472.3 263.7H477.5L474.9 268.64Z" fill="none" stroke="#f03a3a" stroke-width="0.85"/>
<text x="488.6" y="268.38" class="lg">SCSO</text>
<line x1="463.3" x2="486.5" y1="275.17" y2="275.17" stroke="#3a3a3a" stroke-width="1.1"/>
<path d="M472.3 277.25H477.5L474.9 272.31Z" fill="none" stroke="#3a3a3a" stroke-width="0.85"/>
<text x="488.6" y="277.77" class="lg">SMOA</text>
<line x1="463.3" x2="486.5" y1="284.55" y2="284.55" stroke="#ff2bff" stroke-width="1.1"/>
<circle cx="474.9" cy="284.55" r="2.0" fill="#ff2bff"/>
<text x="488.6" y="287.15" class="lg">WOA</text>
<line x1="463.3" x2="486.5" y1="293.93" y2="293.93" stroke="#3535e8" stroke-width="1.1"/>
<path d="M476.98 291.33V296.53L472.04 293.93Z" fill="none" stroke="#3535e8" stroke-width="0.85"/>
<text x="488.6" y="296.53" class="lg">BWO</text>
<line x1="463.3" x2="486.5" y1="303.32" y2="303.32" stroke="#36ecec" stroke-width="1.1"/>
<circle cx="474.9" cy="303.32" r="2.0" fill="#36ecec"/>
<text x="488.6" y="305.92" class="lg">ACO</text>
<line x1="463.3" x2="486.5" y1="312.7" y2="312.7" stroke="#e0a43a" stroke-width="1.1"/>
<path d="M476.98 310.1V315.3L472.04 312.7Z" fill="none" stroke="#e0a43a" stroke-width="0.85"/>
<text x="488.6" y="315.3" class="lg">RSA</text>
<text x="299.7" y="410.7" class="tk" text-anchor="end">520</text>
<text x="299.7" y="386.53" class="tk" text-anchor="end">540</text>
<text x="299.7" y="363.23" class="tk" text-anchor="end">560</text>
<text x="299.7" y="340.76" class="tk" text-anchor="end">580</text>
<text x="299.7" y="319.04" class="tk" text-anchor="end">600</text>
<text x="299.7" y="298.04" class="tk" text-anchor="end">620</text>
<text x="299.7" y="277.71" class="tk" text-anchor="end">640</text>
<text x="299.7" y="258" class="tk" text-anchor="end">660</text>
<text x="302.7" y="432.5" class="tk" text-anchor="middle">0</text>
<line x1="302.7" x2="302.7" y1="419.5" y2="421.5" stroke="#7a7a7a" stroke-width="0.7"/>
<text x="378.97" y="432.5" class="tk" text-anchor="middle">500</text>
<line x1="378.97" x2="378.97" y1="419.5" y2="421.5" stroke="#7a7a7a" stroke-width="0.7"/>
<text x="455.23" y="432.5" class="tk" text-anchor="middle">1000</text>
<line x1="455.23" x2="455.23" y1="419.5" y2="421.5" stroke="#7a7a7a" stroke-width="0.7"/>
<text x="531.5" y="432.5" class="tk" text-anchor="middle">1500</text>
<line x1="531.5" x2="531.5" y1="419.5" y2="421.5" stroke="#7a7a7a" stroke-width="0.7"/>
<text x="420.2" y="238.9" class="tt" text-anchor="middle">F4</text>
<text transform="translate(284,333.8) rotate(-90)" class="yl" text-anchor="middle">Mean of objective function values</text>
<text x="423.1" y="445.5" class="xl" text-anchor="middle">Iteration</text>
<text x="528.4" y="445.2" class="sl" text-anchor="middle">(d)</text>
<line x1="38.5" x2="264.4" y1="639.48" y2="639.48" stroke="#f2f2f2" stroke-width="0.6"/>
<line x1="38.5" x2="264.4" y1="635.37" y2="635.37" stroke="#f2f2f2" stroke-width="0.6"/>
<line x1="38.5" x2="264.4" y1="631.28" y2="631.28" stroke="#f2f2f2" stroke-width="0.6"/>
<line x1="38.5" x2="264.4" y1="627.19" y2="627.19" stroke="#f2f2f2" stroke-width="0.6"/>
<line x1="38.5" x2="264.4" y1="623.13" y2="623.13" stroke="#f2f2f2" stroke-width="0.6"/>
<line x1="38.5" x2="264.4" y1="619.07" y2="619.07" stroke="#f2f2f2" stroke-width="0.6"/>
<line x1="38.5" x2="264.4" y1="615.03" y2="615.03" stroke="#f2f2f2" stroke-width="0.6"/>
<line x1="38.5" x2="264.4" y1="611" y2="611" stroke="#f2f2f2" stroke-width="0.6"/>
<line x1="38.5" x2="264.4" y1="606.99" y2="606.99" stroke="#f2f2f2" stroke-width="0.6"/>
<line x1="38.5" x2="264.4" y1="602.99" y2="602.99" stroke="#f2f2f2" stroke-width="0.6"/>
<line x1="38.5" x2="264.4" y1="599" y2="599" stroke="#f2f2f2" stroke-width="0.6"/>
<line x1="38.5" x2="264.4" y1="595.02" y2="595.02" stroke="#f2f2f2" stroke-width="0.6"/>
<line x1="38.5" x2="264.4" y1="591.06" y2="591.06" stroke="#f2f2f2" stroke-width="0.6"/>
<line x1="38.5" x2="264.4" y1="587.11" y2="587.11" stroke="#f2f2f2" stroke-width="0.6"/>
<line x1="38.5" x2="264.4" y1="583.17" y2="583.17" stroke="#f2f2f2" stroke-width="0.6"/>
<line x1="38.5" x2="264.4" y1="579.24" y2="579.24" stroke="#f2f2f2" stroke-width="0.6"/>
<line x1="38.5" x2="264.4" y1="575.33" y2="575.33" stroke="#f2f2f2" stroke-width="0.6"/>
<line x1="38.5" x2="264.4" y1="571.43" y2="571.43" stroke="#f2f2f2" stroke-width="0.6"/>
<line x1="38.5" x2="264.4" y1="567.54" y2="567.54" stroke="#f2f2f2" stroke-width="0.6"/>
<line x1="38.5" x2="264.4" y1="563.66" y2="563.66" stroke="#f2f2f2" stroke-width="0.6"/>
<line x1="38.5" x2="264.4" y1="559.8" y2="559.8" stroke="#f2f2f2" stroke-width="0.6"/>
<line x1="38.5" x2="264.4" y1="555.94" y2="555.94" stroke="#f2f2f2" stroke-width="0.6"/>
<line x1="38.5" x2="264.4" y1="552.1" y2="552.1" stroke="#f2f2f2" stroke-width="0.6"/>
<line x1="38.5" x2="264.4" y1="548.28" y2="548.28" stroke="#f2f2f2" stroke-width="0.6"/>
<line x1="38.5" x2="264.4" y1="544.46" y2="544.46" stroke="#f2f2f2" stroke-width="0.6"/>
<line x1="38.5" x2="264.4" y1="540.65" y2="540.65" stroke="#f2f2f2" stroke-width="0.6"/>
<line x1="38.5" x2="264.4" y1="536.86" y2="536.86" stroke="#f2f2f2" stroke-width="0.6"/>
<line x1="38.5" x2="264.4" y1="533.08" y2="533.08" stroke="#f2f2f2" stroke-width="0.6"/>
<line x1="38.5" x2="264.4" y1="529.31" y2="529.31" stroke="#f2f2f2" stroke-width="0.6"/>
<line x1="38.5" x2="264.4" y1="525.55" y2="525.55" stroke="#f2f2f2" stroke-width="0.6"/>
<line x1="38.5" x2="264.4" y1="521.8" y2="521.8" stroke="#f2f2f2" stroke-width="0.6"/>
<line x1="38.5" x2="264.4" y1="518.06" y2="518.06" stroke="#f2f2f2" stroke-width="0.6"/>
<line x1="38.5" x2="264.4" y1="514.34" y2="514.34" stroke="#f2f2f2" stroke-width="0.6"/>
<line x1="38.5" x2="264.4" y1="510.62" y2="510.62" stroke="#f2f2f2" stroke-width="0.6"/>
<line x1="38.5" x2="264.4" y1="506.92" y2="506.92" stroke="#f2f2f2" stroke-width="0.6"/>
<line x1="38.5" x2="264.4" y1="503.23" y2="503.23" stroke="#f2f2f2" stroke-width="0.6"/>
<line x1="38.5" x2="264.4" y1="499.55" y2="499.55" stroke="#f2f2f2" stroke-width="0.6"/>
<line x1="38.5" x2="264.4" y1="495.88" y2="495.88" stroke="#f2f2f2" stroke-width="0.6"/>
<line x1="38.5" x2="264.4" y1="492.22" y2="492.22" stroke="#f2f2f2" stroke-width="0.6"/>
<line x1="38.5" x2="264.4" y1="488.57" y2="488.57" stroke="#f2f2f2" stroke-width="0.6"/>
<line x1="38.5" x2="264.4" y1="484.93" y2="484.93" stroke="#f2f2f2" stroke-width="0.6"/>
<line x1="38.5" x2="264.4" y1="481.31" y2="481.31" stroke="#f2f2f2" stroke-width="0.6"/>
<line x1="38.5" x2="264.4" y1="477.69" y2="477.69" stroke="#f2f2f2" stroke-width="0.6"/>
<line x1="38.5" x2="264.4" y1="474.09" y2="474.09" stroke="#f2f2f2" stroke-width="0.6"/>
<line x1="38.5" x2="264.4" y1="470.49" y2="470.49" stroke="#f2f2f2" stroke-width="0.6"/>
<line x1="38.5" x2="264.4" y1="466.9" y2="466.9" stroke="#f2f2f2" stroke-width="0.6"/>
<line x1="38.5" x2="264.4" y1="623.13" y2="623.13" stroke="#e9e9e9" stroke-width="0.7"/>
<line x1="38.5" x2="264.4" y1="602.99" y2="602.99" stroke="#e9e9e9" stroke-width="0.7"/>
<line x1="38.5" x2="264.4" y1="583.17" y2="583.17" stroke="#e9e9e9" stroke-width="0.7"/>
<line x1="38.5" x2="264.4" y1="563.66" y2="563.66" stroke="#e9e9e9" stroke-width="0.7"/>
<line x1="38.5" x2="264.4" y1="544.46" y2="544.46" stroke="#e9e9e9" stroke-width="0.7"/>
<line x1="38.5" x2="264.4" y1="525.55" y2="525.55" stroke="#e9e9e9" stroke-width="0.7"/>
<line x1="38.5" x2="264.4" y1="506.92" y2="506.92" stroke="#e9e9e9" stroke-width="0.7"/>
<line x1="38.5" x2="264.4" y1="488.57" y2="488.57" stroke="#e9e9e9" stroke-width="0.7"/>
<line x1="38.5" x2="264.4" y1="470.49" y2="470.49" stroke="#e9e9e9" stroke-width="0.7"/>
<line x1="113.8" x2="113.8" y1="464.4" y2="643.4" stroke="#e9e9e9" stroke-width="0.7"/>
<line x1="189.1" x2="189.1" y1="464.4" y2="643.4" stroke="#e9e9e9" stroke-width="0.7"/>
<polyline points="38.5,509.1 50.39,639.2 62.28,641.7 74.17,643 86.06,643 97.95,643 109.84,643 121.73,643 133.62,643 145.51,643 157.39,643 169.28,643 181.17,643 193.06,643 204.95,643 216.84,643 228.73,643 240.62,643 252.51,643 264.4,643" fill="none" stroke="#3fe33f" stroke-width="1.2" stroke-linejoin="round"/>
<circle cx="38.5" cy="509.1" r="2.4" fill="none" stroke="#3fe33f" stroke-width="1"/>
<circle cx="50.39" cy="639.2" r="2.4" fill="none" stroke="#3fe33f" stroke-width="1"/>
<circle cx="62.28" cy="641.7" r="2.4" fill="none" stroke="#3fe33f" stroke-width="1"/>
<circle cx="74.17" cy="643" r="2.4" fill="none" stroke="#3fe33f" stroke-width="1"/>
<circle cx="86.06" cy="643" r="2.4" fill="none" stroke="#3fe33f" stroke-width="1"/>
<circle cx="97.95" cy="643" r="2.4" fill="none" stroke="#3fe33f" stroke-width="1"/>
<circle cx="109.84" cy="643" r="2.4" fill="none" stroke="#3fe33f" stroke-width="1"/>
<circle cx="121.73" cy="643" r="2.4" fill="none" stroke="#3fe33f" stroke-width="1"/>
<circle cx="133.62" cy="643" r="2.4" fill="none" stroke="#3fe33f" stroke-width="1"/>
<circle cx="145.51" cy="643" r="2.4" fill="none" stroke="#3fe33f" stroke-width="1"/>
<circle cx="157.39" cy="643" r="2.4" fill="none" stroke="#3fe33f" stroke-width="1"/>
<circle cx="169.28" cy="643" r="2.4" fill="none" stroke="#3fe33f" stroke-width="1"/>
<circle cx="181.17" cy="643" r="2.4" fill="none" stroke="#3fe33f" stroke-width="1"/>
<circle cx="193.06" cy="643" r="2.4" fill="none" stroke="#3fe33f" stroke-width="1"/>
<circle cx="204.95" cy="643" r="2.4" fill="none" stroke="#3fe33f" stroke-width="1"/>
<circle cx="216.84" cy="643" r="2.4" fill="none" stroke="#3fe33f" stroke-width="1"/>
<circle cx="228.73" cy="643" r="2.4" fill="none" stroke="#3fe33f" stroke-width="1"/>
<circle cx="240.62" cy="643" r="2.4" fill="none" stroke="#3fe33f" stroke-width="1"/>
<circle cx="252.51" cy="643" r="2.4" fill="none" stroke="#3fe33f" stroke-width="1"/>
<circle cx="264.4" cy="643" r="2.4" fill="none" stroke="#3fe33f" stroke-width="1"/>
<polyline points="38.5,470.6 50.39,584.7 62.28,588.8 74.17,589.3 86.06,590.1 97.95,593.4 109.84,596.6 121.73,599.4 133.62,600.5 145.51,601 157.39,601.8 169.28,602.3 181.17,602.4 193.06,602.5 204.95,602.5 216.84,602.5 228.73,602.5 240.62,602.5 252.51,602.5 264.4,602.5" fill="none" stroke="#f03a3a" stroke-width="1.2" stroke-linejoin="round"/>
<path d="M35.9 468.52H41.1L38.5 473.46Z" fill="none" stroke="#f03a3a" stroke-width="0.85"/>
<path d="M47.79 582.62H52.99L50.39 587.56Z" fill="none" stroke="#f03a3a" stroke-width="0.85"/>
<path d="M59.68 586.72H64.88L62.28 591.66Z" fill="none" stroke="#f03a3a" stroke-width="0.85"/>
<path d="M71.57 587.22H76.77L74.17 592.16Z" fill="none" stroke="#f03a3a" stroke-width="0.85"/>
<path d="M83.46 588.02H88.66L86.06 592.96Z" fill="none" stroke="#f03a3a" stroke-width="0.85"/>
<path d="M95.35 591.32H100.55L97.95 596.26Z" fill="none" stroke="#f03a3a" stroke-width="0.85"/>
<path d="M107.24 594.52H112.44L109.84 599.46Z" fill="none" stroke="#f03a3a" stroke-width="0.85"/>
<path d="M119.13 597.32H124.33L121.73 602.26Z" fill="none" stroke="#f03a3a" stroke-width="0.85"/>
<path d="M131.02 598.42H136.22L133.62 603.36Z" fill="none" stroke="#f03a3a" stroke-width="0.85"/>
<path d="M142.91 598.92H148.11L145.51 603.86Z" fill="none" stroke="#f03a3a" stroke-width="0.85"/>
<path d="M154.79 599.72H159.99L157.39 604.66Z" fill="none" stroke="#f03a3a" stroke-width="0.85"/>
<path d="M166.68 600.22H171.88L169.28 605.16Z" fill="none" stroke="#f03a3a" stroke-width="0.85"/>
<path d="M178.57 600.32H183.77L181.17 605.26Z" fill="none" stroke="#f03a3a" stroke-width="0.85"/>
<path d="M190.46 600.42H195.66L193.06 605.36Z" fill="none" stroke="#f03a3a" stroke-width="0.85"/>
<path d="M202.35 600.42H207.55L204.95 605.36Z" fill="none" stroke="#f03a3a" stroke-width="0.85"/>
<path d="M214.24 600.42H219.44L216.84 605.36Z" fill="none" stroke="#f03a3a" stroke-width="0.85"/>
<path d="M226.13 600.42H231.33L228.73 605.36Z" fill="none" stroke="#f03a3a" stroke-width="0.85"/>
<path d="M238.02 600.42H243.22L240.62 605.36Z" fill="none" stroke="#f03a3a" stroke-width="0.85"/>
<path d="M249.91 600.42H255.11L252.51 605.36Z" fill="none" stroke="#f03a3a" stroke-width="0.85"/>
<path d="M261.8 600.42H267L264.4 605.36Z" fill="none" stroke="#f03a3a" stroke-width="0.85"/>
<polyline points="38.5,480.5 50.39,609.7 62.28,618.7 74.17,619.6 86.06,619.6 97.95,621.2 109.84,621.7 121.73,623.5 133.62,623.4 145.51,623.4 157.39,623.4 169.28,623.6 181.17,623.8 193.06,624.1 204.95,626.5 216.84,626.6 228.73,626.6 240.62,626.6 252.51,626.6 264.4,626.6" fill="none" stroke="#3a3a3a" stroke-width="1.2" stroke-linejoin="round"/>
<path d="M35.9 482.58H41.1L38.5 477.64Z" fill="none" stroke="#3a3a3a" stroke-width="0.85"/>
<path d="M47.79 611.78H52.99L50.39 606.84Z" fill="none" stroke="#3a3a3a" stroke-width="0.85"/>
<path d="M59.68 620.78H64.88L62.28 615.84Z" fill="none" stroke="#3a3a3a" stroke-width="0.85"/>
<path d="M71.57 621.68H76.77L74.17 616.74Z" fill="none" stroke="#3a3a3a" stroke-width="0.85"/>
<path d="M83.46 621.68H88.66L86.06 616.74Z" fill="none" stroke="#3a3a3a" stroke-width="0.85"/>
<path d="M95.35 623.28H100.55L97.95 618.34Z" fill="none" stroke="#3a3a3a" stroke-width="0.85"/>
<path d="M107.24 623.78H112.44L109.84 618.84Z" fill="none" stroke="#3a3a3a" stroke-width="0.85"/>
<path d="M119.13 625.58H124.33L121.73 620.64Z" fill="none" stroke="#3a3a3a" stroke-width="0.85"/>
<path d="M131.02 625.48H136.22L133.62 620.54Z" fill="none" stroke="#3a3a3a" stroke-width="0.85"/>
<path d="M142.91 625.48H148.11L145.51 620.54Z" fill="none" stroke="#3a3a3a" stroke-width="0.85"/>
<path d="M154.79 625.48H159.99L157.39 620.54Z" fill="none" stroke="#3a3a3a" stroke-width="0.85"/>
<path d="M166.68 625.68H171.88L169.28 620.74Z" fill="none" stroke="#3a3a3a" stroke-width="0.85"/>
<path d="M178.57 625.88H183.77L181.17 620.94Z" fill="none" stroke="#3a3a3a" stroke-width="0.85"/>
<path d="M190.46 626.18H195.66L193.06 621.24Z" fill="none" stroke="#3a3a3a" stroke-width="0.85"/>
<path d="M202.35 628.58H207.55L204.95 623.64Z" fill="none" stroke="#3a3a3a" stroke-width="0.85"/>
<path d="M214.24 628.68H219.44L216.84 623.74Z" fill="none" stroke="#3a3a3a" stroke-width="0.85"/>
<path d="M226.13 628.68H231.33L228.73 623.74Z" fill="none" stroke="#3a3a3a" stroke-width="0.85"/>
<path d="M238.02 628.68H243.22L240.62 623.74Z" fill="none" stroke="#3a3a3a" stroke-width="0.85"/>
<path d="M249.91 628.68H255.11L252.51 623.74Z" fill="none" stroke="#3a3a3a" stroke-width="0.85"/>
<path d="M261.8 628.68H267L264.4 623.74Z" fill="none" stroke="#3a3a3a" stroke-width="0.85"/>
<polyline points="38.5,464.1 50.39,561.5 62.28,563.9 74.17,564.7 86.06,565.1 97.95,565.5 109.84,565.9 121.73,567.3 133.62,567.8 145.51,568.8 157.39,568.8 169.28,568.8 181.17,568.8 193.06,568.8 204.95,568.8 216.84,568.8 228.73,568.8 240.62,568.8 252.51,568.8 264.4,568.8" fill="none" stroke="#ff2bff" stroke-width="1.2" stroke-linejoin="round"/>
<circle cx="38.5" cy="464.1" r="2.0" fill="#ff2bff"/>
<circle cx="50.39" cy="561.5" r="2.0" fill="#ff2bff"/>
<circle cx="62.28" cy="563.9" r="2.0" fill="#ff2bff"/>
<circle cx="74.17" cy="564.7" r="2.0" fill="#ff2bff"/>
<circle cx="86.06" cy="565.1" r="2.0" fill="#ff2bff"/>
<circle cx="97.95" cy="565.5" r="2.0" fill="#ff2bff"/>
<circle cx="109.84" cy="565.9" r="2.0" fill="#ff2bff"/>
<circle cx="121.73" cy="567.3" r="2.0" fill="#ff2bff"/>
<circle cx="133.62" cy="567.8" r="2.0" fill="#ff2bff"/>
<circle cx="145.51" cy="568.8" r="2.0" fill="#ff2bff"/>
<circle cx="157.39" cy="568.8" r="2.0" fill="#ff2bff"/>
<circle cx="169.28" cy="568.8" r="2.0" fill="#ff2bff"/>
<circle cx="181.17" cy="568.8" r="2.0" fill="#ff2bff"/>
<circle cx="193.06" cy="568.8" r="2.0" fill="#ff2bff"/>
<circle cx="204.95" cy="568.8" r="2.0" fill="#ff2bff"/>
<circle cx="216.84" cy="568.8" r="2.0" fill="#ff2bff"/>
<circle cx="228.73" cy="568.8" r="2.0" fill="#ff2bff"/>
<circle cx="240.62" cy="568.8" r="2.0" fill="#ff2bff"/>
<circle cx="252.51" cy="568.8" r="2.0" fill="#ff2bff"/>
<circle cx="264.4" cy="568.8" r="2.0" fill="#ff2bff"/>
<polyline points="38.5,496.8 50.39,602 62.28,613.8 74.17,622.8 86.06,625 97.95,628.6 109.84,630.2 121.73,631.4 133.62,631.8 145.51,633 157.39,635.4 169.28,635.9 181.17,636 193.06,636 204.95,636 216.84,636 228.73,636 240.62,636 252.51,636 264.4,636" fill="none" stroke="#3535e8" stroke-width="1.2" stroke-linejoin="round"/>
<path d="M40.58 494.2V499.4L35.64 496.8Z" fill="none" stroke="#3535e8" stroke-width="0.85"/>
<path d="M52.47 599.4V604.6L47.53 602Z" fill="none" stroke="#3535e8" stroke-width="0.85"/>
<path d="M64.36 611.2V616.4L59.42 613.8Z" fill="none" stroke="#3535e8" stroke-width="0.85"/>
<path d="M76.25 620.2V625.4L71.31 622.8Z" fill="none" stroke="#3535e8" stroke-width="0.85"/>
<path d="M88.14 622.4V627.6L83.2 625Z" fill="none" stroke="#3535e8" stroke-width="0.85"/>
<path d="M100.03 626V631.2L95.09 628.6Z" fill="none" stroke="#3535e8" stroke-width="0.85"/>
<path d="M111.92 627.6V632.8L106.98 630.2Z" fill="none" stroke="#3535e8" stroke-width="0.85"/>
<path d="M123.81 628.8V634L118.87 631.4Z" fill="none" stroke="#3535e8" stroke-width="0.85"/>
<path d="M135.7 629.2V634.4L130.76 631.8Z" fill="none" stroke="#3535e8" stroke-width="0.85"/>
<path d="M147.59 630.4V635.6L142.65 633Z" fill="none" stroke="#3535e8" stroke-width="0.85"/>
<path d="M159.47 632.8V638L154.53 635.4Z" fill="none" stroke="#3535e8" stroke-width="0.85"/>
<path d="M171.36 633.3V638.5L166.42 635.9Z" fill="none" stroke="#3535e8" stroke-width="0.85"/>
<path d="M183.25 633.4V638.6L178.31 636Z" fill="none" stroke="#3535e8" stroke-width="0.85"/>
<path d="M195.14 633.4V638.6L190.2 636Z" fill="none" stroke="#3535e8" stroke-width="0.85"/>
<path d="M207.03 633.4V638.6L202.09 636Z" fill="none" stroke="#3535e8" stroke-width="0.85"/>
<path d="M218.92 633.4V638.6L213.98 636Z" fill="none" stroke="#3535e8" stroke-width="0.85"/>
<path d="M230.81 633.4V638.6L225.87 636Z" fill="none" stroke="#3535e8" stroke-width="0.85"/>
<path d="M242.7 633.4V638.6L237.76 636Z" fill="none" stroke="#3535e8" stroke-width="0.85"/>
<path d="M254.59 633.4V638.6L249.65 636Z" fill="none" stroke="#3535e8" stroke-width="0.85"/>
<path d="M266.48 633.4V638.6L261.54 636Z" fill="none" stroke="#3535e8" stroke-width="0.85"/>
<polyline points="38.5,487.8 50.39,625.3 62.28,641.7 74.17,643 86.06,643 97.95,643 109.84,643 121.73,643 133.62,643 145.51,643 157.39,643 169.28,643 181.17,643 193.06,643 204.95,643 216.84,643 228.73,643 240.62,643 252.51,643 264.4,643" fill="none" stroke="#36ecec" stroke-width="1.2" stroke-linejoin="round"/>
<circle cx="38.5" cy="487.8" r="2.0" fill="#36ecec"/>
<circle cx="50.39" cy="625.3" r="2.0" fill="#36ecec"/>
<circle cx="62.28" cy="641.7" r="2.0" fill="#36ecec"/>
<circle cx="74.17" cy="643" r="2.0" fill="#36ecec"/>
<circle cx="86.06" cy="643" r="2.0" fill="#36ecec"/>
<circle cx="97.95" cy="643" r="2.0" fill="#36ecec"/>
<circle cx="109.84" cy="643" r="2.0" fill="#36ecec"/>
<circle cx="121.73" cy="643" r="2.0" fill="#36ecec"/>
<circle cx="133.62" cy="643" r="2.0" fill="#36ecec"/>
<circle cx="145.51" cy="643" r="2.0" fill="#36ecec"/>
<circle cx="157.39" cy="643" r="2.0" fill="#36ecec"/>
<circle cx="169.28" cy="643" r="2.0" fill="#36ecec"/>
<circle cx="181.17" cy="643" r="2.0" fill="#36ecec"/>
<circle cx="193.06" cy="643" r="2.0" fill="#36ecec"/>
<circle cx="204.95" cy="643" r="2.0" fill="#36ecec"/>
<circle cx="216.84" cy="643" r="2.0" fill="#36ecec"/>
<circle cx="228.73" cy="643" r="2.0" fill="#36ecec"/>
<circle cx="240.62" cy="643" r="2.0" fill="#36ecec"/>
<circle cx="252.51" cy="643" r="2.0" fill="#36ecec"/>
<circle cx="264.4" cy="643" r="2.0" fill="#36ecec"/>
<polyline points="38.5,506.6 50.39,514.8 62.28,516.5 74.17,519.7 86.06,520.6 97.95,530.7 109.84,544.3 121.73,546.6 133.62,548.1 145.51,549.5 157.39,549.5 169.28,549.5 181.17,549.6 193.06,549.6 204.95,549.3 216.84,560.3 228.73,560.8 240.62,561.1 252.51,561.1 264.4,561.1" fill="none" stroke="#e0a43a" stroke-width="1.2" stroke-linejoin="round"/>
<path d="M40.58 504V509.2L35.64 506.6Z" fill="none" stroke="#e0a43a" stroke-width="0.85"/>
<path d="M52.47 512.2V517.4L47.53 514.8Z" fill="none" stroke="#e0a43a" stroke-width="0.85"/>
<path d="M64.36 513.9V519.1L59.42 516.5Z" fill="none" stroke="#e0a43a" stroke-width="0.85"/>
<path d="M76.25 517.1V522.3L71.31 519.7Z" fill="none" stroke="#e0a43a" stroke-width="0.85"/>
<path d="M88.14 518V523.2L83.2 520.6Z" fill="none" stroke="#e0a43a" stroke-width="0.85"/>
<path d="M100.03 528.1V533.3L95.09 530.7Z" fill="none" stroke="#e0a43a" stroke-width="0.85"/>
<path d="M111.92 541.7V546.9L106.98 544.3Z" fill="none" stroke="#e0a43a" stroke-width="0.85"/>
<path d="M123.81 544V549.2L118.87 546.6Z" fill="none" stroke="#e0a43a" stroke-width="0.85"/>
<path d="M135.7 545.5V550.7L130.76 548.1Z" fill="none" stroke="#e0a43a" stroke-width="0.85"/>
<path d="M147.59 546.9V552.1L142.65 549.5Z" fill="none" stroke="#e0a43a" stroke-width="0.85"/>
<path d="M159.47 546.9V552.1L154.53 549.5Z" fill="none" stroke="#e0a43a" stroke-width="0.85"/>
<path d="M171.36 546.9V552.1L166.42 549.5Z" fill="none" stroke="#e0a43a" stroke-width="0.85"/>
<path d="M183.25 547V552.2L178.31 549.6Z" fill="none" stroke="#e0a43a" stroke-width="0.85"/>
<path d="M195.14 547V552.2L190.2 549.6Z" fill="none" stroke="#e0a43a" stroke-width="0.85"/>
<path d="M207.03 546.7V551.9L202.09 549.3Z" fill="none" stroke="#e0a43a" stroke-width="0.85"/>
<path d="M218.92 557.7V562.9L213.98 560.3Z" fill="none" stroke="#e0a43a" stroke-width="0.85"/>
<path d="M230.81 558.2V563.4L225.87 560.8Z" fill="none" stroke="#e0a43a" stroke-width="0.85"/>
<path d="M242.7 558.5V563.7L237.76 561.1Z" fill="none" stroke="#e0a43a" stroke-width="0.85"/>
<path d="M254.59 558.5V563.7L249.65 561.1Z" fill="none" stroke="#e0a43a" stroke-width="0.85"/>
<path d="M266.48 558.5V563.7L261.54 561.1Z" fill="none" stroke="#e0a43a" stroke-width="0.85"/>
<rect x="38.5" y="464.4" width="225.9" height="179" fill="none" stroke="#7a7a7a" stroke-width="0.85"/>
<line x1="38.5" x2="39.9" y1="639.48" y2="639.48" stroke="#999" stroke-width="0.5"/>
<line x1="263" x2="264.4" y1="639.48" y2="639.48" stroke="#999" stroke-width="0.5"/>
<line x1="38.5" x2="39.9" y1="635.37" y2="635.37" stroke="#999" stroke-width="0.5"/>
<line x1="263" x2="264.4" y1="635.37" y2="635.37" stroke="#999" stroke-width="0.5"/>
<line x1="38.5" x2="39.9" y1="631.28" y2="631.28" stroke="#999" stroke-width="0.5"/>
<line x1="263" x2="264.4" y1="631.28" y2="631.28" stroke="#999" stroke-width="0.5"/>
<line x1="38.5" x2="39.9" y1="627.19" y2="627.19" stroke="#999" stroke-width="0.5"/>
<line x1="263" x2="264.4" y1="627.19" y2="627.19" stroke="#999" stroke-width="0.5"/>
<line x1="38.5" x2="39.9" y1="623.13" y2="623.13" stroke="#999" stroke-width="0.5"/>
<line x1="263" x2="264.4" y1="623.13" y2="623.13" stroke="#999" stroke-width="0.5"/>
<line x1="38.5" x2="39.9" y1="619.07" y2="619.07" stroke="#999" stroke-width="0.5"/>
<line x1="263" x2="264.4" y1="619.07" y2="619.07" stroke="#999" stroke-width="0.5"/>
<line x1="38.5" x2="39.9" y1="615.03" y2="615.03" stroke="#999" stroke-width="0.5"/>
<line x1="263" x2="264.4" y1="615.03" y2="615.03" stroke="#999" stroke-width="0.5"/>
<line x1="38.5" x2="39.9" y1="611" y2="611" stroke="#999" stroke-width="0.5"/>
<line x1="263" x2="264.4" y1="611" y2="611" stroke="#999" stroke-width="0.5"/>
<line x1="38.5" x2="39.9" y1="606.99" y2="606.99" stroke="#999" stroke-width="0.5"/>
<line x1="263" x2="264.4" y1="606.99" y2="606.99" stroke="#999" stroke-width="0.5"/>
<line x1="38.5" x2="39.9" y1="602.99" y2="602.99" stroke="#999" stroke-width="0.5"/>
<line x1="263" x2="264.4" y1="602.99" y2="602.99" stroke="#999" stroke-width="0.5"/>
<line x1="38.5" x2="39.9" y1="599" y2="599" stroke="#999" stroke-width="0.5"/>
<line x1="263" x2="264.4" y1="599" y2="599" stroke="#999" stroke-width="0.5"/>
<line x1="38.5" x2="39.9" y1="595.02" y2="595.02" stroke="#999" stroke-width="0.5"/>
<line x1="263" x2="264.4" y1="595.02" y2="595.02" stroke="#999" stroke-width="0.5"/>
<line x1="38.5" x2="39.9" y1="591.06" y2="591.06" stroke="#999" stroke-width="0.5"/>
<line x1="263" x2="264.4" y1="591.06" y2="591.06" stroke="#999" stroke-width="0.5"/>
<line x1="38.5" x2="39.9" y1="587.11" y2="587.11" stroke="#999" stroke-width="0.5"/>
<line x1="263" x2="264.4" y1="587.11" y2="587.11" stroke="#999" stroke-width="0.5"/>
<line x1="38.5" x2="39.9" y1="583.17" y2="583.17" stroke="#999" stroke-width="0.5"/>
<line x1="263" x2="264.4" y1="583.17" y2="583.17" stroke="#999" stroke-width="0.5"/>
<line x1="38.5" x2="39.9" y1="579.24" y2="579.24" stroke="#999" stroke-width="0.5"/>
<line x1="263" x2="264.4" y1="579.24" y2="579.24" stroke="#999" stroke-width="0.5"/>
<line x1="38.5" x2="39.9" y1="575.33" y2="575.33" stroke="#999" stroke-width="0.5"/>
<line x1="263" x2="264.4" y1="575.33" y2="575.33" stroke="#999" stroke-width="0.5"/>
<line x1="38.5" x2="39.9" y1="571.43" y2="571.43" stroke="#999" stroke-width="0.5"/>
<line x1="263" x2="264.4" y1="571.43" y2="571.43" stroke="#999" stroke-width="0.5"/>
<line x1="38.5" x2="39.9" y1="567.54" y2="567.54" stroke="#999" stroke-width="0.5"/>
<line x1="263" x2="264.4" y1="567.54" y2="567.54" stroke="#999" stroke-width="0.5"/>
<line x1="38.5" x2="39.9" y1="563.66" y2="563.66" stroke="#999" stroke-width="0.5"/>
<line x1="263" x2="264.4" y1="563.66" y2="563.66" stroke="#999" stroke-width="0.5"/>
<line x1="38.5" x2="39.9" y1="559.8" y2="559.8" stroke="#999" stroke-width="0.5"/>
<line x1="263" x2="264.4" y1="559.8" y2="559.8" stroke="#999" stroke-width="0.5"/>
<line x1="38.5" x2="39.9" y1="555.94" y2="555.94" stroke="#999" stroke-width="0.5"/>
<line x1="263" x2="264.4" y1="555.94" y2="555.94" stroke="#999" stroke-width="0.5"/>
<line x1="38.5" x2="39.9" y1="552.1" y2="552.1" stroke="#999" stroke-width="0.5"/>
<line x1="263" x2="264.4" y1="552.1" y2="552.1" stroke="#999" stroke-width="0.5"/>
<line x1="38.5" x2="39.9" y1="548.28" y2="548.28" stroke="#999" stroke-width="0.5"/>
<line x1="263" x2="264.4" y1="548.28" y2="548.28" stroke="#999" stroke-width="0.5"/>
<line x1="38.5" x2="39.9" y1="544.46" y2="544.46" stroke="#999" stroke-width="0.5"/>
<line x1="263" x2="264.4" y1="544.46" y2="544.46" stroke="#999" stroke-width="0.5"/>
<line x1="38.5" x2="39.9" y1="540.65" y2="540.65" stroke="#999" stroke-width="0.5"/>
<line x1="263" x2="264.4" y1="540.65" y2="540.65" stroke="#999" stroke-width="0.5"/>
<line x1="38.5" x2="39.9" y1="536.86" y2="536.86" stroke="#999" stroke-width="0.5"/>
<line x1="263" x2="264.4" y1="536.86" y2="536.86" stroke="#999" stroke-width="0.5"/>
<line x1="38.5" x2="39.9" y1="533.08" y2="533.08" stroke="#999" stroke-width="0.5"/>
<line x1="263" x2="264.4" y1="533.08" y2="533.08" stroke="#999" stroke-width="0.5"/>
<line x1="38.5" x2="39.9" y1="529.31" y2="529.31" stroke="#999" stroke-width="0.5"/>
<line x1="263" x2="264.4" y1="529.31" y2="529.31" stroke="#999" stroke-width="0.5"/>
<line x1="38.5" x2="39.9" y1="525.55" y2="525.55" stroke="#999" stroke-width="0.5"/>
<line x1="263" x2="264.4" y1="525.55" y2="525.55" stroke="#999" stroke-width="0.5"/>
<line x1="38.5" x2="39.9" y1="521.8" y2="521.8" stroke="#999" stroke-width="0.5"/>
<line x1="263" x2="264.4" y1="521.8" y2="521.8" stroke="#999" stroke-width="0.5"/>
<line x1="38.5" x2="39.9" y1="518.06" y2="518.06" stroke="#999" stroke-width="0.5"/>
<line x1="263" x2="264.4" y1="518.06" y2="518.06" stroke="#999" stroke-width="0.5"/>
<line x1="38.5" x2="39.9" y1="514.34" y2="514.34" stroke="#999" stroke-width="0.5"/>
<line x1="263" x2="264.4" y1="514.34" y2="514.34" stroke="#999" stroke-width="0.5"/>
<line x1="38.5" x2="39.9" y1="510.62" y2="510.62" stroke="#999" stroke-width="0.5"/>
<line x1="263" x2="264.4" y1="510.62" y2="510.62" stroke="#999" stroke-width="0.5"/>
<line x1="38.5" x2="39.9" y1="506.92" y2="506.92" stroke="#999" stroke-width="0.5"/>
<line x1="263" x2="264.4" y1="506.92" y2="506.92" stroke="#999" stroke-width="0.5"/>
<line x1="38.5" x2="39.9" y1="503.23" y2="503.23" stroke="#999" stroke-width="0.5"/>
<line x1="263" x2="264.4" y1="503.23" y2="503.23" stroke="#999" stroke-width="0.5"/>
<line x1="38.5" x2="39.9" y1="499.55" y2="499.55" stroke="#999" stroke-width="0.5"/>
<line x1="263" x2="264.4" y1="499.55" y2="499.55" stroke="#999" stroke-width="0.5"/>
<line x1="38.5" x2="39.9" y1="495.88" y2="495.88" stroke="#999" stroke-width="0.5"/>
<line x1="263" x2="264.4" y1="495.88" y2="495.88" stroke="#999" stroke-width="0.5"/>
<line x1="38.5" x2="39.9" y1="492.22" y2="492.22" stroke="#999" stroke-width="0.5"/>
<line x1="263" x2="264.4" y1="492.22" y2="492.22" stroke="#999" stroke-width="0.5"/>
<line x1="38.5" x2="39.9" y1="488.57" y2="488.57" stroke="#999" stroke-width="0.5"/>
<line x1="263" x2="264.4" y1="488.57" y2="488.57" stroke="#999" stroke-width="0.5"/>
<line x1="38.5" x2="39.9" y1="484.93" y2="484.93" stroke="#999" stroke-width="0.5"/>
<line x1="263" x2="264.4" y1="484.93" y2="484.93" stroke="#999" stroke-width="0.5"/>
<line x1="38.5" x2="39.9" y1="481.31" y2="481.31" stroke="#999" stroke-width="0.5"/>
<line x1="263" x2="264.4" y1="481.31" y2="481.31" stroke="#999" stroke-width="0.5"/>
<line x1="38.5" x2="39.9" y1="477.69" y2="477.69" stroke="#999" stroke-width="0.5"/>
<line x1="263" x2="264.4" y1="477.69" y2="477.69" stroke="#999" stroke-width="0.5"/>
<line x1="38.5" x2="39.9" y1="474.09" y2="474.09" stroke="#999" stroke-width="0.5"/>
<line x1="263" x2="264.4" y1="474.09" y2="474.09" stroke="#999" stroke-width="0.5"/>
<line x1="38.5" x2="39.9" y1="470.49" y2="470.49" stroke="#999" stroke-width="0.5"/>
<line x1="263" x2="264.4" y1="470.49" y2="470.49" stroke="#999" stroke-width="0.5"/>
<line x1="38.5" x2="39.9" y1="466.9" y2="466.9" stroke="#999" stroke-width="0.5"/>
<line x1="263" x2="264.4" y1="466.9" y2="466.9" stroke="#999" stroke-width="0.5"/>
<line x1="38.5" x2="40.5" y1="643.6" y2="643.6" stroke="#7a7a7a" stroke-width="0.7"/>
<line x1="262.4" x2="264.4" y1="643.6" y2="643.6" stroke="#7a7a7a" stroke-width="0.7"/>
<line x1="38.5" x2="40.5" y1="623.13" y2="623.13" stroke="#7a7a7a" stroke-width="0.7"/>
<line x1="262.4" x2="264.4" y1="623.13" y2="623.13" stroke="#7a7a7a" stroke-width="0.7"/>
<line x1="38.5" x2="40.5" y1="602.99" y2="602.99" stroke="#7a7a7a" stroke-width="0.7"/>
<line x1="262.4" x2="264.4" y1="602.99" y2="602.99" stroke="#7a7a7a" stroke-width="0.7"/>
<line x1="38.5" x2="40.5" y1="583.17" y2="583.17" stroke="#7a7a7a" stroke-width="0.7"/>
<line x1="262.4" x2="264.4" y1="583.17" y2="583.17" stroke="#7a7a7a" stroke-width="0.7"/>
<line x1="38.5" x2="40.5" y1="563.66" y2="563.66" stroke="#7a7a7a" stroke-width="0.7"/>
<line x1="262.4" x2="264.4" y1="563.66" y2="563.66" stroke="#7a7a7a" stroke-width="0.7"/>
<line x1="38.5" x2="40.5" y1="544.46" y2="544.46" stroke="#7a7a7a" stroke-width="0.7"/>
<line x1="262.4" x2="264.4" y1="544.46" y2="544.46" stroke="#7a7a7a" stroke-width="0.7"/>
<line x1="38.5" x2="40.5" y1="525.55" y2="525.55" stroke="#7a7a7a" stroke-width="0.7"/>
<line x1="262.4" x2="264.4" y1="525.55" y2="525.55" stroke="#7a7a7a" stroke-width="0.7"/>
<line x1="38.5" x2="40.5" y1="506.92" y2="506.92" stroke="#7a7a7a" stroke-width="0.7"/>
<line x1="262.4" x2="264.4" y1="506.92" y2="506.92" stroke="#7a7a7a" stroke-width="0.7"/>
<line x1="38.5" x2="40.5" y1="488.57" y2="488.57" stroke="#7a7a7a" stroke-width="0.7"/>
<line x1="262.4" x2="264.4" y1="488.57" y2="488.57" stroke="#7a7a7a" stroke-width="0.7"/>
<line x1="38.5" x2="40.5" y1="470.49" y2="470.49" stroke="#7a7a7a" stroke-width="0.7"/>
<line x1="262.4" x2="264.4" y1="470.49" y2="470.49" stroke="#7a7a7a" stroke-width="0.7"/>
<rect x="195.6" y="475" width="61" height="68" fill="#fff" stroke="#8c8c8c" stroke-width="0.8"/>
<line x1="197.9" x2="221.1" y1="481" y2="481" stroke="#3fe33f" stroke-width="1.1"/>
<circle cx="209.5" cy="481" r="2.4" fill="none" stroke="#3fe33f" stroke-width="1"/>
<text x="223.2" y="483.6" class="lg">M<tspan dx="1.3">I</tspan><tspan dx="1.3">SCSO</tspan></text>
<line x1="197.9" x2="221.1" y1="490.45" y2="490.45" stroke="#f03a3a" stroke-width="1.1"/>
<path d="M206.9 488.37H212.1L209.5 493.31Z" fill="none" stroke="#f03a3a" stroke-width="0.85"/>
<text x="223.2" y="493.05" class="lg">SCSO</text>
<line x1="197.9" x2="221.1" y1="499.9" y2="499.9" stroke="#3a3a3a" stroke-width="1.1"/>
<path d="M206.9 501.98H212.1L209.5 497.04Z" fill="none" stroke="#3a3a3a" stroke-width="0.85"/>
<text x="223.2" y="502.5" class="lg">SMOA</text>
<line x1="197.9" x2="221.1" y1="509.35" y2="509.35" stroke="#ff2bff" stroke-width="1.1"/>
<circle cx="209.5" cy="509.35" r="2.0" fill="#ff2bff"/>
<text x="223.2" y="511.95" class="lg">WOA</text>
<line x1="197.9" x2="221.1" y1="518.8" y2="518.8" stroke="#3535e8" stroke-width="1.1"/>
<path d="M211.58 516.2V521.4L206.64 518.8Z" fill="none" stroke="#3535e8" stroke-width="0.85"/>
<text x="223.2" y="521.4" class="lg">BWO</text>
<line x1="197.9" x2="221.1" y1="528.25" y2="528.25" stroke="#36ecec" stroke-width="1.1"/>
<circle cx="209.5" cy="528.25" r="2.0" fill="#36ecec"/>
<text x="223.2" y="530.85" class="lg">ACO</text>
<line x1="197.9" x2="221.1" y1="537.7" y2="537.7" stroke="#e0a43a" stroke-width="1.1"/>
<path d="M211.58 535.1V540.3L206.64 537.7Z" fill="none" stroke="#e0a43a" stroke-width="0.85"/>
<text x="223.2" y="540.3" class="lg">RSA</text>
<text x="35.5" y="646" class="tk" text-anchor="end">600</text>
<text x="35.5" y="625.53" class="tk" text-anchor="end">610</text>
<text x="35.5" y="605.39" class="tk" text-anchor="end">620</text>
<text x="35.5" y="585.57" class="tk" text-anchor="end">630</text>
<text x="35.5" y="566.06" class="tk" text-anchor="end">640</text>
<text x="35.5" y="546.86" class="tk" text-anchor="end">650</text>
<text x="35.5" y="527.95" class="tk" text-anchor="end">660</text>
<text x="35.5" y="509.32" class="tk" text-anchor="end">670</text>
<text x="35.5" y="490.97" class="tk" text-anchor="end">680</text>
<text x="35.5" y="472.89" class="tk" text-anchor="end">690</text>
<text x="38.5" y="654" class="tk" text-anchor="middle">0</text>
<line x1="38.5" x2="38.5" y1="641.4" y2="643.4" stroke="#7a7a7a" stroke-width="0.7"/>
<text x="113.8" y="654" class="tk" text-anchor="middle">500</text>
<line x1="113.8" x2="113.8" y1="641.4" y2="643.4" stroke="#7a7a7a" stroke-width="0.7"/>
<text x="189.1" y="654" class="tk" text-anchor="middle">1000</text>
<line x1="189.1" x2="189.1" y1="641.4" y2="643.4" stroke="#7a7a7a" stroke-width="0.7"/>
<text x="264.4" y="654" class="tk" text-anchor="middle">1500</text>
<line x1="264.4" x2="264.4" y1="641.4" y2="643.4" stroke="#7a7a7a" stroke-width="0.7"/>
<text x="155.2" y="461.6" class="tt" text-anchor="middle">F5</text>
<text transform="translate(14.1,563.2) rotate(-90)" class="yl" text-anchor="middle">Mean of objective function values</text>
<text x="154.1" y="670.8" class="xl" text-anchor="middle">Iteration</text>
<text x="257" y="667.6" class="sl" text-anchor="middle">(e)</text>
<line x1="302.1" x2="531.5" y1="645.4" y2="645.4" stroke="#f2f2f2" stroke-width="0.6"/>
<line x1="302.1" x2="531.5" y1="640.67" y2="640.67" stroke="#f2f2f2" stroke-width="0.6"/>
<line x1="302.1" x2="531.5" y1="636" y2="636" stroke="#f2f2f2" stroke-width="0.6"/>
<line x1="302.1" x2="531.5" y1="631.4" y2="631.4" stroke="#f2f2f2" stroke-width="0.6"/>
<line x1="302.1" x2="531.5" y1="626.85" y2="626.85" stroke="#f2f2f2" stroke-width="0.6"/>
<line x1="302.1" x2="531.5" y1="622.36" y2="622.36" stroke="#f2f2f2" stroke-width="0.6"/>
<line x1="302.1" x2="531.5" y1="617.94" y2="617.94" stroke="#f2f2f2" stroke-width="0.6"/>
<line x1="302.1" x2="531.5" y1="613.56" y2="613.56" stroke="#f2f2f2" stroke-width="0.6"/>
<line x1="302.1" x2="531.5" y1="609.24" y2="609.24" stroke="#f2f2f2" stroke-width="0.6"/>
<line x1="302.1" x2="531.5" y1="604.98" y2="604.98" stroke="#f2f2f2" stroke-width="0.6"/>
<line x1="302.1" x2="531.5" y1="600.76" y2="600.76" stroke="#f2f2f2" stroke-width="0.6"/>
<line x1="302.1" x2="531.5" y1="596.6" y2="596.6" stroke="#f2f2f2" stroke-width="0.6"/>
<line x1="302.1" x2="531.5" y1="592.49" y2="592.49" stroke="#f2f2f2" stroke-width="0.6"/>
<line x1="302.1" x2="531.5" y1="588.42" y2="588.42" stroke="#f2f2f2" stroke-width="0.6"/>
<line x1="302.1" x2="531.5" y1="584.4" y2="584.4" stroke="#f2f2f2" stroke-width="0.6"/>
<line x1="302.1" x2="531.5" y1="580.43" y2="580.43" stroke="#f2f2f2" stroke-width="0.6"/>
<line x1="302.1" x2="531.5" y1="576.5" y2="576.5" stroke="#f2f2f2" stroke-width="0.6"/>
<line x1="302.1" x2="531.5" y1="572.62" y2="572.62" stroke="#f2f2f2" stroke-width="0.6"/>
<line x1="302.1" x2="531.5" y1="568.77" y2="568.77" stroke="#f2f2f2" stroke-width="0.6"/>
<line x1="302.1" x2="531.5" y1="564.97" y2="564.97" stroke="#f2f2f2" stroke-width="0.6"/>
<line x1="302.1" x2="531.5" y1="561.22" y2="561.22" stroke="#f2f2f2" stroke-width="0.6"/>
<line x1="302.1" x2="531.5" y1="557.5" y2="557.5" stroke="#f2f2f2" stroke-width="0.6"/>
<line x1="302.1" x2="531.5" y1="553.82" y2="553.82" stroke="#f2f2f2" stroke-width="0.6"/>
<line x1="302.1" x2="531.5" y1="550.18" y2="550.18" stroke="#f2f2f2" stroke-width="0.6"/>
<line x1="302.1" x2="531.5" y1="546.58" y2="546.58" stroke="#f2f2f2" stroke-width="0.6"/>
<line x1="302.1" x2="531.5" y1="543.01" y2="543.01" stroke="#f2f2f2" stroke-width="0.6"/>
<line x1="302.1" x2="531.5" y1="539.48" y2="539.48" stroke="#f2f2f2" stroke-width="0.6"/>
<line x1="302.1" x2="531.5" y1="535.99" y2="535.99" stroke="#f2f2f2" stroke-width="0.6"/>
<line x1="302.1" x2="531.5" y1="532.53" y2="532.53" stroke="#f2f2f2" stroke-width="0.6"/>
<line x1="302.1" x2="531.5" y1="529.1" y2="529.1" stroke="#f2f2f2" stroke-width="0.6"/>
<line x1="302.1" x2="531.5" y1="525.71" y2="525.71" stroke="#f2f2f2" stroke-width="0.6"/>
<line x1="302.1" x2="531.5" y1="522.35" y2="522.35" stroke="#f2f2f2" stroke-width="0.6"/>
<line x1="302.1" x2="531.5" y1="519.02" y2="519.02" stroke="#f2f2f2" stroke-width="0.6"/>
<line x1="302.1" x2="531.5" y1="515.73" y2="515.73" stroke="#f2f2f2" stroke-width="0.6"/>
<line x1="302.1" x2="531.5" y1="512.46" y2="512.46" stroke="#f2f2f2" stroke-width="0.6"/>
<line x1="302.1" x2="531.5" y1="509.23" y2="509.23" stroke="#f2f2f2" stroke-width="0.6"/>
<line x1="302.1" x2="531.5" y1="506.03" y2="506.03" stroke="#f2f2f2" stroke-width="0.6"/>
<line x1="302.1" x2="531.5" y1="502.85" y2="502.85" stroke="#f2f2f2" stroke-width="0.6"/>
<line x1="302.1" x2="531.5" y1="499.71" y2="499.71" stroke="#f2f2f2" stroke-width="0.6"/>
<line x1="302.1" x2="531.5" y1="496.59" y2="496.59" stroke="#f2f2f2" stroke-width="0.6"/>
<line x1="302.1" x2="531.5" y1="493.5" y2="493.5" stroke="#f2f2f2" stroke-width="0.6"/>
<line x1="302.1" x2="531.5" y1="490.43" y2="490.43" stroke="#f2f2f2" stroke-width="0.6"/>
<line x1="302.1" x2="531.5" y1="487.4" y2="487.4" stroke="#f2f2f2" stroke-width="0.6"/>
<line x1="302.1" x2="531.5" y1="484.39" y2="484.39" stroke="#f2f2f2" stroke-width="0.6"/>
<line x1="302.1" x2="531.5" y1="481.4" y2="481.4" stroke="#f2f2f2" stroke-width="0.6"/>
<line x1="302.1" x2="531.5" y1="478.44" y2="478.44" stroke="#f2f2f2" stroke-width="0.6"/>
<line x1="302.1" x2="531.5" y1="475.51" y2="475.51" stroke="#f2f2f2" stroke-width="0.6"/>
<line x1="302.1" x2="531.5" y1="472.6" y2="472.6" stroke="#f2f2f2" stroke-width="0.6"/>
<line x1="302.1" x2="531.5" y1="469.72" y2="469.72" stroke="#f2f2f2" stroke-width="0.6"/>
<line x1="302.1" x2="531.5" y1="466.86" y2="466.86" stroke="#f2f2f2" stroke-width="0.6"/>
<line x1="302.1" x2="531.5" y1="636" y2="636" stroke="#e9e9e9" stroke-width="0.7"/>
<line x1="302.1" x2="531.5" y1="613.56" y2="613.56" stroke="#e9e9e9" stroke-width="0.7"/>
<line x1="302.1" x2="531.5" y1="592.49" y2="592.49" stroke="#e9e9e9" stroke-width="0.7"/>
<line x1="302.1" x2="531.5" y1="572.62" y2="572.62" stroke="#e9e9e9" stroke-width="0.7"/>
<line x1="302.1" x2="531.5" y1="553.82" y2="553.82" stroke="#e9e9e9" stroke-width="0.7"/>
<line x1="302.1" x2="531.5" y1="535.99" y2="535.99" stroke="#e9e9e9" stroke-width="0.7"/>
<line x1="302.1" x2="531.5" y1="519.02" y2="519.02" stroke="#e9e9e9" stroke-width="0.7"/>
<line x1="302.1" x2="531.5" y1="502.85" y2="502.85" stroke="#e9e9e9" stroke-width="0.7"/>
<line x1="302.1" x2="531.5" y1="487.4" y2="487.4" stroke="#e9e9e9" stroke-width="0.7"/>
<line x1="302.1" x2="531.5" y1="472.6" y2="472.6" stroke="#e9e9e9" stroke-width="0.7"/>
<line x1="378.57" x2="378.57" y1="466.2" y2="647.4" stroke="#e9e9e9" stroke-width="0.7"/>
<line x1="455.03" x2="455.03" y1="466.2" y2="647.4" stroke="#e9e9e9" stroke-width="0.7"/>
<polyline points="302.1,583.6 314.17,640 326.25,643.3 338.32,644.1 350.39,645.3 362.47,646.6 374.54,647.2 386.62,647.2 398.69,647.2 410.76,647.2 422.84,647.2 434.91,647.2 446.98,647.2 459.06,647.2 471.13,647.2 483.21,647.2 495.28,647.2 507.35,647.2 519.43,647.2 531.5,647.2" fill="none" stroke="#3fe33f" stroke-width="1.2" stroke-linejoin="round"/>
<circle cx="302.1" cy="583.6" r="2.4" fill="none" stroke="#3fe33f" stroke-width="1"/>
<circle cx="314.17" cy="640" r="2.4" fill="none" stroke="#3fe33f" stroke-width="1"/>
<circle cx="326.25" cy="643.3" r="2.4" fill="none" stroke="#3fe33f" stroke-width="1"/>
<circle cx="338.32" cy="644.1" r="2.4" fill="none" stroke="#3fe33f" stroke-width="1"/>
<circle cx="350.39" cy="645.3" r="2.4" fill="none" stroke="#3fe33f" stroke-width="1"/>
<circle cx="362.47" cy="646.6" r="2.4" fill="none" stroke="#3fe33f" stroke-width="1"/>
<circle cx="374.54" cy="647.2" r="2.4" fill="none" stroke="#3fe33f" stroke-width="1"/>
<circle cx="386.62" cy="647.2" r="2.4" fill="none" stroke="#3fe33f" stroke-width="1"/>
<circle cx="398.69" cy="647.2" r="2.4" fill="none" stroke="#3fe33f" stroke-width="1"/>
<circle cx="410.76" cy="647.2" r="2.4" fill="none" stroke="#3fe33f" stroke-width="1"/>
<circle cx="422.84" cy="647.2" r="2.4" fill="none" stroke="#3fe33f" stroke-width="1"/>
<circle cx="434.91" cy="647.2" r="2.4" fill="none" stroke="#3fe33f" stroke-width="1"/>
<circle cx="446.98" cy="647.2" r="2.4" fill="none" stroke="#3fe33f" stroke-width="1"/>
<circle cx="459.06" cy="647.2" r="2.4" fill="none" stroke="#3fe33f" stroke-width="1"/>
<circle cx="471.13" cy="647.2" r="2.4" fill="none" stroke="#3fe33f" stroke-width="1"/>
<circle cx="483.21" cy="647.2" r="2.4" fill="none" stroke="#3fe33f" stroke-width="1"/>
<circle cx="495.28" cy="647.2" r="2.4" fill="none" stroke="#3fe33f" stroke-width="1"/>
<circle cx="507.35" cy="647.2" r="2.4" fill="none" stroke="#3fe33f" stroke-width="1"/>
<circle cx="519.43" cy="647.2" r="2.4" fill="none" stroke="#3fe33f" stroke-width="1"/>
<circle cx="531.5" cy="647.2" r="2.4" fill="none" stroke="#3fe33f" stroke-width="1"/>
<polyline points="302.1,465.7 314.17,627.7 326.25,629.4 338.32,630.2 350.39,631 362.47,631 374.54,631.6 386.62,631.7 398.69,631.7 410.76,631.7 422.84,631.7 434.91,632.9 446.98,632.9 459.06,632.9 471.13,633 483.21,633 495.28,633 507.35,633 519.43,633 531.5,633" fill="none" stroke="#f03a3a" stroke-width="1.2" stroke-linejoin="round"/>
<path d="M299.5 463.62H304.7L302.1 468.56Z" fill="none" stroke="#f03a3a" stroke-width="0.85"/>
<path d="M311.57 625.62H316.77L314.17 630.56Z" fill="none" stroke="#f03a3a" stroke-width="0.85"/>
<path d="M323.65 627.32H328.85L326.25 632.26Z" fill="none" stroke="#f03a3a" stroke-width="0.85"/>
<path d="M335.72 628.12H340.92L338.32 633.06Z" fill="none" stroke="#f03a3a" stroke-width="0.85"/>
<path d="M347.79 628.92H352.99L350.39 633.86Z" fill="none" stroke="#f03a3a" stroke-width="0.85"/>
<path d="M359.87 628.92H365.07L362.47 633.86Z" fill="none" stroke="#f03a3a" stroke-width="0.85"/>
<path d="M371.94 629.52H377.14L374.54 634.46Z" fill="none" stroke="#f03a3a" stroke-width="0.85"/>
<path d="M384.02 629.62H389.22L386.62 634.56Z" fill="none" stroke="#f03a3a" stroke-width="0.85"/>
<path d="M396.09 629.62H401.29L398.69 634.56Z" fill="none" stroke="#f03a3a" stroke-width="0.85"/>
<path d="M408.16 629.62H413.36L410.76 634.56Z" fill="none" stroke="#f03a3a" stroke-width="0.85"/>
<path d="M420.24 629.62H425.44L422.84 634.56Z" fill="none" stroke="#f03a3a" stroke-width="0.85"/>
<path d="M432.31 630.82H437.51L434.91 635.76Z" fill="none" stroke="#f03a3a" stroke-width="0.85"/>
<path d="M444.38 630.82H449.58L446.98 635.76Z" fill="none" stroke="#f03a3a" stroke-width="0.85"/>
<path d="M456.46 630.82H461.66L459.06 635.76Z" fill="none" stroke="#f03a3a" stroke-width="0.85"/>
<path d="M468.53 630.92H473.73L471.13 635.86Z" fill="none" stroke="#f03a3a" stroke-width="0.85"/>
<path d="M480.61 630.92H485.81L483.21 635.86Z" fill="none" stroke="#f03a3a" stroke-width="0.85"/>
<path d="M492.68 630.92H497.88L495.28 635.86Z" fill="none" stroke="#f03a3a" stroke-width="0.85"/>
<path d="M504.75 630.92H509.95L507.35 635.86Z" fill="none" stroke="#f03a3a" stroke-width="0.85"/>
<path d="M516.83 630.92H522.03L519.43 635.86Z" fill="none" stroke="#f03a3a" stroke-width="0.85"/>
<path d="M528.9 630.92H534.1L531.5 635.86Z" fill="none" stroke="#f03a3a" stroke-width="0.85"/>
<polyline points="302.1,516.5 314.17,613.8 326.25,619.1 338.32,623.6 350.39,624.5 362.47,626.1 374.54,626.1 386.62,627 398.69,627.6 410.76,627.6 422.84,627.6 434.91,630.1 446.98,630.5 459.06,630.9 471.13,631 483.21,631 495.28,631 507.35,631 519.43,631 531.5,631" fill="none" stroke="#3a3a3a" stroke-width="1.2" stroke-linejoin="round"/>
<path d="M299.5 518.58H304.7L302.1 513.64Z" fill="none" stroke="#3a3a3a" stroke-width="0.85"/>
<path d="M311.57 615.88H316.77L314.17 610.94Z" fill="none" stroke="#3a3a3a" stroke-width="0.85"/>
<path d="M323.65 621.18H328.85L326.25 616.24Z" fill="none" stroke="#3a3a3a" stroke-width="0.85"/>
<path d="M335.72 625.68H340.92L338.32 620.74Z" fill="none" stroke="#3a3a3a" stroke-width="0.85"/>
<path d="M347.79 626.58H352.99L350.39 621.64Z" fill="none" stroke="#3a3a3a" stroke-width="0.85"/>
<path d="M359.87 628.18H365.07L362.47 623.24Z" fill="none" stroke="#3a3a3a" stroke-width="0.85"/>
<path d="M371.94 628.18H377.14L374.54 623.24Z" fill="none" stroke="#3a3a3a" stroke-width="0.85"/>
<path d="M384.02 629.08H389.22L386.62 624.14Z" fill="none" stroke="#3a3a3a" stroke-width="0.85"/>
<path d="M396.09 629.68H401.29L398.69 624.74Z" fill="none" stroke="#3a3a3a" stroke-width="0.85"/>
<path d="M408.16 629.68H413.36L410.76 624.74Z" fill="none" stroke="#3a3a3a" stroke-width="0.85"/>
<path d="M420.24 629.68H425.44L422.84 624.74Z" fill="none" stroke="#3a3a3a" stroke-width="0.85"/>
<path d="M432.31 632.18H437.51L434.91 627.24Z" fill="none" stroke="#3a3a3a" stroke-width="0.85"/>
<path d="M444.38 632.58H449.58L446.98 627.64Z" fill="none" stroke="#3a3a3a" stroke-width="0.85"/>
<path d="M456.46 632.98H461.66L459.06 628.04Z" fill="none" stroke="#3a3a3a" stroke-width="0.85"/>
<path d="M468.53 633.08H473.73L471.13 628.14Z" fill="none" stroke="#3a3a3a" stroke-width="0.85"/>
<path d="M480.61 633.08H485.81L483.21 628.14Z" fill="none" stroke="#3a3a3a" stroke-width="0.85"/>
<path d="M492.68 633.08H497.88L495.28 628.14Z" fill="none" stroke="#3a3a3a" stroke-width="0.85"/>
<path d="M504.75 633.08H509.95L507.35 628.14Z" fill="none" stroke="#3a3a3a" stroke-width="0.85"/>
<path d="M516.83 633.08H522.03L519.43 628.14Z" fill="none" stroke="#3a3a3a" stroke-width="0.85"/>
<path d="M528.9 633.08H534.1L531.5 628.14Z" fill="none" stroke="#3a3a3a" stroke-width="0.85"/>
<polyline points="302.1,482.9 314.17,621.2 326.25,622.8 338.32,624.5 350.39,625.3 362.47,625.6 374.54,626.1 386.62,626 398.69,626 410.76,626 422.84,626 434.91,626.2 446.98,626.4 459.06,626.6 471.13,626.6 483.21,626.6 495.28,626.6 507.35,626.6 519.43,626.6 531.5,626.6" fill="none" stroke="#ff2bff" stroke-width="1.2" stroke-linejoin="round"/>
<circle cx="302.1" cy="482.9" r="2.0" fill="#ff2bff"/>
<circle cx="314.17" cy="621.2" r="2.0" fill="#ff2bff"/>
<circle cx="326.25" cy="622.8" r="2.0" fill="#ff2bff"/>
<circle cx="338.32" cy="624.5" r="2.0" fill="#ff2bff"/>
<circle cx="350.39" cy="625.3" r="2.0" fill="#ff2bff"/>
<circle cx="362.47" cy="625.6" r="2.0" fill="#ff2bff"/>
<circle cx="374.54" cy="626.1" r="2.0" fill="#ff2bff"/>
<circle cx="386.62" cy="626" r="2.0" fill="#ff2bff"/>
<circle cx="398.69" cy="626" r="2.0" fill="#ff2bff"/>
<circle cx="410.76" cy="626" r="2.0" fill="#ff2bff"/>
<circle cx="422.84" cy="626" r="2.0" fill="#ff2bff"/>
<circle cx="434.91" cy="626.2" r="2.0" fill="#ff2bff"/>
<circle cx="446.98" cy="626.4" r="2.0" fill="#ff2bff"/>
<circle cx="459.06" cy="626.6" r="2.0" fill="#ff2bff"/>
<circle cx="471.13" cy="626.6" r="2.0" fill="#ff2bff"/>
<circle cx="483.21" cy="626.6" r="2.0" fill="#ff2bff"/>
<circle cx="495.28" cy="626.6" r="2.0" fill="#ff2bff"/>
<circle cx="507.35" cy="626.6" r="2.0" fill="#ff2bff"/>
<circle cx="519.43" cy="626.6" r="2.0" fill="#ff2bff"/>
<circle cx="531.5" cy="626.6" r="2.0" fill="#ff2bff"/>
<polyline points="302.1,574.2 314.17,625.3 326.25,631 338.32,633.5 350.39,635.6 362.47,636.7 374.54,637.6 386.62,638.6 398.69,640 410.76,640.4 422.84,640.7 434.91,641 446.98,642 459.06,642.3 471.13,642.3 483.21,642.3 495.28,642.3 507.35,642.3 519.43,642.3 531.5,642.3" fill="none" stroke="#3535e8" stroke-width="1.2" stroke-linejoin="round"/>
<path d="M304.18 571.6V576.8L299.24 574.2Z" fill="none" stroke="#3535e8" stroke-width="0.85"/>
<path d="M316.25 622.7V627.9L311.31 625.3Z" fill="none" stroke="#3535e8" stroke-width="0.85"/>
<path d="M328.33 628.4V633.6L323.39 631Z" fill="none" stroke="#3535e8" stroke-width="0.85"/>
<path d="M340.4 630.9V636.1L335.46 633.5Z" fill="none" stroke="#3535e8" stroke-width="0.85"/>
<path d="M352.47 633V638.2L347.53 635.6Z" fill="none" stroke="#3535e8" stroke-width="0.85"/>
<path d="M364.55 634.1V639.3L359.61 636.7Z" fill="none" stroke="#3535e8" stroke-width="0.85"/>
<path d="M376.62 635V640.2L371.68 637.6Z" fill="none" stroke="#3535e8" stroke-width="0.85"/>
<path d="M388.7 636V641.2L383.76 638.6Z" fill="none" stroke="#3535e8" stroke-width="0.85"/>
<path d="M400.77 637.4V642.6L395.83 640Z" fill="none" stroke="#3535e8" stroke-width="0.85"/>
<path d="M412.84 637.8V643L407.9 640.4Z" fill="none" stroke="#3535e8" stroke-width="0.85"/>
<path d="M424.92 638.1V643.3L419.98 640.7Z" fill="none" stroke="#3535e8" stroke-width="0.85"/>
<path d="M436.99 638.4V643.6L432.05 641Z" fill="none" stroke="#3535e8" stroke-width="0.85"/>
<path d="M449.06 639.4V644.6L444.12 642Z" fill="none" stroke="#3535e8" stroke-width="0.85"/>
<path d="M461.14 639.7V644.9L456.2 642.3Z" fill="none" stroke="#3535e8" stroke-width="0.85"/>
<path d="M473.21 639.7V644.9L468.27 642.3Z" fill="none" stroke="#3535e8" stroke-width="0.85"/>
<path d="M485.29 639.7V644.9L480.35 642.3Z" fill="none" stroke="#3535e8" stroke-width="0.85"/>
<path d="M497.36 639.7V644.9L492.42 642.3Z" fill="none" stroke="#3535e8" stroke-width="0.85"/>
<path d="M509.43 639.7V644.9L504.49 642.3Z" fill="none" stroke="#3535e8" stroke-width="0.85"/>
<path d="M521.51 639.7V644.9L516.57 642.3Z" fill="none" stroke="#3535e8" stroke-width="0.85"/>
<path d="M533.58 639.7V644.9L528.64 642.3Z" fill="none" stroke="#3535e8" stroke-width="0.85"/>
<polyline points="302.1,486.2 314.17,624.5 326.25,630.2 338.32,631.8 350.39,633.5 362.47,634.3 374.54,635.1 386.62,635.5 398.69,636.2 410.76,636.2 422.84,636.2 434.91,637.5 446.98,638.3 459.06,639.1 471.13,639.5 483.21,639.5 495.28,639.5 507.35,639.5 519.43,639.5 531.5,639.5" fill="none" stroke="#36ecec" stroke-width="1.2" stroke-linejoin="round"/>
<circle cx="302.1" cy="486.2" r="2.0" fill="#36ecec"/>
<circle cx="314.17" cy="624.5" r="2.0" fill="#36ecec"/>
<circle cx="326.25" cy="630.2" r="2.0" fill="#36ecec"/>
<circle cx="338.32" cy="631.8" r="2.0" fill="#36ecec"/>
<circle cx="350.39" cy="633.5" r="2.0" fill="#36ecec"/>
<circle cx="362.47" cy="634.3" r="2.0" fill="#36ecec"/>
<circle cx="374.54" cy="635.1" r="2.0" fill="#36ecec"/>
<circle cx="386.62" cy="635.5" r="2.0" fill="#36ecec"/>
<circle cx="398.69" cy="636.2" r="2.0" fill="#36ecec"/>
<circle cx="410.76" cy="636.2" r="2.0" fill="#36ecec"/>
<circle cx="422.84" cy="636.2" r="2.0" fill="#36ecec"/>
<circle cx="434.91" cy="637.5" r="2.0" fill="#36ecec"/>
<circle cx="446.98" cy="638.3" r="2.0" fill="#36ecec"/>
<circle cx="459.06" cy="639.1" r="2.0" fill="#36ecec"/>
<circle cx="471.13" cy="639.5" r="2.0" fill="#36ecec"/>
<circle cx="483.21" cy="639.5" r="2.0" fill="#36ecec"/>
<circle cx="495.28" cy="639.5" r="2.0" fill="#36ecec"/>
<circle cx="507.35" cy="639.5" r="2.0" fill="#36ecec"/>
<circle cx="519.43" cy="639.5" r="2.0" fill="#36ecec"/>
<circle cx="531.5" cy="639.5" r="2.0" fill="#36ecec"/>
<polyline points="302.1,587.6 314.17,606.5 326.25,608.9 338.32,608.9 350.39,611.2 362.47,611.3 374.54,611.3 386.62,611.3 398.69,611.3 410.76,611.3 422.84,611.3 434.91,611.3 446.98,611.3 459.06,611.5 471.13,611.6 483.21,612.9 495.28,613.2 507.35,613.6 519.43,613.6 531.5,613.6" fill="none" stroke="#e0a43a" stroke-width="1.2" stroke-linejoin="round"/>
<path d="M304.18 585V590.2L299.24 587.6Z" fill="none" stroke="#e0a43a" stroke-width="0.85"/>
<path d="M316.25 603.9V609.1L311.31 606.5Z" fill="none" stroke="#e0a43a" stroke-width="0.85"/>
<path d="M328.33 606.3V611.5L323.39 608.9Z" fill="none" stroke="#e0a43a" stroke-width="0.85"/>
<path d="M340.4 606.3V611.5L335.46 608.9Z" fill="none" stroke="#e0a43a" stroke-width="0.85"/>
<path d="M352.47 608.6V613.8L347.53 611.2Z" fill="none" stroke="#e0a43a" stroke-width="0.85"/>
<path d="M364.55 608.7V613.9L359.61 611.3Z" fill="none" stroke="#e0a43a" stroke-width="0.85"/>
<path d="M376.62 608.7V613.9L371.68 611.3Z" fill="none" stroke="#e0a43a" stroke-width="0.85"/>
<path d="M388.7 608.7V613.9L383.76 611.3Z" fill="none" stroke="#e0a43a" stroke-width="0.85"/>
<path d="M400.77 608.7V613.9L395.83 611.3Z" fill="none" stroke="#e0a43a" stroke-width="0.85"/>
<path d="M412.84 608.7V613.9L407.9 611.3Z" fill="none" stroke="#e0a43a" stroke-width="0.85"/>
<path d="M424.92 608.7V613.9L419.98 611.3Z" fill="none" stroke="#e0a43a" stroke-width="0.85"/>
<path d="M436.99 608.7V613.9L432.05 611.3Z" fill="none" stroke="#e0a43a" stroke-width="0.85"/>
<path d="M449.06 608.7V613.9L444.12 611.3Z" fill="none" stroke="#e0a43a" stroke-width="0.85"/>
<path d="M461.14 608.9V614.1L456.2 611.5Z" fill="none" stroke="#e0a43a" stroke-width="0.85"/>
<path d="M473.21 609V614.2L468.27 611.6Z" fill="none" stroke="#e0a43a" stroke-width="0.85"/>
<path d="M485.29 610.3V615.5L480.35 612.9Z" fill="none" stroke="#e0a43a" stroke-width="0.85"/>
<path d="M497.36 610.6V615.8L492.42 613.2Z" fill="none" stroke="#e0a43a" stroke-width="0.85"/>
<path d="M509.43 611V616.2L504.49 613.6Z" fill="none" stroke="#e0a43a" stroke-width="0.85"/>
<path d="M521.51 611V616.2L516.57 613.6Z" fill="none" stroke="#e0a43a" stroke-width="0.85"/>
<path d="M533.58 611V616.2L528.64 613.6Z" fill="none" stroke="#e0a43a" stroke-width="0.85"/>
<rect x="302.1" y="466.2" width="229.4" height="181.2" fill="none" stroke="#7a7a7a" stroke-width="0.85"/>
<line x1="302.1" x2="303.5" y1="645.4" y2="645.4" stroke="#999" stroke-width="0.5"/>
<line x1="530.1" x2="531.5" y1="645.4" y2="645.4" stroke="#999" stroke-width="0.5"/>
<line x1="302.1" x2="303.5" y1="640.67" y2="640.67" stroke="#999" stroke-width="0.5"/>
<line x1="530.1" x2="531.5" y1="640.67" y2="640.67" stroke="#999" stroke-width="0.5"/>
<line x1="302.1" x2="303.5" y1="636" y2="636" stroke="#999" stroke-width="0.5"/>
<line x1="530.1" x2="531.5" y1="636" y2="636" stroke="#999" stroke-width="0.5"/>
<line x1="302.1" x2="303.5" y1="631.4" y2="631.4" stroke="#999" stroke-width="0.5"/>
<line x1="530.1" x2="531.5" y1="631.4" y2="631.4" stroke="#999" stroke-width="0.5"/>
<line x1="302.1" x2="303.5" y1="626.85" y2="626.85" stroke="#999" stroke-width="0.5"/>
<line x1="530.1" x2="531.5" y1="626.85" y2="626.85" stroke="#999" stroke-width="0.5"/>
<line x1="302.1" x2="303.5" y1="622.36" y2="622.36" stroke="#999" stroke-width="0.5"/>
<line x1="530.1" x2="531.5" y1="622.36" y2="622.36" stroke="#999" stroke-width="0.5"/>
<line x1="302.1" x2="303.5" y1="617.94" y2="617.94" stroke="#999" stroke-width="0.5"/>
<line x1="530.1" x2="531.5" y1="617.94" y2="617.94" stroke="#999" stroke-width="0.5"/>
<line x1="302.1" x2="303.5" y1="613.56" y2="613.56" stroke="#999" stroke-width="0.5"/>
<line x1="530.1" x2="531.5" y1="613.56" y2="613.56" stroke="#999" stroke-width="0.5"/>
<line x1="302.1" x2="303.5" y1="609.24" y2="609.24" stroke="#999" stroke-width="0.5"/>
<line x1="530.1" x2="531.5" y1="609.24" y2="609.24" stroke="#999" stroke-width="0.5"/>
<line x1="302.1" x2="303.5" y1="604.98" y2="604.98" stroke="#999" stroke-width="0.5"/>
<line x1="530.1" x2="531.5" y1="604.98" y2="604.98" stroke="#999" stroke-width="0.5"/>
<line x1="302.1" x2="303.5" y1="600.76" y2="600.76" stroke="#999" stroke-width="0.5"/>
<line x1="530.1" x2="531.5" y1="600.76" y2="600.76" stroke="#999" stroke-width="0.5"/>
<line x1="302.1" x2="303.5" y1="596.6" y2="596.6" stroke="#999" stroke-width="0.5"/>
<line x1="530.1" x2="531.5" y1="596.6" y2="596.6" stroke="#999" stroke-width="0.5"/>
<line x1="302.1" x2="303.5" y1="592.49" y2="592.49" stroke="#999" stroke-width="0.5"/>
<line x1="530.1" x2="531.5" y1="592.49" y2="592.49" stroke="#999" stroke-width="0.5"/>
<line x1="302.1" x2="303.5" y1="588.42" y2="588.42" stroke="#999" stroke-width="0.5"/>
<line x1="530.1" x2="531.5" y1="588.42" y2="588.42" stroke="#999" stroke-width="0.5"/>
<line x1="302.1" x2="303.5" y1="584.4" y2="584.4" stroke="#999" stroke-width="0.5"/>
<line x1="530.1" x2="531.5" y1="584.4" y2="584.4" stroke="#999" stroke-width="0.5"/>
<line x1="302.1" x2="303.5" y1="580.43" y2="580.43" stroke="#999" stroke-width="0.5"/>
<line x1="530.1" x2="531.5" y1="580.43" y2="580.43" stroke="#999" stroke-width="0.5"/>
<line x1="302.1" x2="303.5" y1="576.5" y2="576.5" stroke="#999" stroke-width="0.5"/>
<line x1="530.1" x2="531.5" y1="576.5" y2="576.5" stroke="#999" stroke-width="0.5"/>
<line x1="302.1" x2="303.5" y1="572.62" y2="572.62" stroke="#999" stroke-width="0.5"/>
<line x1="530.1" x2="531.5" y1="572.62" y2="572.62" stroke="#999" stroke-width="0.5"/>
<line x1="302.1" x2="303.5" y1="568.77" y2="568.77" stroke="#999" stroke-width="0.5"/>
<line x1="530.1" x2="531.5" y1="568.77" y2="568.77" stroke="#999" stroke-width="0.5"/>
<line x1="302.1" x2="303.5" y1="564.97" y2="564.97" stroke="#999" stroke-width="0.5"/>
<line x1="530.1" x2="531.5" y1="564.97" y2="564.97" stroke="#999" stroke-width="0.5"/>
<line x1="302.1" x2="303.5" y1="561.22" y2="561.22" stroke="#999" stroke-width="0.5"/>
<line x1="530.1" x2="531.5" y1="561.22" y2="561.22" stroke="#999" stroke-width="0.5"/>
<line x1="302.1" x2="303.5" y1="557.5" y2="557.5" stroke="#999" stroke-width="0.5"/>
<line x1="530.1" x2="531.5" y1="557.5" y2="557.5" stroke="#999" stroke-width="0.5"/>
<line x1="302.1" x2="303.5" y1="553.82" y2="553.82" stroke="#999" stroke-width="0.5"/>
<line x1="530.1" x2="531.5" y1="553.82" y2="553.82" stroke="#999" stroke-width="0.5"/>
<line x1="302.1" x2="303.5" y1="550.18" y2="550.18" stroke="#999" stroke-width="0.5"/>
<line x1="530.1" x2="531.5" y1="550.18" y2="550.18" stroke="#999" stroke-width="0.5"/>
<line x1="302.1" x2="303.5" y1="546.58" y2="546.58" stroke="#999" stroke-width="0.5"/>
<line x1="530.1" x2="531.5" y1="546.58" y2="546.58" stroke="#999" stroke-width="0.5"/>
<line x1="302.1" x2="303.5" y1="543.01" y2="543.01" stroke="#999" stroke-width="0.5"/>
<line x1="530.1" x2="531.5" y1="543.01" y2="543.01" stroke="#999" stroke-width="0.5"/>
<line x1="302.1" x2="303.5" y1="539.48" y2="539.48" stroke="#999" stroke-width="0.5"/>
<line x1="530.1" x2="531.5" y1="539.48" y2="539.48" stroke="#999" stroke-width="0.5"/>
<line x1="302.1" x2="303.5" y1="535.99" y2="535.99" stroke="#999" stroke-width="0.5"/>
<line x1="530.1" x2="531.5" y1="535.99" y2="535.99" stroke="#999" stroke-width="0.5"/>
<line x1="302.1" x2="303.5" y1="532.53" y2="532.53" stroke="#999" stroke-width="0.5"/>
<line x1="530.1" x2="531.5" y1="532.53" y2="532.53" stroke="#999" stroke-width="0.5"/>
<line x1="302.1" x2="303.5" y1="529.1" y2="529.1" stroke="#999" stroke-width="0.5"/>
<line x1="530.1" x2="531.5" y1="529.1" y2="529.1" stroke="#999" stroke-width="0.5"/>
<line x1="302.1" x2="303.5" y1="525.71" y2="525.71" stroke="#999" stroke-width="0.5"/>
<line x1="530.1" x2="531.5" y1="525.71" y2="525.71" stroke="#999" stroke-width="0.5"/>
<line x1="302.1" x2="303.5" y1="522.35" y2="522.35" stroke="#999" stroke-width="0.5"/>
<line x1="530.1" x2="531.5" y1="522.35" y2="522.35" stroke="#999" stroke-width="0.5"/>
<line x1="302.1" x2="303.5" y1="519.02" y2="519.02" stroke="#999" stroke-width="0.5"/>
<line x1="530.1" x2="531.5" y1="519.02" y2="519.02" stroke="#999" stroke-width="0.5"/>
<line x1="302.1" x2="303.5" y1="515.73" y2="515.73" stroke="#999" stroke-width="0.5"/>
<line x1="530.1" x2="531.5" y1="515.73" y2="515.73" stroke="#999" stroke-width="0.5"/>
<line x1="302.1" x2="303.5" y1="512.46" y2="512.46" stroke="#999" stroke-width="0.5"/>
<line x1="530.1" x2="531.5" y1="512.46" y2="512.46" stroke="#999" stroke-width="0.5"/>
<line x1="302.1" x2="303.5" y1="509.23" y2="509.23" stroke="#999" stroke-width="0.5"/>
<line x1="530.1" x2="531.5" y1="509.23" y2="509.23" stroke="#999" stroke-width="0.5"/>
<line x1="302.1" x2="303.5" y1="506.03" y2="506.03" stroke="#999" stroke-width="0.5"/>
<line x1="530.1" x2="531.5" y1="506.03" y2="506.03" stroke="#999" stroke-width="0.5"/>
<line x1="302.1" x2="303.5" y1="502.85" y2="502.85" stroke="#999" stroke-width="0.5"/>
<line x1="530.1" x2="531.5" y1="502.85" y2="502.85" stroke="#999" stroke-width="0.5"/>
<line x1="302.1" x2="303.5" y1="499.71" y2="499.71" stroke="#999" stroke-width="0.5"/>
<line x1="530.1" x2="531.5" y1="499.71" y2="499.71" stroke="#999" stroke-width="0.5"/>
<line x1="302.1" x2="303.5" y1="496.59" y2="496.59" stroke="#999" stroke-width="0.5"/>
<line x1="530.1" x2="531.5" y1="496.59" y2="496.59" stroke="#999" stroke-width="0.5"/>
<line x1="302.1" x2="303.5" y1="493.5" y2="493.5" stroke="#999" stroke-width="0.5"/>
<line x1="530.1" x2="531.5" y1="493.5" y2="493.5" stroke="#999" stroke-width="0.5"/>
<line x1="302.1" x2="303.5" y1="490.43" y2="490.43" stroke="#999" stroke-width="0.5"/>
<line x1="530.1" x2="531.5" y1="490.43" y2="490.43" stroke="#999" stroke-width="0.5"/>
<line x1="302.1" x2="303.5" y1="487.4" y2="487.4" stroke="#999" stroke-width="0.5"/>
<line x1="530.1" x2="531.5" y1="487.4" y2="487.4" stroke="#999" stroke-width="0.5"/>
<line x1="302.1" x2="303.5" y1="484.39" y2="484.39" stroke="#999" stroke-width="0.5"/>
<line x1="530.1" x2="531.5" y1="484.39" y2="484.39" stroke="#999" stroke-width="0.5"/>
<line x1="302.1" x2="303.5" y1="481.4" y2="481.4" stroke="#999" stroke-width="0.5"/>
<line x1="530.1" x2="531.5" y1="481.4" y2="481.4" stroke="#999" stroke-width="0.5"/>
<line x1="302.1" x2="303.5" y1="478.44" y2="478.44" stroke="#999" stroke-width="0.5"/>
<line x1="530.1" x2="531.5" y1="478.44" y2="478.44" stroke="#999" stroke-width="0.5"/>
<line x1="302.1" x2="303.5" y1="475.51" y2="475.51" stroke="#999" stroke-width="0.5"/>
<line x1="530.1" x2="531.5" y1="475.51" y2="475.51" stroke="#999" stroke-width="0.5"/>
<line x1="302.1" x2="303.5" y1="472.6" y2="472.6" stroke="#999" stroke-width="0.5"/>
<line x1="530.1" x2="531.5" y1="472.6" y2="472.6" stroke="#999" stroke-width="0.5"/>
<line x1="302.1" x2="303.5" y1="469.72" y2="469.72" stroke="#999" stroke-width="0.5"/>
<line x1="530.1" x2="531.5" y1="469.72" y2="469.72" stroke="#999" stroke-width="0.5"/>
<line x1="302.1" x2="303.5" y1="466.86" y2="466.86" stroke="#999" stroke-width="0.5"/>
<line x1="530.1" x2="531.5" y1="466.86" y2="466.86" stroke="#999" stroke-width="0.5"/>
<line x1="302.1" x2="304.1" y1="636" y2="636" stroke="#7a7a7a" stroke-width="0.7"/>
<line x1="529.5" x2="531.5" y1="636" y2="636" stroke="#7a7a7a" stroke-width="0.7"/>
<line x1="302.1" x2="304.1" y1="613.56" y2="613.56" stroke="#7a7a7a" stroke-width="0.7"/>
<line x1="529.5" x2="531.5" y1="613.56" y2="613.56" stroke="#7a7a7a" stroke-width="0.7"/>
<line x1="302.1" x2="304.1" y1="592.49" y2="592.49" stroke="#7a7a7a" stroke-width="0.7"/>
<line x1="529.5" x2="531.5" y1="592.49" y2="592.49" stroke="#7a7a7a" stroke-width="0.7"/>
<line x1="302.1" x2="304.1" y1="572.62" y2="572.62" stroke="#7a7a7a" stroke-width="0.7"/>
<line x1="529.5" x2="531.5" y1="572.62" y2="572.62" stroke="#7a7a7a" stroke-width="0.7"/>
<line x1="302.1" x2="304.1" y1="553.82" y2="553.82" stroke="#7a7a7a" stroke-width="0.7"/>
<line x1="529.5" x2="531.5" y1="553.82" y2="553.82" stroke="#7a7a7a" stroke-width="0.7"/>
<line x1="302.1" x2="304.1" y1="535.99" y2="535.99" stroke="#7a7a7a" stroke-width="0.7"/>
<line x1="529.5" x2="531.5" y1="535.99" y2="535.99" stroke="#7a7a7a" stroke-width="0.7"/>
<line x1="302.1" x2="304.1" y1="519.02" y2="519.02" stroke="#7a7a7a" stroke-width="0.7"/>
<line x1="529.5" x2="531.5" y1="519.02" y2="519.02" stroke="#7a7a7a" stroke-width="0.7"/>
<line x1="302.1" x2="304.1" y1="502.85" y2="502.85" stroke="#7a7a7a" stroke-width="0.7"/>
<line x1="529.5" x2="531.5" y1="502.85" y2="502.85" stroke="#7a7a7a" stroke-width="0.7"/>
<line x1="302.1" x2="304.1" y1="487.4" y2="487.4" stroke="#7a7a7a" stroke-width="0.7"/>
<line x1="529.5" x2="531.5" y1="487.4" y2="487.4" stroke="#7a7a7a" stroke-width="0.7"/>
<line x1="302.1" x2="304.1" y1="472.6" y2="472.6" stroke="#7a7a7a" stroke-width="0.7"/>
<line x1="529.5" x2="531.5" y1="472.6" y2="472.6" stroke="#7a7a7a" stroke-width="0.7"/>
<rect x="461.3" y="475" width="61.1" height="67.6" fill="#fff" stroke="#8c8c8c" stroke-width="0.8"/>
<line x1="463.6" x2="486.8" y1="481" y2="481" stroke="#3fe33f" stroke-width="1.1"/>
<circle cx="475.2" cy="481" r="2.4" fill="none" stroke="#3fe33f" stroke-width="1"/>
<text x="488.9" y="483.6" class="lg">M<tspan dx="1.3">I</tspan><tspan dx="1.3">SCSO</tspan></text>
<line x1="463.6" x2="486.8" y1="490.38" y2="490.38" stroke="#f03a3a" stroke-width="1.1"/>
<path d="M472.6 488.3H477.8L475.2 493.24Z" fill="none" stroke="#f03a3a" stroke-width="0.85"/>
<text x="488.9" y="492.98" class="lg">SCSO</text>
<line x1="463.6" x2="486.8" y1="499.77" y2="499.77" stroke="#3a3a3a" stroke-width="1.1"/>
<path d="M472.6 501.85H477.8L475.2 496.91Z" fill="none" stroke="#3a3a3a" stroke-width="0.85"/>
<text x="488.9" y="502.37" class="lg">SMOA</text>
<line x1="463.6" x2="486.8" y1="509.15" y2="509.15" stroke="#ff2bff" stroke-width="1.1"/>
<circle cx="475.2" cy="509.15" r="2.0" fill="#ff2bff"/>
<text x="488.9" y="511.75" class="lg">WOA</text>
<line x1="463.6" x2="486.8" y1="518.53" y2="518.53" stroke="#3535e8" stroke-width="1.1"/>
<path d="M477.28 515.93V521.13L472.34 518.53Z" fill="none" stroke="#3535e8" stroke-width="0.85"/>
<text x="488.9" y="521.13" class="lg">BWO</text>
<line x1="463.6" x2="486.8" y1="527.92" y2="527.92" stroke="#36ecec" stroke-width="1.1"/>
<circle cx="475.2" cy="527.92" r="2.0" fill="#36ecec"/>
<text x="488.9" y="530.52" class="lg">ACO</text>
<line x1="463.6" x2="486.8" y1="537.3" y2="537.3" stroke="#e0a43a" stroke-width="1.1"/>
<path d="M477.28 534.7V539.9L472.34 537.3Z" fill="none" stroke="#e0a43a" stroke-width="0.85"/>
<text x="488.9" y="539.9" class="lg">RSA</text>
<text x="299.1" y="638.4" class="tk" text-anchor="end">750</text>
<text x="299.1" y="615.96" class="tk" text-anchor="end">800</text>
<text x="299.1" y="594.89" class="tk" text-anchor="end">850</text>
<text x="299.1" y="575.02" class="tk" text-anchor="end">900</text>
<text x="299.1" y="556.22" class="tk" text-anchor="end">950</text>
<text x="299.1" y="538.39" class="tk" text-anchor="end">1000</text>
<text x="299.1" y="521.42" class="tk" text-anchor="end">1050</text>
<text x="299.1" y="505.25" class="tk" text-anchor="end">1100</text>
<text x="299.1" y="489.8" class="tk" text-anchor="end">1150</text>
<text x="299.1" y="475" class="tk" text-anchor="end">1200</text>
<text x="302.1" y="658.3" class="tk" text-anchor="middle">0</text>
<line x1="302.1" x2="302.1" y1="645.4" y2="647.4" stroke="#7a7a7a" stroke-width="0.7"/>
<text x="378.57" y="658.3" class="tk" text-anchor="middle">500</text>
<line x1="378.57" x2="378.57" y1="645.4" y2="647.4" stroke="#7a7a7a" stroke-width="0.7"/>
<text x="455.03" y="658.3" class="tk" text-anchor="middle">1000</text>
<line x1="455.03" x2="455.03" y1="645.4" y2="647.4" stroke="#7a7a7a" stroke-width="0.7"/>
<text x="531.5" y="658.3" class="tk" text-anchor="middle">1500</text>
<line x1="531.5" x2="531.5" y1="645.4" y2="647.4" stroke="#7a7a7a" stroke-width="0.7"/>
<text x="420.2" y="463" class="tt" text-anchor="middle">F6</text>
<text transform="translate(281.3,563.6) rotate(-90)" class="yl" text-anchor="middle">Mean of objective function values</text>
<text x="421.5" y="670.9" class="xl" text-anchor="middle">Iteration</text>
<text x="527.3" y="668.2" class="sl" text-anchor="middle">(f)</text>
<line x1="39.2" x2="265.1" y1="866.24" y2="866.24" stroke="#f2f2f2" stroke-width="0.6"/>
<line x1="39.2" x2="265.1" y1="858.8" y2="858.8" stroke="#f2f2f2" stroke-width="0.6"/>
<line x1="39.2" x2="265.1" y1="851.4" y2="851.4" stroke="#f2f2f2" stroke-width="0.6"/>
<line x1="39.2" x2="265.1" y1="844.05" y2="844.05" stroke="#f2f2f2" stroke-width="0.6"/>
<line x1="39.2" x2="265.1" y1="836.74" y2="836.74" stroke="#f2f2f2" stroke-width="0.6"/>
<line x1="39.2" x2="265.1" y1="829.48" y2="829.48" stroke="#f2f2f2" stroke-width="0.6"/>
<line x1="39.2" x2="265.1" y1="822.26" y2="822.26" stroke="#f2f2f2" stroke-width="0.6"/>
<line x1="39.2" x2="265.1" y1="815.08" y2="815.08" stroke="#f2f2f2" stroke-width="0.6"/>
<line x1="39.2" x2="265.1" y1="807.94" y2="807.94" stroke="#f2f2f2" stroke-width="0.6"/>
<line x1="39.2" x2="265.1" y1="800.85" y2="800.85" stroke="#f2f2f2" stroke-width="0.6"/>
<line x1="39.2" x2="265.1" y1="793.79" y2="793.79" stroke="#f2f2f2" stroke-width="0.6"/>
<line x1="39.2" x2="265.1" y1="786.78" y2="786.78" stroke="#f2f2f2" stroke-width="0.6"/>
<line x1="39.2" x2="265.1" y1="779.81" y2="779.81" stroke="#f2f2f2" stroke-width="0.6"/>
<line x1="39.2" x2="265.1" y1="772.87" y2="772.87" stroke="#f2f2f2" stroke-width="0.6"/>
<line x1="39.2" x2="265.1" y1="765.98" y2="765.98" stroke="#f2f2f2" stroke-width="0.6"/>
<line x1="39.2" x2="265.1" y1="759.12" y2="759.12" stroke="#f2f2f2" stroke-width="0.6"/>
<line x1="39.2" x2="265.1" y1="752.31" y2="752.31" stroke="#f2f2f2" stroke-width="0.6"/>
<line x1="39.2" x2="265.1" y1="745.53" y2="745.53" stroke="#f2f2f2" stroke-width="0.6"/>
<line x1="39.2" x2="265.1" y1="738.79" y2="738.79" stroke="#f2f2f2" stroke-width="0.6"/>
<line x1="39.2" x2="265.1" y1="732.08" y2="732.08" stroke="#f2f2f2" stroke-width="0.6"/>
<line x1="39.2" x2="265.1" y1="725.41" y2="725.41" stroke="#f2f2f2" stroke-width="0.6"/>
<line x1="39.2" x2="265.1" y1="718.78" y2="718.78" stroke="#f2f2f2" stroke-width="0.6"/>
<line x1="39.2" x2="265.1" y1="712.19" y2="712.19" stroke="#f2f2f2" stroke-width="0.6"/>
<line x1="39.2" x2="265.1" y1="705.63" y2="705.63" stroke="#f2f2f2" stroke-width="0.6"/>
<line x1="39.2" x2="265.1" y1="699.1" y2="699.1" stroke="#f2f2f2" stroke-width="0.6"/>
<line x1="39.2" x2="265.1" y1="692.61" y2="692.61" stroke="#f2f2f2" stroke-width="0.6"/>
<line x1="39.2" x2="265.1" y1="858.8" y2="858.8" stroke="#e9e9e9" stroke-width="0.7"/>
<line x1="39.2" x2="265.1" y1="829.48" y2="829.48" stroke="#e9e9e9" stroke-width="0.7"/>
<line x1="39.2" x2="265.1" y1="800.85" y2="800.85" stroke="#e9e9e9" stroke-width="0.7"/>
<line x1="39.2" x2="265.1" y1="772.87" y2="772.87" stroke="#e9e9e9" stroke-width="0.7"/>
<line x1="39.2" x2="265.1" y1="745.53" y2="745.53" stroke="#e9e9e9" stroke-width="0.7"/>
<line x1="39.2" x2="265.1" y1="718.78" y2="718.78" stroke="#e9e9e9" stroke-width="0.7"/>
<line x1="39.2" x2="265.1" y1="692.61" y2="692.61" stroke="#e9e9e9" stroke-width="0.7"/>
<line x1="114.5" x2="114.5" y1="688.4" y2="866.8" stroke="#e9e9e9" stroke-width="0.7"/>
<line x1="189.8" x2="189.8" y1="688.4" y2="866.8" stroke="#e9e9e9" stroke-width="0.7"/>
<polyline points="39.2,753.6 51.09,854.3 62.98,866.6 74.87,866.6 86.76,866.6 98.65,866.6 110.54,866.6 122.43,866.6 134.32,866.6 146.21,866.6 158.09,866.6 169.98,866.6 181.87,866.6 193.76,866.6 205.65,866.6 217.54,866.6 229.43,866.6 241.32,866.6 253.21,866.6 265.1,866.6" fill="none" stroke="#3fe33f" stroke-width="1.2" stroke-linejoin="round"/>
<circle cx="39.2" cy="753.6" r="2.4" fill="none" stroke="#3fe33f" stroke-width="1"/>
<circle cx="51.09" cy="854.3" r="2.4" fill="none" stroke="#3fe33f" stroke-width="1"/>
<circle cx="62.98" cy="866.6" r="2.4" fill="none" stroke="#3fe33f" stroke-width="1"/>
<circle cx="74.87" cy="866.6" r="2.4" fill="none" stroke="#3fe33f" stroke-width="1"/>
<circle cx="86.76" cy="866.6" r="2.4" fill="none" stroke="#3fe33f" stroke-width="1"/>
<circle cx="98.65" cy="866.6" r="2.4" fill="none" stroke="#3fe33f" stroke-width="1"/>
<circle cx="110.54" cy="866.6" r="2.4" fill="none" stroke="#3fe33f" stroke-width="1"/>
<circle cx="122.43" cy="866.6" r="2.4" fill="none" stroke="#3fe33f" stroke-width="1"/>
<circle cx="134.32" cy="866.6" r="2.4" fill="none" stroke="#3fe33f" stroke-width="1"/>
<circle cx="146.21" cy="866.6" r="2.4" fill="none" stroke="#3fe33f" stroke-width="1"/>
<circle cx="158.09" cy="866.6" r="2.4" fill="none" stroke="#3fe33f" stroke-width="1"/>
<circle cx="169.98" cy="866.6" r="2.4" fill="none" stroke="#3fe33f" stroke-width="1"/>
<circle cx="181.87" cy="866.6" r="2.4" fill="none" stroke="#3fe33f" stroke-width="1"/>
<circle cx="193.76" cy="866.6" r="2.4" fill="none" stroke="#3fe33f" stroke-width="1"/>
<circle cx="205.65" cy="866.6" r="2.4" fill="none" stroke="#3fe33f" stroke-width="1"/>
<circle cx="217.54" cy="866.6" r="2.4" fill="none" stroke="#3fe33f" stroke-width="1"/>
<circle cx="229.43" cy="866.6" r="2.4" fill="none" stroke="#3fe33f" stroke-width="1"/>
<circle cx="241.32" cy="866.6" r="2.4" fill="none" stroke="#3fe33f" stroke-width="1"/>
<circle cx="253.21" cy="866.6" r="2.4" fill="none" stroke="#3fe33f" stroke-width="1"/>
<circle cx="265.1" cy="866.6" r="2.4" fill="none" stroke="#3fe33f" stroke-width="1"/>
<polyline points="39.2,699.5 51.09,829.7 62.98,833.8 74.87,835.8 86.76,836.3 98.65,836.8 110.54,836.9 122.43,837.2 134.32,837.3 146.21,837.3 158.09,837.3 169.98,837.3 181.87,837.3 193.76,837.3 205.65,837.3 217.54,837.3 229.43,837.3 241.32,837.3 253.21,837.3 265.1,837.3" fill="none" stroke="#f03a3a" stroke-width="1.2" stroke-linejoin="round"/>
<path d="M36.6 697.42H41.8L39.2 702.36Z" fill="none" stroke="#f03a3a" stroke-width="0.85"/>
<path d="M48.49 827.62H53.69L51.09 832.56Z" fill="none" stroke="#f03a3a" stroke-width="0.85"/>
<path d="M60.38 831.72H65.58L62.98 836.66Z" fill="none" stroke="#f03a3a" stroke-width="0.85"/>
<path d="M72.27 833.72H77.47L74.87 838.66Z" fill="none" stroke="#f03a3a" stroke-width="0.85"/>
<path d="M84.16 834.22H89.36L86.76 839.16Z" fill="none" stroke="#f03a3a" stroke-width="0.85"/>
<path d="M96.05 834.72H101.25L98.65 839.66Z" fill="none" stroke="#f03a3a" stroke-width="0.85"/>
<path d="M107.94 834.82H113.14L110.54 839.76Z" fill="none" stroke="#f03a3a" stroke-width="0.85"/>
<path d="M119.83 835.12H125.03L122.43 840.06Z" fill="none" stroke="#f03a3a" stroke-width="0.85"/>
<path d="M131.72 835.22H136.92L134.32 840.16Z" fill="none" stroke="#f03a3a" stroke-width="0.85"/>
<path d="M143.61 835.22H148.81L146.21 840.16Z" fill="none" stroke="#f03a3a" stroke-width="0.85"/>
<path d="M155.49 835.22H160.69L158.09 840.16Z" fill="none" stroke="#f03a3a" stroke-width="0.85"/>
<path d="M167.38 835.22H172.58L169.98 840.16Z" fill="none" stroke="#f03a3a" stroke-width="0.85"/>
<path d="M179.27 835.22H184.47L181.87 840.16Z" fill="none" stroke="#f03a3a" stroke-width="0.85"/>
<path d="M191.16 835.22H196.36L193.76 840.16Z" fill="none" stroke="#f03a3a" stroke-width="0.85"/>
<path d="M203.05 835.22H208.25L205.65 840.16Z" fill="none" stroke="#f03a3a" stroke-width="0.85"/>
<path d="M214.94 835.22H220.14L217.54 840.16Z" fill="none" stroke="#f03a3a" stroke-width="0.85"/>
<path d="M226.83 835.22H232.03L229.43 840.16Z" fill="none" stroke="#f03a3a" stroke-width="0.85"/>
<path d="M238.72 835.22H243.92L241.32 840.16Z" fill="none" stroke="#f03a3a" stroke-width="0.85"/>
<path d="M250.61 835.22H255.81L253.21 840.16Z" fill="none" stroke="#f03a3a" stroke-width="0.85"/>
<path d="M262.5 835.22H267.7L265.1 840.16Z" fill="none" stroke="#f03a3a" stroke-width="0.85"/>
<polyline points="39.2,705.3 51.09,810.1 62.98,820.7 74.87,821.6 86.76,821.6 98.65,824.8 110.54,825.6 122.43,825.4 134.32,828.8 146.21,831.6 158.09,831.6 169.98,831.6 181.87,831.4 193.76,831.1 205.65,831.1 217.54,831.1 229.43,831.1 241.32,831.1 253.21,831.1 265.1,834" fill="none" stroke="#3a3a3a" stroke-width="1.2" stroke-linejoin="round"/>
<path d="M36.6 707.38H41.8L39.2 702.44Z" fill="none" stroke="#3a3a3a" stroke-width="0.85"/>
<path d="M48.49 812.18H53.69L51.09 807.24Z" fill="none" stroke="#3a3a3a" stroke-width="0.85"/>
<path d="M60.38 822.78H65.58L62.98 817.84Z" fill="none" stroke="#3a3a3a" stroke-width="0.85"/>
<path d="M72.27 823.68H77.47L74.87 818.74Z" fill="none" stroke="#3a3a3a" stroke-width="0.85"/>
<path d="M84.16 823.68H89.36L86.76 818.74Z" fill="none" stroke="#3a3a3a" stroke-width="0.85"/>
<path d="M96.05 826.88H101.25L98.65 821.94Z" fill="none" stroke="#3a3a3a" stroke-width="0.85"/>
<path d="M107.94 827.68H113.14L110.54 822.74Z" fill="none" stroke="#3a3a3a" stroke-width="0.85"/>
<path d="M119.83 827.48H125.03L122.43 822.54Z" fill="none" stroke="#3a3a3a" stroke-width="0.85"/>
<path d="M131.72 830.88H136.92L134.32 825.94Z" fill="none" stroke="#3a3a3a" stroke-width="0.85"/>
<path d="M143.61 833.68H148.81L146.21 828.74Z" fill="none" stroke="#3a3a3a" stroke-width="0.85"/>
<path d="M155.49 833.68H160.69L158.09 828.74Z" fill="none" stroke="#3a3a3a" stroke-width="0.85"/>
<path d="M167.38 833.68H172.58L169.98 828.74Z" fill="none" stroke="#3a3a3a" stroke-width="0.85"/>
<path d="M179.27 833.48H184.47L181.87 828.54Z" fill="none" stroke="#3a3a3a" stroke-width="0.85"/>
<path d="M191.16 833.18H196.36L193.76 828.24Z" fill="none" stroke="#3a3a3a" stroke-width="0.85"/>
<path d="M203.05 833.18H208.25L205.65 828.24Z" fill="none" stroke="#3a3a3a" stroke-width="0.85"/>
<path d="M214.94 833.18H220.14L217.54 828.24Z" fill="none" stroke="#3a3a3a" stroke-width="0.85"/>
<path d="M226.83 833.18H232.03L229.43 828.24Z" fill="none" stroke="#3a3a3a" stroke-width="0.85"/>
<path d="M238.72 833.18H243.92L241.32 828.24Z" fill="none" stroke="#3a3a3a" stroke-width="0.85"/>
<path d="M250.61 833.18H255.81L253.21 828.24Z" fill="none" stroke="#3a3a3a" stroke-width="0.85"/>
<path d="M262.5 836.08H267.7L265.1 831.14Z" fill="none" stroke="#3a3a3a" stroke-width="0.85"/>
<polyline points="39.2,688.1 51.09,816.6 62.98,822.4 74.87,824.8 86.76,825.6 98.65,825.6 110.54,825.7 122.43,825.8 134.32,825.8 146.21,825.8 158.09,825.8 169.98,825.8 181.87,825.8 193.76,825.8 205.65,825.8 217.54,825.8 229.43,825.8 241.32,825.8 253.21,825.8 265.1,825.8" fill="none" stroke="#ff2bff" stroke-width="1.2" stroke-linejoin="round"/>
<circle cx="39.2" cy="688.1" r="2.0" fill="#ff2bff"/>
<circle cx="51.09" cy="816.6" r="2.0" fill="#ff2bff"/>
<circle cx="62.98" cy="822.4" r="2.0" fill="#ff2bff"/>
<circle cx="74.87" cy="824.8" r="2.0" fill="#ff2bff"/>
<circle cx="86.76" cy="825.6" r="2.0" fill="#ff2bff"/>
<circle cx="98.65" cy="825.6" r="2.0" fill="#ff2bff"/>
<circle cx="110.54" cy="825.7" r="2.0" fill="#ff2bff"/>
<circle cx="122.43" cy="825.8" r="2.0" fill="#ff2bff"/>
<circle cx="134.32" cy="825.8" r="2.0" fill="#ff2bff"/>
<circle cx="146.21" cy="825.8" r="2.0" fill="#ff2bff"/>
<circle cx="158.09" cy="825.8" r="2.0" fill="#ff2bff"/>
<circle cx="169.98" cy="825.8" r="2.0" fill="#ff2bff"/>
<circle cx="181.87" cy="825.8" r="2.0" fill="#ff2bff"/>
<circle cx="193.76" cy="825.8" r="2.0" fill="#ff2bff"/>
<circle cx="205.65" cy="825.8" r="2.0" fill="#ff2bff"/>
<circle cx="217.54" cy="825.8" r="2.0" fill="#ff2bff"/>
<circle cx="229.43" cy="825.8" r="2.0" fill="#ff2bff"/>
<circle cx="241.32" cy="825.8" r="2.0" fill="#ff2bff"/>
<circle cx="253.21" cy="825.8" r="2.0" fill="#ff2bff"/>
<circle cx="265.1" cy="825.8" r="2.0" fill="#ff2bff"/>
<polyline points="39.2,741.3 51.09,827.3 62.98,839.6 74.87,846.1 86.76,850.2 98.65,851.8 110.54,854.3 122.43,856.4 134.32,857.7 146.21,859.9 158.09,861 169.98,862.7 181.87,863.5 193.76,863.8 205.65,864.3 217.54,864.6 229.43,864.6 241.32,864.6 253.21,864.6 265.1,864.6" fill="none" stroke="#3535e8" stroke-width="1.2" stroke-linejoin="round"/>
<path d="M41.28 738.7V743.9L36.34 741.3Z" fill="none" stroke="#3535e8" stroke-width="0.85"/>
<path d="M53.17 824.7V829.9L48.23 827.3Z" fill="none" stroke="#3535e8" stroke-width="0.85"/>
<path d="M65.06 837V842.2L60.12 839.6Z" fill="none" stroke="#3535e8" stroke-width="0.85"/>
<path d="M76.95 843.5V848.7L72.01 846.1Z" fill="none" stroke="#3535e8" stroke-width="0.85"/>
<path d="M88.84 847.6V852.8L83.9 850.2Z" fill="none" stroke="#3535e8" stroke-width="0.85"/>
<path d="M100.73 849.2V854.4L95.79 851.8Z" fill="none" stroke="#3535e8" stroke-width="0.85"/>
<path d="M112.62 851.7V856.9L107.68 854.3Z" fill="none" stroke="#3535e8" stroke-width="0.85"/>
<path d="M124.51 853.8V859L119.57 856.4Z" fill="none" stroke="#3535e8" stroke-width="0.85"/>
<path d="M136.4 855.1V860.3L131.46 857.7Z" fill="none" stroke="#3535e8" stroke-width="0.85"/>
<path d="M148.29 857.3V862.5L143.35 859.9Z" fill="none" stroke="#3535e8" stroke-width="0.85"/>
<path d="M160.17 858.4V863.6L155.23 861Z" fill="none" stroke="#3535e8" stroke-width="0.85"/>
<path d="M172.06 860.1V865.3L167.12 862.7Z" fill="none" stroke="#3535e8" stroke-width="0.85"/>
<path d="M183.95 860.9V866.1L179.01 863.5Z" fill="none" stroke="#3535e8" stroke-width="0.85"/>
<path d="M195.84 861.2V866.4L190.9 863.8Z" fill="none" stroke="#3535e8" stroke-width="0.85"/>
<path d="M207.73 861.7V866.9L202.79 864.3Z" fill="none" stroke="#3535e8" stroke-width="0.85"/>
<path d="M219.62 862V867.2L214.68 864.6Z" fill="none" stroke="#3535e8" stroke-width="0.85"/>
<path d="M231.51 862V867.2L226.57 864.6Z" fill="none" stroke="#3535e8" stroke-width="0.85"/>
<path d="M243.4 862V867.2L238.46 864.6Z" fill="none" stroke="#3535e8" stroke-width="0.85"/>
<path d="M255.29 862V867.2L250.35 864.6Z" fill="none" stroke="#3535e8" stroke-width="0.85"/>
<path d="M267.18 862V867.2L262.24 864.6Z" fill="none" stroke="#3535e8" stroke-width="0.85"/>
<polyline points="39.2,704 51.09,813.4 62.98,823.2 74.87,825.6 86.76,826.5 98.65,827.3 110.54,828.9 122.43,830.6 134.32,834.8 146.21,836.5 158.09,836.5 169.98,836.5 181.87,841.4 193.76,846.3 205.65,848.5 217.54,848.5 229.43,848.8 241.32,849.2 253.21,849.5 265.1,849.5" fill="none" stroke="#36ecec" stroke-width="1.2" stroke-linejoin="round"/>
<circle cx="39.2" cy="704" r="2.0" fill="#36ecec"/>
<circle cx="51.09" cy="813.4" r="2.0" fill="#36ecec"/>
<circle cx="62.98" cy="823.2" r="2.0" fill="#36ecec"/>
<circle cx="74.87" cy="825.6" r="2.0" fill="#36ecec"/>
<circle cx="86.76" cy="826.5" r="2.0" fill="#36ecec"/>
<circle cx="98.65" cy="827.3" r="2.0" fill="#36ecec"/>
<circle cx="110.54" cy="828.9" r="2.0" fill="#36ecec"/>
<circle cx="122.43" cy="830.6" r="2.0" fill="#36ecec"/>
<circle cx="134.32" cy="834.8" r="2.0" fill="#36ecec"/>
<circle cx="146.21" cy="836.5" r="2.0" fill="#36ecec"/>
<circle cx="158.09" cy="836.5" r="2.0" fill="#36ecec"/>
<circle cx="169.98" cy="836.5" r="2.0" fill="#36ecec"/>
<circle cx="181.87" cy="841.4" r="2.0" fill="#36ecec"/>
<circle cx="193.76" cy="846.3" r="2.0" fill="#36ecec"/>
<circle cx="205.65" cy="848.5" r="2.0" fill="#36ecec"/>
<circle cx="217.54" cy="848.5" r="2.0" fill="#36ecec"/>
<circle cx="229.43" cy="848.8" r="2.0" fill="#36ecec"/>
<circle cx="241.32" cy="849.2" r="2.0" fill="#36ecec"/>
<circle cx="253.21" cy="849.5" r="2.0" fill="#36ecec"/>
<circle cx="265.1" cy="849.5" r="2.0" fill="#36ecec"/>
<polyline points="39.2,758.5 51.09,784.4 62.98,789.6 74.87,797 86.76,799.1 98.65,800.3 110.54,805.2 122.43,805.3 134.32,807.8 146.21,808.2 158.09,808.2 169.98,808.2 181.87,808.2 193.76,808.2 205.65,808.2 217.54,811.4 229.43,821.7 241.32,821.7 253.21,821.7 265.1,821.7" fill="none" stroke="#e0a43a" stroke-width="1.2" stroke-linejoin="round"/>
<path d="M41.28 755.9V761.1L36.34 758.5Z" fill="none" stroke="#e0a43a" stroke-width="0.85"/>
<path d="M53.17 781.8V787L48.23 784.4Z" fill="none" stroke="#e0a43a" stroke-width="0.85"/>
<path d="M65.06 787V792.2L60.12 789.6Z" fill="none" stroke="#e0a43a" stroke-width="0.85"/>
<path d="M76.95 794.4V799.6L72.01 797Z" fill="none" stroke="#e0a43a" stroke-width="0.85"/>
<path d="M88.84 796.5V801.7L83.9 799.1Z" fill="none" stroke="#e0a43a" stroke-width="0.85"/>
<path d="M100.73 797.7V802.9L95.79 800.3Z" fill="none" stroke="#e0a43a" stroke-width="0.85"/>
<path d="M112.62 802.6V807.8L107.68 805.2Z" fill="none" stroke="#e0a43a" stroke-width="0.85"/>
<path d="M124.51 802.7V807.9L119.57 805.3Z" fill="none" stroke="#e0a43a" stroke-width="0.85"/>
<path d="M136.4 805.2V810.4L131.46 807.8Z" fill="none" stroke="#e0a43a" stroke-width="0.85"/>
<path d="M148.29 805.6V810.8L143.35 808.2Z" fill="none" stroke="#e0a43a" stroke-width="0.85"/>
<path d="M160.17 805.6V810.8L155.23 808.2Z" fill="none" stroke="#e0a43a" stroke-width="0.85"/>
<path d="M172.06 805.6V810.8L167.12 808.2Z" fill="none" stroke="#e0a43a" stroke-width="0.85"/>
<path d="M183.95 805.6V810.8L179.01 808.2Z" fill="none" stroke="#e0a43a" stroke-width="0.85"/>
<path d="M195.84 805.6V810.8L190.9 808.2Z" fill="none" stroke="#e0a43a" stroke-width="0.85"/>
<path d="M207.73 805.6V810.8L202.79 808.2Z" fill="none" stroke="#e0a43a" stroke-width="0.85"/>
<path d="M219.62 808.8V814L214.68 811.4Z" fill="none" stroke="#e0a43a" stroke-width="0.85"/>
<path d="M231.51 819.1V824.3L226.57 821.7Z" fill="none" stroke="#e0a43a" stroke-width="0.85"/>
<path d="M243.4 819.1V824.3L238.46 821.7Z" fill="none" stroke="#e0a43a" stroke-width="0.85"/>
<path d="M255.29 819.1V824.3L250.35 821.7Z" fill="none" stroke="#e0a43a" stroke-width="0.85"/>
<path d="M267.18 819.1V824.3L262.24 821.7Z" fill="none" stroke="#e0a43a" stroke-width="0.85"/>
<rect x="39.2" y="688.4" width="225.9" height="178.4" fill="none" stroke="#7a7a7a" stroke-width="0.85"/>
<line x1="39.2" x2="40.6" y1="866.24" y2="866.24" stroke="#999" stroke-width="0.5"/>
<line x1="263.7" x2="265.1" y1="866.24" y2="866.24" stroke="#999" stroke-width="0.5"/>
<line x1="39.2" x2="40.6" y1="858.8" y2="858.8" stroke="#999" stroke-width="0.5"/>
<line x1="263.7" x2="265.1" y1="858.8" y2="858.8" stroke="#999" stroke-width="0.5"/>
<line x1="39.2" x2="40.6" y1="851.4" y2="851.4" stroke="#999" stroke-width="0.5"/>
<line x1="263.7" x2="265.1" y1="851.4" y2="851.4" stroke="#999" stroke-width="0.5"/>
<line x1="39.2" x2="40.6" y1="844.05" y2="844.05" stroke="#999" stroke-width="0.5"/>
<line x1="263.7" x2="265.1" y1="844.05" y2="844.05" stroke="#999" stroke-width="0.5"/>
<line x1="39.2" x2="40.6" y1="836.74" y2="836.74" stroke="#999" stroke-width="0.5"/>
<line x1="263.7" x2="265.1" y1="836.74" y2="836.74" stroke="#999" stroke-width="0.5"/>
<line x1="39.2" x2="40.6" y1="829.48" y2="829.48" stroke="#999" stroke-width="0.5"/>
<line x1="263.7" x2="265.1" y1="829.48" y2="829.48" stroke="#999" stroke-width="0.5"/>
<line x1="39.2" x2="40.6" y1="822.26" y2="822.26" stroke="#999" stroke-width="0.5"/>
<line x1="263.7" x2="265.1" y1="822.26" y2="822.26" stroke="#999" stroke-width="0.5"/>
<line x1="39.2" x2="40.6" y1="815.08" y2="815.08" stroke="#999" stroke-width="0.5"/>
<line x1="263.7" x2="265.1" y1="815.08" y2="815.08" stroke="#999" stroke-width="0.5"/>
<line x1="39.2" x2="40.6" y1="807.94" y2="807.94" stroke="#999" stroke-width="0.5"/>
<line x1="263.7" x2="265.1" y1="807.94" y2="807.94" stroke="#999" stroke-width="0.5"/>
<line x1="39.2" x2="40.6" y1="800.85" y2="800.85" stroke="#999" stroke-width="0.5"/>
<line x1="263.7" x2="265.1" y1="800.85" y2="800.85" stroke="#999" stroke-width="0.5"/>
<line x1="39.2" x2="40.6" y1="793.79" y2="793.79" stroke="#999" stroke-width="0.5"/>
<line x1="263.7" x2="265.1" y1="793.79" y2="793.79" stroke="#999" stroke-width="0.5"/>
<line x1="39.2" x2="40.6" y1="786.78" y2="786.78" stroke="#999" stroke-width="0.5"/>
<line x1="263.7" x2="265.1" y1="786.78" y2="786.78" stroke="#999" stroke-width="0.5"/>
<line x1="39.2" x2="40.6" y1="779.81" y2="779.81" stroke="#999" stroke-width="0.5"/>
<line x1="263.7" x2="265.1" y1="779.81" y2="779.81" stroke="#999" stroke-width="0.5"/>
<line x1="39.2" x2="40.6" y1="772.87" y2="772.87" stroke="#999" stroke-width="0.5"/>
<line x1="263.7" x2="265.1" y1="772.87" y2="772.87" stroke="#999" stroke-width="0.5"/>
<line x1="39.2" x2="40.6" y1="765.98" y2="765.98" stroke="#999" stroke-width="0.5"/>
<line x1="263.7" x2="265.1" y1="765.98" y2="765.98" stroke="#999" stroke-width="0.5"/>
<line x1="39.2" x2="40.6" y1="759.12" y2="759.12" stroke="#999" stroke-width="0.5"/>
<line x1="263.7" x2="265.1" y1="759.12" y2="759.12" stroke="#999" stroke-width="0.5"/>
<line x1="39.2" x2="40.6" y1="752.31" y2="752.31" stroke="#999" stroke-width="0.5"/>
<line x1="263.7" x2="265.1" y1="752.31" y2="752.31" stroke="#999" stroke-width="0.5"/>
<line x1="39.2" x2="40.6" y1="745.53" y2="745.53" stroke="#999" stroke-width="0.5"/>
<line x1="263.7" x2="265.1" y1="745.53" y2="745.53" stroke="#999" stroke-width="0.5"/>
<line x1="39.2" x2="40.6" y1="738.79" y2="738.79" stroke="#999" stroke-width="0.5"/>
<line x1="263.7" x2="265.1" y1="738.79" y2="738.79" stroke="#999" stroke-width="0.5"/>
<line x1="39.2" x2="40.6" y1="732.08" y2="732.08" stroke="#999" stroke-width="0.5"/>
<line x1="263.7" x2="265.1" y1="732.08" y2="732.08" stroke="#999" stroke-width="0.5"/>
<line x1="39.2" x2="40.6" y1="725.41" y2="725.41" stroke="#999" stroke-width="0.5"/>
<line x1="263.7" x2="265.1" y1="725.41" y2="725.41" stroke="#999" stroke-width="0.5"/>
<line x1="39.2" x2="40.6" y1="718.78" y2="718.78" stroke="#999" stroke-width="0.5"/>
<line x1="263.7" x2="265.1" y1="718.78" y2="718.78" stroke="#999" stroke-width="0.5"/>
<line x1="39.2" x2="40.6" y1="712.19" y2="712.19" stroke="#999" stroke-width="0.5"/>
<line x1="263.7" x2="265.1" y1="712.19" y2="712.19" stroke="#999" stroke-width="0.5"/>
<line x1="39.2" x2="40.6" y1="705.63" y2="705.63" stroke="#999" stroke-width="0.5"/>
<line x1="263.7" x2="265.1" y1="705.63" y2="705.63" stroke="#999" stroke-width="0.5"/>
<line x1="39.2" x2="40.6" y1="699.1" y2="699.1" stroke="#999" stroke-width="0.5"/>
<line x1="263.7" x2="265.1" y1="699.1" y2="699.1" stroke="#999" stroke-width="0.5"/>
<line x1="39.2" x2="40.6" y1="692.61" y2="692.61" stroke="#999" stroke-width="0.5"/>
<line x1="263.7" x2="265.1" y1="692.61" y2="692.61" stroke="#999" stroke-width="0.5"/>
<line x1="39.2" x2="41.2" y1="858.8" y2="858.8" stroke="#7a7a7a" stroke-width="0.7"/>
<line x1="263.1" x2="265.1" y1="858.8" y2="858.8" stroke="#7a7a7a" stroke-width="0.7"/>
<line x1="39.2" x2="41.2" y1="829.48" y2="829.48" stroke="#7a7a7a" stroke-width="0.7"/>
<line x1="263.1" x2="265.1" y1="829.48" y2="829.48" stroke="#7a7a7a" stroke-width="0.7"/>
<line x1="39.2" x2="41.2" y1="800.85" y2="800.85" stroke="#7a7a7a" stroke-width="0.7"/>
<line x1="263.1" x2="265.1" y1="800.85" y2="800.85" stroke="#7a7a7a" stroke-width="0.7"/>
<line x1="39.2" x2="41.2" y1="772.87" y2="772.87" stroke="#7a7a7a" stroke-width="0.7"/>
<line x1="263.1" x2="265.1" y1="772.87" y2="772.87" stroke="#7a7a7a" stroke-width="0.7"/>
<line x1="39.2" x2="41.2" y1="745.53" y2="745.53" stroke="#7a7a7a" stroke-width="0.7"/>
<line x1="263.1" x2="265.1" y1="745.53" y2="745.53" stroke="#7a7a7a" stroke-width="0.7"/>
<line x1="39.2" x2="41.2" y1="718.78" y2="718.78" stroke="#7a7a7a" stroke-width="0.7"/>
<line x1="263.1" x2="265.1" y1="718.78" y2="718.78" stroke="#7a7a7a" stroke-width="0.7"/>
<line x1="39.2" x2="41.2" y1="692.61" y2="692.61" stroke="#7a7a7a" stroke-width="0.7"/>
<line x1="263.1" x2="265.1" y1="692.61" y2="692.61" stroke="#7a7a7a" stroke-width="0.7"/>
<rect x="195.5" y="696.4" width="61.2" height="67.6" fill="#fff" stroke="#8c8c8c" stroke-width="0.8"/>
<line x1="197.8" x2="221" y1="702.4" y2="702.4" stroke="#3fe33f" stroke-width="1.1"/>
<circle cx="209.4" cy="702.4" r="2.4" fill="none" stroke="#3fe33f" stroke-width="1"/>
<text x="223.1" y="705" class="lg">M<tspan dx="1.3">I</tspan><tspan dx="1.3">SCSO</tspan></text>
<line x1="197.8" x2="221" y1="711.78" y2="711.78" stroke="#f03a3a" stroke-width="1.1"/>
<path d="M206.8 709.7H212L209.4 714.64Z" fill="none" stroke="#f03a3a" stroke-width="0.85"/>
<text x="223.1" y="714.38" class="lg">SCSO</text>
<line x1="197.8" x2="221" y1="721.17" y2="721.17" stroke="#3a3a3a" stroke-width="1.1"/>
<path d="M206.8 723.25H212L209.4 718.31Z" fill="none" stroke="#3a3a3a" stroke-width="0.85"/>
<text x="223.1" y="723.77" class="lg">SMOA</text>
<line x1="197.8" x2="221" y1="730.55" y2="730.55" stroke="#ff2bff" stroke-width="1.1"/>
<circle cx="209.4" cy="730.55" r="2.0" fill="#ff2bff"/>
<text x="223.1" y="733.15" class="lg">WOA</text>
<line x1="197.8" x2="221" y1="739.93" y2="739.93" stroke="#3535e8" stroke-width="1.1"/>
<path d="M211.48 737.33V742.53L206.54 739.93Z" fill="none" stroke="#3535e8" stroke-width="0.85"/>
<text x="223.1" y="742.53" class="lg">BWO</text>
<line x1="197.8" x2="221" y1="749.32" y2="749.32" stroke="#36ecec" stroke-width="1.1"/>
<circle cx="209.4" cy="749.32" r="2.0" fill="#36ecec"/>
<text x="223.1" y="751.92" class="lg">ACO</text>
<line x1="197.8" x2="221" y1="758.7" y2="758.7" stroke="#e0a43a" stroke-width="1.1"/>
<path d="M211.48 756.1V761.3L206.54 758.7Z" fill="none" stroke="#e0a43a" stroke-width="0.85"/>
<text x="223.1" y="761.3" class="lg">RSA</text>
<text x="36.2" y="861.2" class="tk" text-anchor="end">820</text>
<text x="36.2" y="831.88" class="tk" text-anchor="end">840</text>
<text x="36.2" y="803.25" class="tk" text-anchor="end">860</text>
<text x="36.2" y="775.27" class="tk" text-anchor="end">880</text>
<text x="36.2" y="747.93" class="tk" text-anchor="end">900</text>
<text x="36.2" y="721.18" class="tk" text-anchor="end">920</text>
<text x="36.2" y="695.01" class="tk" text-anchor="end">940</text>
<text x="39.2" y="878" class="tk" text-anchor="middle">0</text>
<line x1="39.2" x2="39.2" y1="864.8" y2="866.8" stroke="#7a7a7a" stroke-width="0.7"/>
<text x="114.5" y="878" class="tk" text-anchor="middle">500</text>
<line x1="114.5" x2="114.5" y1="864.8" y2="866.8" stroke="#7a7a7a" stroke-width="0.7"/>
<text x="189.8" y="878" class="tk" text-anchor="middle">1000</text>
<line x1="189.8" x2="189.8" y1="864.8" y2="866.8" stroke="#7a7a7a" stroke-width="0.7"/>
<text x="265.1" y="878" class="tk" text-anchor="middle">1500</text>
<line x1="265.1" x2="265.1" y1="864.8" y2="866.8" stroke="#7a7a7a" stroke-width="0.7"/>
<text x="155" y="684.9" class="tt" text-anchor="middle">F7</text>
<text transform="translate(15.1,789.2) rotate(-90)" class="yl" text-anchor="middle">Mean of objective function values</text>
<text x="154.1" y="896.9" class="xl" text-anchor="middle">Iteration</text>
<text x="262.7" y="896.6" class="sl" text-anchor="middle">(g)</text>
<line x1="304" x2="533.6" y1="861" y2="861" stroke="#f2f2f2" stroke-width="0.6"/>
<line x1="304" x2="533.6" y1="851.81" y2="851.81" stroke="#f2f2f2" stroke-width="0.6"/>
<line x1="304" x2="533.6" y1="843.43" y2="843.43" stroke="#f2f2f2" stroke-width="0.6"/>
<line x1="304" x2="533.6" y1="835.72" y2="835.72" stroke="#f2f2f2" stroke-width="0.6"/>
<line x1="304" x2="533.6" y1="828.57" y2="828.57" stroke="#f2f2f2" stroke-width="0.6"/>
<line x1="304" x2="533.6" y1="821.93" y2="821.93" stroke="#f2f2f2" stroke-width="0.6"/>
<line x1="304" x2="533.6" y1="815.71" y2="815.71" stroke="#f2f2f2" stroke-width="0.6"/>
<line x1="304" x2="533.6" y1="809.86" y2="809.86" stroke="#f2f2f2" stroke-width="0.6"/>
<line x1="304" x2="533.6" y1="804.36" y2="804.36" stroke="#f2f2f2" stroke-width="0.6"/>
<line x1="304" x2="533.6" y1="799.14" y2="799.14" stroke="#f2f2f2" stroke-width="0.6"/>
<line x1="304" x2="533.6" y1="794.2" y2="794.2" stroke="#f2f2f2" stroke-width="0.6"/>
<line x1="304" x2="533.6" y1="789.5" y2="789.5" stroke="#f2f2f2" stroke-width="0.6"/>
<line x1="304" x2="533.6" y1="785.02" y2="785.02" stroke="#f2f2f2" stroke-width="0.6"/>
<line x1="304" x2="533.6" y1="780.73" y2="780.73" stroke="#f2f2f2" stroke-width="0.6"/>
<line x1="304" x2="533.6" y1="776.63" y2="776.63" stroke="#f2f2f2" stroke-width="0.6"/>
<line x1="304" x2="533.6" y1="772.7" y2="772.7" stroke="#f2f2f2" stroke-width="0.6"/>
<line x1="304" x2="533.6" y1="768.92" y2="768.92" stroke="#f2f2f2" stroke-width="0.6"/>
<line x1="304" x2="533.6" y1="765.28" y2="765.28" stroke="#f2f2f2" stroke-width="0.6"/>
<line x1="304" x2="533.6" y1="761.78" y2="761.78" stroke="#f2f2f2" stroke-width="0.6"/>
<line x1="304" x2="533.6" y1="758.39" y2="758.39" stroke="#f2f2f2" stroke-width="0.6"/>
<line x1="304" x2="533.6" y1="755.13" y2="755.13" stroke="#f2f2f2" stroke-width="0.6"/>
<line x1="304" x2="533.6" y1="751.97" y2="751.97" stroke="#f2f2f2" stroke-width="0.6"/>
<line x1="304" x2="533.6" y1="748.91" y2="748.91" stroke="#f2f2f2" stroke-width="0.6"/>
<line x1="304" x2="533.6" y1="745.94" y2="745.94" stroke="#f2f2f2" stroke-width="0.6"/>
<line x1="304" x2="533.6" y1="743.06" y2="743.06" stroke="#f2f2f2" stroke-width="0.6"/>
<line x1="304" x2="533.6" y1="740.27" y2="740.27" stroke="#f2f2f2" stroke-width="0.6"/>
<line x1="304" x2="533.6" y1="737.56" y2="737.56" stroke="#f2f2f2" stroke-width="0.6"/>
<line x1="304" x2="533.6" y1="734.92" y2="734.92" stroke="#f2f2f2" stroke-width="0.6"/>
<line x1="304" x2="533.6" y1="732.35" y2="732.35" stroke="#f2f2f2" stroke-width="0.6"/>
<line x1="304" x2="533.6" y1="729.84" y2="729.84" stroke="#f2f2f2" stroke-width="0.6"/>
<line x1="304" x2="533.6" y1="727.4" y2="727.4" stroke="#f2f2f2" stroke-width="0.6"/>
<line x1="304" x2="533.6" y1="725.02" y2="725.02" stroke="#f2f2f2" stroke-width="0.6"/>
<line x1="304" x2="533.6" y1="722.7" y2="722.7" stroke="#f2f2f2" stroke-width="0.6"/>
<line x1="304" x2="533.6" y1="720.43" y2="720.43" stroke="#f2f2f2" stroke-width="0.6"/>
<line x1="304" x2="533.6" y1="718.22" y2="718.22" stroke="#f2f2f2" stroke-width="0.6"/>
<line x1="304" x2="533.6" y1="716.05" y2="716.05" stroke="#f2f2f2" stroke-width="0.6"/>
<line x1="304" x2="533.6" y1="713.93" y2="713.93" stroke="#f2f2f2" stroke-width="0.6"/>
<line x1="304" x2="533.6" y1="711.86" y2="711.86" stroke="#f2f2f2" stroke-width="0.6"/>
<line x1="304" x2="533.6" y1="709.83" y2="709.83" stroke="#f2f2f2" stroke-width="0.6"/>
<line x1="304" x2="533.6" y1="707.85" y2="707.85" stroke="#f2f2f2" stroke-width="0.6"/>
<line x1="304" x2="533.6" y1="705.9" y2="705.9" stroke="#f2f2f2" stroke-width="0.6"/>
<line x1="304" x2="533.6" y1="703.99" y2="703.99" stroke="#f2f2f2" stroke-width="0.6"/>
<line x1="304" x2="533.6" y1="702.12" y2="702.12" stroke="#f2f2f2" stroke-width="0.6"/>
<line x1="304" x2="533.6" y1="700.28" y2="700.28" stroke="#f2f2f2" stroke-width="0.6"/>
<line x1="304" x2="533.6" y1="698.48" y2="698.48" stroke="#f2f2f2" stroke-width="0.6"/>
<line x1="304" x2="533.6" y1="696.71" y2="696.71" stroke="#f2f2f2" stroke-width="0.6"/>
<line x1="304" x2="533.6" y1="694.98" y2="694.98" stroke="#f2f2f2" stroke-width="0.6"/>
<line x1="304" x2="533.6" y1="693.27" y2="693.27" stroke="#f2f2f2" stroke-width="0.6"/>
<line x1="304" x2="533.6" y1="691.6" y2="691.6" stroke="#f2f2f2" stroke-width="0.6"/>
<line x1="304" x2="533.6" y1="689.95" y2="689.95" stroke="#f2f2f2" stroke-width="0.6"/>
<line x1="304" x2="533.6" y1="861" y2="861" stroke="#e9e9e9" stroke-width="0.7"/>
<line x1="304" x2="533.6" y1="821.93" y2="821.93" stroke="#e9e9e9" stroke-width="0.7"/>
<line x1="304" x2="533.6" y1="794.2" y2="794.2" stroke="#e9e9e9" stroke-width="0.7"/>
<line x1="304" x2="533.6" y1="772.7" y2="772.7" stroke="#e9e9e9" stroke-width="0.7"/>
<line x1="304" x2="533.6" y1="755.13" y2="755.13" stroke="#e9e9e9" stroke-width="0.7"/>
<line x1="304" x2="533.6" y1="740.27" y2="740.27" stroke="#e9e9e9" stroke-width="0.7"/>
<line x1="304" x2="533.6" y1="727.4" y2="727.4" stroke="#e9e9e9" stroke-width="0.7"/>
<line x1="304" x2="533.6" y1="716.05" y2="716.05" stroke="#e9e9e9" stroke-width="0.7"/>
<line x1="304" x2="533.6" y1="705.9" y2="705.9" stroke="#e9e9e9" stroke-width="0.7"/>
<line x1="304" x2="533.6" y1="696.71" y2="696.71" stroke="#e9e9e9" stroke-width="0.7"/>
<line x1="380.53" x2="380.53" y1="688.6" y2="870.3" stroke="#e9e9e9" stroke-width="0.7"/>
<line x1="457.07" x2="457.07" y1="688.6" y2="870.3" stroke="#e9e9e9" stroke-width="0.7"/>
<polyline points="304,747 316.08,868.6 328.17,870 340.25,870 352.34,870 364.42,870 376.51,870 388.59,870 400.67,870 412.76,870 424.84,870 436.93,870 449.01,870 461.09,870 473.18,870 485.26,870 497.35,870 509.43,870 521.52,870 533.6,870" fill="none" stroke="#3fe33f" stroke-width="1.2" stroke-linejoin="round"/>
<circle cx="304" cy="747" r="2.4" fill="none" stroke="#3fe33f" stroke-width="1"/>
<circle cx="316.08" cy="868.6" r="2.4" fill="none" stroke="#3fe33f" stroke-width="1"/>
<circle cx="328.17" cy="870" r="2.4" fill="none" stroke="#3fe33f" stroke-width="1"/>
<circle cx="340.25" cy="870" r="2.4" fill="none" stroke="#3fe33f" stroke-width="1"/>
<circle cx="352.34" cy="870" r="2.4" fill="none" stroke="#3fe33f" stroke-width="1"/>
<circle cx="364.42" cy="870" r="2.4" fill="none" stroke="#3fe33f" stroke-width="1"/>
<circle cx="376.51" cy="870" r="2.4" fill="none" stroke="#3fe33f" stroke-width="1"/>
<circle cx="388.59" cy="870" r="2.4" fill="none" stroke="#3fe33f" stroke-width="1"/>
<circle cx="400.67" cy="870" r="2.4" fill="none" stroke="#3fe33f" stroke-width="1"/>
<circle cx="412.76" cy="870" r="2.4" fill="none" stroke="#3fe33f" stroke-width="1"/>
<circle cx="424.84" cy="870" r="2.4" fill="none" stroke="#3fe33f" stroke-width="1"/>
<circle cx="436.93" cy="870" r="2.4" fill="none" stroke="#3fe33f" stroke-width="1"/>
<circle cx="449.01" cy="870" r="2.4" fill="none" stroke="#3fe33f" stroke-width="1"/>
<circle cx="461.09" cy="870" r="2.4" fill="none" stroke="#3fe33f" stroke-width="1"/>
<circle cx="473.18" cy="870" r="2.4" fill="none" stroke="#3fe33f" stroke-width="1"/>
<circle cx="485.26" cy="870" r="2.4" fill="none" stroke="#3fe33f" stroke-width="1"/>
<circle cx="497.35" cy="870" r="2.4" fill="none" stroke="#3fe33f" stroke-width="1"/>
<circle cx="509.43" cy="870" r="2.4" fill="none" stroke="#3fe33f" stroke-width="1"/>
<circle cx="521.52" cy="870" r="2.4" fill="none" stroke="#3fe33f" stroke-width="1"/>
<circle cx="533.6" cy="870" r="2.4" fill="none" stroke="#3fe33f" stroke-width="1"/>
<polyline points="304,688.6 316.08,856 328.17,861.7 340.25,862.6 352.34,862.6 364.42,862.6 376.51,863.4 388.59,863.6 400.67,863.8 412.76,864 424.84,864 436.93,864.2 449.01,864.2 461.09,864.2 473.18,864.2 485.26,864.2 497.35,864.2 509.43,864.2 521.52,864.2 533.6,864.2" fill="none" stroke="#f03a3a" stroke-width="1.2" stroke-linejoin="round"/>
<path d="M301.4 686.52H306.6L304 691.46Z" fill="none" stroke="#f03a3a" stroke-width="0.85"/>
<path d="M313.48 853.92H318.68L316.08 858.86Z" fill="none" stroke="#f03a3a" stroke-width="0.85"/>
<path d="M325.57 859.62H330.77L328.17 864.56Z" fill="none" stroke="#f03a3a" stroke-width="0.85"/>
<path d="M337.65 860.52H342.85L340.25 865.46Z" fill="none" stroke="#f03a3a" stroke-width="0.85"/>
<path d="M349.74 860.52H354.94L352.34 865.46Z" fill="none" stroke="#f03a3a" stroke-width="0.85"/>
<path d="M361.82 860.52H367.02L364.42 865.46Z" fill="none" stroke="#f03a3a" stroke-width="0.85"/>
<path d="M373.91 861.32H379.11L376.51 866.26Z" fill="none" stroke="#f03a3a" stroke-width="0.85"/>
<path d="M385.99 861.52H391.19L388.59 866.46Z" fill="none" stroke="#f03a3a" stroke-width="0.85"/>
<path d="M398.07 861.72H403.27L400.67 866.66Z" fill="none" stroke="#f03a3a" stroke-width="0.85"/>
<path d="M410.16 861.92H415.36L412.76 866.86Z" fill="none" stroke="#f03a3a" stroke-width="0.85"/>
<path d="M422.24 861.92H427.44L424.84 866.86Z" fill="none" stroke="#f03a3a" stroke-width="0.85"/>
<path d="M434.33 862.12H439.53L436.93 867.06Z" fill="none" stroke="#f03a3a" stroke-width="0.85"/>
<path d="M446.41 862.12H451.61L449.01 867.06Z" fill="none" stroke="#f03a3a" stroke-width="0.85"/>
<path d="M458.49 862.12H463.69L461.09 867.06Z" fill="none" stroke="#f03a3a" stroke-width="0.85"/>
<path d="M470.58 862.12H475.78L473.18 867.06Z" fill="none" stroke="#f03a3a" stroke-width="0.85"/>
<path d="M482.66 862.12H487.86L485.26 867.06Z" fill="none" stroke="#f03a3a" stroke-width="0.85"/>
<path d="M494.75 862.12H499.95L497.35 867.06Z" fill="none" stroke="#f03a3a" stroke-width="0.85"/>
<path d="M506.83 862.12H512.03L509.43 867.06Z" fill="none" stroke="#f03a3a" stroke-width="0.85"/>
<path d="M518.92 862.12H524.12L521.52 867.06Z" fill="none" stroke="#f03a3a" stroke-width="0.85"/>
<path d="M531 862.12H536.2L533.6 867.06Z" fill="none" stroke="#f03a3a" stroke-width="0.85"/>
<polyline points="304,722.5 316.08,841.3 328.17,850.6 340.25,851.1 352.34,852.7 364.42,853 376.51,853.6 388.59,856 400.67,858.6 412.76,858.6 424.84,858.6 436.93,858.6 449.01,858.6 461.09,858.6 473.18,858.6 485.26,858.6 497.35,858.6 509.43,858.6 521.52,858.6 533.6,858.6" fill="none" stroke="#3a3a3a" stroke-width="1.2" stroke-linejoin="round"/>
<path d="M301.4 724.58H306.6L304 719.64Z" fill="none" stroke="#3a3a3a" stroke-width="0.85"/>
<path d="M313.48 843.38H318.68L316.08 838.44Z" fill="none" stroke="#3a3a3a" stroke-width="0.85"/>
<path d="M325.57 852.68H330.77L328.17 847.74Z" fill="none" stroke="#3a3a3a" stroke-width="0.85"/>
<path d="M337.65 853.18H342.85L340.25 848.24Z" fill="none" stroke="#3a3a3a" stroke-width="0.85"/>
<path d="M349.74 854.78H354.94L352.34 849.84Z" fill="none" stroke="#3a3a3a" stroke-width="0.85"/>
<path d="M361.82 855.08H367.02L364.42 850.14Z" fill="none" stroke="#3a3a3a" stroke-width="0.85"/>
<path d="M373.91 855.68H379.11L376.51 850.74Z" fill="none" stroke="#3a3a3a" stroke-width="0.85"/>
<path d="M385.99 858.08H391.19L388.59 853.14Z" fill="none" stroke="#3a3a3a" stroke-width="0.85"/>
<path d="M398.07 860.68H403.27L400.67 855.74Z" fill="none" stroke="#3a3a3a" stroke-width="0.85"/>
<path d="M410.16 860.68H415.36L412.76 855.74Z" fill="none" stroke="#3a3a3a" stroke-width="0.85"/>
<path d="M422.24 860.68H427.44L424.84 855.74Z" fill="none" stroke="#3a3a3a" stroke-width="0.85"/>
<path d="M434.33 860.68H439.53L436.93 855.74Z" fill="none" stroke="#3a3a3a" stroke-width="0.85"/>
<path d="M446.41 860.68H451.61L449.01 855.74Z" fill="none" stroke="#3a3a3a" stroke-width="0.85"/>
<path d="M458.49 860.68H463.69L461.09 855.74Z" fill="none" stroke="#3a3a3a" stroke-width="0.85"/>
<path d="M470.58 860.68H475.78L473.18 855.74Z" fill="none" stroke="#3a3a3a" stroke-width="0.85"/>
<path d="M482.66 860.68H487.86L485.26 855.74Z" fill="none" stroke="#3a3a3a" stroke-width="0.85"/>
<path d="M494.75 860.68H499.95L497.35 855.74Z" fill="none" stroke="#3a3a3a" stroke-width="0.85"/>
<path d="M506.83 860.68H512.03L509.43 855.74Z" fill="none" stroke="#3a3a3a" stroke-width="0.85"/>
<path d="M518.92 860.68H524.12L521.52 855.74Z" fill="none" stroke="#3a3a3a" stroke-width="0.85"/>
<path d="M531 860.68H536.2L533.6 855.74Z" fill="none" stroke="#3a3a3a" stroke-width="0.85"/>
<polyline points="304,688.6 316.08,797.9 328.17,804.5 340.25,815.1 352.34,816.7 364.42,817.9 376.51,818 388.59,818.4 400.67,818.5 412.76,819.3 424.84,819.3 436.93,819.3 449.01,819.3 461.09,819.3 473.18,819.3 485.26,819.3 497.35,819.3 509.43,819.3 521.52,819.3 533.6,819.3" fill="none" stroke="#ff2bff" stroke-width="1.2" stroke-linejoin="round"/>
<circle cx="304" cy="688.6" r="2.0" fill="#ff2bff"/>
<circle cx="316.08" cy="797.9" r="2.0" fill="#ff2bff"/>
<circle cx="328.17" cy="804.5" r="2.0" fill="#ff2bff"/>
<circle cx="340.25" cy="815.1" r="2.0" fill="#ff2bff"/>
<circle cx="352.34" cy="816.7" r="2.0" fill="#ff2bff"/>
<circle cx="364.42" cy="817.9" r="2.0" fill="#ff2bff"/>
<circle cx="376.51" cy="818" r="2.0" fill="#ff2bff"/>
<circle cx="388.59" cy="818.4" r="2.0" fill="#ff2bff"/>
<circle cx="400.67" cy="818.5" r="2.0" fill="#ff2bff"/>
<circle cx="412.76" cy="819.3" r="2.0" fill="#ff2bff"/>
<circle cx="424.84" cy="819.3" r="2.0" fill="#ff2bff"/>
<circle cx="436.93" cy="819.3" r="2.0" fill="#ff2bff"/>
<circle cx="449.01" cy="819.3" r="2.0" fill="#ff2bff"/>
<circle cx="461.09" cy="819.3" r="2.0" fill="#ff2bff"/>
<circle cx="473.18" cy="819.3" r="2.0" fill="#ff2bff"/>
<circle cx="485.26" cy="819.3" r="2.0" fill="#ff2bff"/>
<circle cx="497.35" cy="819.3" r="2.0" fill="#ff2bff"/>
<circle cx="509.43" cy="819.3" r="2.0" fill="#ff2bff"/>
<circle cx="521.52" cy="819.3" r="2.0" fill="#ff2bff"/>
<circle cx="533.6" cy="819.3" r="2.0" fill="#ff2bff"/>
<polyline points="304,764.2 316.08,852.7 328.17,860.9 340.25,864.2 352.34,865.3 364.42,867 376.51,867.5 388.59,868 400.67,868.4 412.76,868.4 424.84,868.4 436.93,868.4 449.01,868.4 461.09,868.4 473.18,868.4 485.26,868.4 497.35,868.4 509.43,868.4 521.52,868.4 533.6,868.4" fill="none" stroke="#3535e8" stroke-width="1.2" stroke-linejoin="round"/>
<path d="M306.08 761.6V766.8L301.14 764.2Z" fill="none" stroke="#3535e8" stroke-width="0.85"/>
<path d="M318.16 850.1V855.3L313.22 852.7Z" fill="none" stroke="#3535e8" stroke-width="0.85"/>
<path d="M330.25 858.3V863.5L325.31 860.9Z" fill="none" stroke="#3535e8" stroke-width="0.85"/>
<path d="M342.33 861.6V866.8L337.39 864.2Z" fill="none" stroke="#3535e8" stroke-width="0.85"/>
<path d="M354.42 862.7V867.9L349.48 865.3Z" fill="none" stroke="#3535e8" stroke-width="0.85"/>
<path d="M366.5 864.4V869.6L361.56 867Z" fill="none" stroke="#3535e8" stroke-width="0.85"/>
<path d="M378.59 864.9V870.1L373.65 867.5Z" fill="none" stroke="#3535e8" stroke-width="0.85"/>
<path d="M390.67 865.4V870.6L385.73 868Z" fill="none" stroke="#3535e8" stroke-width="0.85"/>
<path d="M402.75 865.8V871L397.81 868.4Z" fill="none" stroke="#3535e8" stroke-width="0.85"/>
<path d="M414.84 865.8V871L409.9 868.4Z" fill="none" stroke="#3535e8" stroke-width="0.85"/>
<path d="M426.92 865.8V871L421.98 868.4Z" fill="none" stroke="#3535e8" stroke-width="0.85"/>
<path d="M439.01 865.8V871L434.07 868.4Z" fill="none" stroke="#3535e8" stroke-width="0.85"/>
<path d="M451.09 865.8V871L446.15 868.4Z" fill="none" stroke="#3535e8" stroke-width="0.85"/>
<path d="M463.17 865.8V871L458.23 868.4Z" fill="none" stroke="#3535e8" stroke-width="0.85"/>
<path d="M475.26 865.8V871L470.32 868.4Z" fill="none" stroke="#3535e8" stroke-width="0.85"/>
<path d="M487.34 865.8V871L482.4 868.4Z" fill="none" stroke="#3535e8" stroke-width="0.85"/>
<path d="M499.43 865.8V871L494.49 868.4Z" fill="none" stroke="#3535e8" stroke-width="0.85"/>
<path d="M511.51 865.8V871L506.57 868.4Z" fill="none" stroke="#3535e8" stroke-width="0.85"/>
<path d="M523.6 865.8V871L518.66 868.4Z" fill="none" stroke="#3535e8" stroke-width="0.85"/>
<path d="M535.68 865.8V871L530.74 868.4Z" fill="none" stroke="#3535e8" stroke-width="0.85"/>
<polyline points="304,695.5 316.08,858.5 328.17,869.1 340.25,870 352.34,870 364.42,870 376.51,870 388.59,870 400.67,870 412.76,870 424.84,870 436.93,870 449.01,870 461.09,870 473.18,870 485.26,870 497.35,870 509.43,870 521.52,870 533.6,870" fill="none" stroke="#36ecec" stroke-width="1.2" stroke-linejoin="round"/>
<circle cx="304" cy="695.5" r="2.0" fill="#36ecec"/>
<circle cx="316.08" cy="858.5" r="2.0" fill="#36ecec"/>
<circle cx="328.17" cy="869.1" r="2.0" fill="#36ecec"/>
<circle cx="340.25" cy="870" r="2.0" fill="#36ecec"/>
<circle cx="352.34" cy="870" r="2.0" fill="#36ecec"/>
<circle cx="364.42" cy="870" r="2.0" fill="#36ecec"/>
<circle cx="376.51" cy="870" r="2.0" fill="#36ecec"/>
<circle cx="388.59" cy="870" r="2.0" fill="#36ecec"/>
<circle cx="400.67" cy="870" r="2.0" fill="#36ecec"/>
<circle cx="412.76" cy="870" r="2.0" fill="#36ecec"/>
<circle cx="424.84" cy="870" r="2.0" fill="#36ecec"/>
<circle cx="436.93" cy="870" r="2.0" fill="#36ecec"/>
<circle cx="449.01" cy="870" r="2.0" fill="#36ecec"/>
<circle cx="461.09" cy="870" r="2.0" fill="#36ecec"/>
<circle cx="473.18" cy="870" r="2.0" fill="#36ecec"/>
<circle cx="485.26" cy="870" r="2.0" fill="#36ecec"/>
<circle cx="497.35" cy="870" r="2.0" fill="#36ecec"/>
<circle cx="509.43" cy="870" r="2.0" fill="#36ecec"/>
<circle cx="521.52" cy="870" r="2.0" fill="#36ecec"/>
<circle cx="533.6" cy="870" r="2.0" fill="#36ecec"/>
<polyline points="304,777.3 316.08,796.3 328.17,803.6 340.25,804.1 352.34,805.3 364.42,814.3 376.51,815.9 388.59,817.4 400.67,818 412.76,821.5 424.84,821.2 436.93,821.2 449.01,821.2 461.09,820.8 473.18,820.8 485.26,824 497.35,824 509.43,824 521.52,824.5 533.6,825.6" fill="none" stroke="#e0a43a" stroke-width="1.2" stroke-linejoin="round"/>
<path d="M306.08 774.7V779.9L301.14 777.3Z" fill="none" stroke="#e0a43a" stroke-width="0.85"/>
<path d="M318.16 793.7V798.9L313.22 796.3Z" fill="none" stroke="#e0a43a" stroke-width="0.85"/>
<path d="M330.25 801V806.2L325.31 803.6Z" fill="none" stroke="#e0a43a" stroke-width="0.85"/>
<path d="M342.33 801.5V806.7L337.39 804.1Z" fill="none" stroke="#e0a43a" stroke-width="0.85"/>
<path d="M354.42 802.7V807.9L349.48 805.3Z" fill="none" stroke="#e0a43a" stroke-width="0.85"/>
<path d="M366.5 811.7V816.9L361.56 814.3Z" fill="none" stroke="#e0a43a" stroke-width="0.85"/>
<path d="M378.59 813.3V818.5L373.65 815.9Z" fill="none" stroke="#e0a43a" stroke-width="0.85"/>
<path d="M390.67 814.8V820L385.73 817.4Z" fill="none" stroke="#e0a43a" stroke-width="0.85"/>
<path d="M402.75 815.4V820.6L397.81 818Z" fill="none" stroke="#e0a43a" stroke-width="0.85"/>
<path d="M414.84 818.9V824.1L409.9 821.5Z" fill="none" stroke="#e0a43a" stroke-width="0.85"/>
<path d="M426.92 818.6V823.8L421.98 821.2Z" fill="none" stroke="#e0a43a" stroke-width="0.85"/>
<path d="M439.01 818.6V823.8L434.07 821.2Z" fill="none" stroke="#e0a43a" stroke-width="0.85"/>
<path d="M451.09 818.6V823.8L446.15 821.2Z" fill="none" stroke="#e0a43a" stroke-width="0.85"/>
<path d="M463.17 818.2V823.4L458.23 820.8Z" fill="none" stroke="#e0a43a" stroke-width="0.85"/>
<path d="M475.26 818.2V823.4L470.32 820.8Z" fill="none" stroke="#e0a43a" stroke-width="0.85"/>
<path d="M487.34 821.4V826.6L482.4 824Z" fill="none" stroke="#e0a43a" stroke-width="0.85"/>
<path d="M499.43 821.4V826.6L494.49 824Z" fill="none" stroke="#e0a43a" stroke-width="0.85"/>
<path d="M511.51 821.4V826.6L506.57 824Z" fill="none" stroke="#e0a43a" stroke-width="0.85"/>
<path d="M523.6 821.9V827.1L518.66 824.5Z" fill="none" stroke="#e0a43a" stroke-width="0.85"/>
<path d="M535.68 823V828.2L530.74 825.6Z" fill="none" stroke="#e0a43a" stroke-width="0.85"/>
<rect x="304" y="688.6" width="229.6" height="181.7" fill="none" stroke="#7a7a7a" stroke-width="0.85"/>
<line x1="304" x2="305.4" y1="861" y2="861" stroke="#999" stroke-width="0.5"/>
<line x1="532.2" x2="533.6" y1="861" y2="861" stroke="#999" stroke-width="0.5"/>
<line x1="304" x2="305.4" y1="851.81" y2="851.81" stroke="#999" stroke-width="0.5"/>
<line x1="532.2" x2="533.6" y1="851.81" y2="851.81" stroke="#999" stroke-width="0.5"/>
<line x1="304" x2="305.4" y1="843.43" y2="843.43" stroke="#999" stroke-width="0.5"/>
<line x1="532.2" x2="533.6" y1="843.43" y2="843.43" stroke="#999" stroke-width="0.5"/>
<line x1="304" x2="305.4" y1="835.72" y2="835.72" stroke="#999" stroke-width="0.5"/>
<line x1="532.2" x2="533.6" y1="835.72" y2="835.72" stroke="#999" stroke-width="0.5"/>
<line x1="304" x2="305.4" y1="828.57" y2="828.57" stroke="#999" stroke-width="0.5"/>
<line x1="532.2" x2="533.6" y1="828.57" y2="828.57" stroke="#999" stroke-width="0.5"/>
<line x1="304" x2="305.4" y1="821.93" y2="821.93" stroke="#999" stroke-width="0.5"/>
<line x1="532.2" x2="533.6" y1="821.93" y2="821.93" stroke="#999" stroke-width="0.5"/>
<line x1="304" x2="305.4" y1="815.71" y2="815.71" stroke="#999" stroke-width="0.5"/>
<line x1="532.2" x2="533.6" y1="815.71" y2="815.71" stroke="#999" stroke-width="0.5"/>
<line x1="304" x2="305.4" y1="809.86" y2="809.86" stroke="#999" stroke-width="0.5"/>
<line x1="532.2" x2="533.6" y1="809.86" y2="809.86" stroke="#999" stroke-width="0.5"/>
<line x1="304" x2="305.4" y1="804.36" y2="804.36" stroke="#999" stroke-width="0.5"/>
<line x1="532.2" x2="533.6" y1="804.36" y2="804.36" stroke="#999" stroke-width="0.5"/>
<line x1="304" x2="305.4" y1="799.14" y2="799.14" stroke="#999" stroke-width="0.5"/>
<line x1="532.2" x2="533.6" y1="799.14" y2="799.14" stroke="#999" stroke-width="0.5"/>
<line x1="304" x2="305.4" y1="794.2" y2="794.2" stroke="#999" stroke-width="0.5"/>
<line x1="532.2" x2="533.6" y1="794.2" y2="794.2" stroke="#999" stroke-width="0.5"/>
<line x1="304" x2="305.4" y1="789.5" y2="789.5" stroke="#999" stroke-width="0.5"/>
<line x1="532.2" x2="533.6" y1="789.5" y2="789.5" stroke="#999" stroke-width="0.5"/>
<line x1="304" x2="305.4" y1="785.02" y2="785.02" stroke="#999" stroke-width="0.5"/>
<line x1="532.2" x2="533.6" y1="785.02" y2="785.02" stroke="#999" stroke-width="0.5"/>
<line x1="304" x2="305.4" y1="780.73" y2="780.73" stroke="#999" stroke-width="0.5"/>
<line x1="532.2" x2="533.6" y1="780.73" y2="780.73" stroke="#999" stroke-width="0.5"/>
<line x1="304" x2="305.4" y1="776.63" y2="776.63" stroke="#999" stroke-width="0.5"/>
<line x1="532.2" x2="533.6" y1="776.63" y2="776.63" stroke="#999" stroke-width="0.5"/>
<line x1="304" x2="305.4" y1="772.7" y2="772.7" stroke="#999" stroke-width="0.5"/>
<line x1="532.2" x2="533.6" y1="772.7" y2="772.7" stroke="#999" stroke-width="0.5"/>
<line x1="304" x2="305.4" y1="768.92" y2="768.92" stroke="#999" stroke-width="0.5"/>
<line x1="532.2" x2="533.6" y1="768.92" y2="768.92" stroke="#999" stroke-width="0.5"/>
<line x1="304" x2="305.4" y1="765.28" y2="765.28" stroke="#999" stroke-width="0.5"/>
<line x1="532.2" x2="533.6" y1="765.28" y2="765.28" stroke="#999" stroke-width="0.5"/>
<line x1="304" x2="305.4" y1="761.78" y2="761.78" stroke="#999" stroke-width="0.5"/>
<line x1="532.2" x2="533.6" y1="761.78" y2="761.78" stroke="#999" stroke-width="0.5"/>
<line x1="304" x2="305.4" y1="758.39" y2="758.39" stroke="#999" stroke-width="0.5"/>
<line x1="532.2" x2="533.6" y1="758.39" y2="758.39" stroke="#999" stroke-width="0.5"/>
<line x1="304" x2="305.4" y1="755.13" y2="755.13" stroke="#999" stroke-width="0.5"/>
<line x1="532.2" x2="533.6" y1="755.13" y2="755.13" stroke="#999" stroke-width="0.5"/>
<line x1="304" x2="305.4" y1="751.97" y2="751.97" stroke="#999" stroke-width="0.5"/>
<line x1="532.2" x2="533.6" y1="751.97" y2="751.97" stroke="#999" stroke-width="0.5"/>
<line x1="304" x2="305.4" y1="748.91" y2="748.91" stroke="#999" stroke-width="0.5"/>
<line x1="532.2" x2="533.6" y1="748.91" y2="748.91" stroke="#999" stroke-width="0.5"/>
<line x1="304" x2="305.4" y1="745.94" y2="745.94" stroke="#999" stroke-width="0.5"/>
<line x1="532.2" x2="533.6" y1="745.94" y2="745.94" stroke="#999" stroke-width="0.5"/>
<line x1="304" x2="305.4" y1="743.06" y2="743.06" stroke="#999" stroke-width="0.5"/>
<line x1="532.2" x2="533.6" y1="743.06" y2="743.06" stroke="#999" stroke-width="0.5"/>
<line x1="304" x2="305.4" y1="740.27" y2="740.27" stroke="#999" stroke-width="0.5"/>
<line x1="532.2" x2="533.6" y1="740.27" y2="740.27" stroke="#999" stroke-width="0.5"/>
<line x1="304" x2="305.4" y1="737.56" y2="737.56" stroke="#999" stroke-width="0.5"/>
<line x1="532.2" x2="533.6" y1="737.56" y2="737.56" stroke="#999" stroke-width="0.5"/>
<line x1="304" x2="305.4" y1="734.92" y2="734.92" stroke="#999" stroke-width="0.5"/>
<line x1="532.2" x2="533.6" y1="734.92" y2="734.92" stroke="#999" stroke-width="0.5"/>
<line x1="304" x2="305.4" y1="732.35" y2="732.35" stroke="#999" stroke-width="0.5"/>
<line x1="532.2" x2="533.6" y1="732.35" y2="732.35" stroke="#999" stroke-width="0.5"/>
<line x1="304" x2="305.4" y1="729.84" y2="729.84" stroke="#999" stroke-width="0.5"/>
<line x1="532.2" x2="533.6" y1="729.84" y2="729.84" stroke="#999" stroke-width="0.5"/>
<line x1="304" x2="305.4" y1="727.4" y2="727.4" stroke="#999" stroke-width="0.5"/>
<line x1="532.2" x2="533.6" y1="727.4" y2="727.4" stroke="#999" stroke-width="0.5"/>
<line x1="304" x2="305.4" y1="725.02" y2="725.02" stroke="#999" stroke-width="0.5"/>
<line x1="532.2" x2="533.6" y1="725.02" y2="725.02" stroke="#999" stroke-width="0.5"/>
<line x1="304" x2="305.4" y1="722.7" y2="722.7" stroke="#999" stroke-width="0.5"/>
<line x1="532.2" x2="533.6" y1="722.7" y2="722.7" stroke="#999" stroke-width="0.5"/>
<line x1="304" x2="305.4" y1="720.43" y2="720.43" stroke="#999" stroke-width="0.5"/>
<line x1="532.2" x2="533.6" y1="720.43" y2="720.43" stroke="#999" stroke-width="0.5"/>
<line x1="304" x2="305.4" y1="718.22" y2="718.22" stroke="#999" stroke-width="0.5"/>
<line x1="532.2" x2="533.6" y1="718.22" y2="718.22" stroke="#999" stroke-width="0.5"/>
<line x1="304" x2="305.4" y1="716.05" y2="716.05" stroke="#999" stroke-width="0.5"/>
<line x1="532.2" x2="533.6" y1="716.05" y2="716.05" stroke="#999" stroke-width="0.5"/>
<line x1="304" x2="305.4" y1="713.93" y2="713.93" stroke="#999" stroke-width="0.5"/>
<line x1="532.2" x2="533.6" y1="713.93" y2="713.93" stroke="#999" stroke-width="0.5"/>
<line x1="304" x2="305.4" y1="711.86" y2="711.86" stroke="#999" stroke-width="0.5"/>
<line x1="532.2" x2="533.6" y1="711.86" y2="711.86" stroke="#999" stroke-width="0.5"/>
<line x1="304" x2="305.4" y1="709.83" y2="709.83" stroke="#999" stroke-width="0.5"/>
<line x1="532.2" x2="533.6" y1="709.83" y2="709.83" stroke="#999" stroke-width="0.5"/>
<line x1="304" x2="305.4" y1="707.85" y2="707.85" stroke="#999" stroke-width="0.5"/>
<line x1="532.2" x2="533.6" y1="707.85" y2="707.85" stroke="#999" stroke-width="0.5"/>
<line x1="304" x2="305.4" y1="705.9" y2="705.9" stroke="#999" stroke-width="0.5"/>
<line x1="532.2" x2="533.6" y1="705.9" y2="705.9" stroke="#999" stroke-width="0.5"/>
<line x1="304" x2="305.4" y1="703.99" y2="703.99" stroke="#999" stroke-width="0.5"/>
<line x1="532.2" x2="533.6" y1="703.99" y2="703.99" stroke="#999" stroke-width="0.5"/>
<line x1="304" x2="305.4" y1="702.12" y2="702.12" stroke="#999" stroke-width="0.5"/>
<line x1="532.2" x2="533.6" y1="702.12" y2="702.12" stroke="#999" stroke-width="0.5"/>
<line x1="304" x2="305.4" y1="700.28" y2="700.28" stroke="#999" stroke-width="0.5"/>
<line x1="532.2" x2="533.6" y1="700.28" y2="700.28" stroke="#999" stroke-width="0.5"/>
<line x1="304" x2="305.4" y1="698.48" y2="698.48" stroke="#999" stroke-width="0.5"/>
<line x1="532.2" x2="533.6" y1="698.48" y2="698.48" stroke="#999" stroke-width="0.5"/>
<line x1="304" x2="305.4" y1="696.71" y2="696.71" stroke="#999" stroke-width="0.5"/>
<line x1="532.2" x2="533.6" y1="696.71" y2="696.71" stroke="#999" stroke-width="0.5"/>
<line x1="304" x2="305.4" y1="694.98" y2="694.98" stroke="#999" stroke-width="0.5"/>
<line x1="532.2" x2="533.6" y1="694.98" y2="694.98" stroke="#999" stroke-width="0.5"/>
<line x1="304" x2="305.4" y1="693.27" y2="693.27" stroke="#999" stroke-width="0.5"/>
<line x1="532.2" x2="533.6" y1="693.27" y2="693.27" stroke="#999" stroke-width="0.5"/>
<line x1="304" x2="305.4" y1="691.6" y2="691.6" stroke="#999" stroke-width="0.5"/>
<line x1="532.2" x2="533.6" y1="691.6" y2="691.6" stroke="#999" stroke-width="0.5"/>
<line x1="304" x2="305.4" y1="689.95" y2="689.95" stroke="#999" stroke-width="0.5"/>
<line x1="532.2" x2="533.6" y1="689.95" y2="689.95" stroke="#999" stroke-width="0.5"/>
<line x1="304" x2="306" y1="861" y2="861" stroke="#7a7a7a" stroke-width="0.7"/>
<line x1="531.6" x2="533.6" y1="861" y2="861" stroke="#7a7a7a" stroke-width="0.7"/>
<line x1="304" x2="306" y1="821.93" y2="821.93" stroke="#7a7a7a" stroke-width="0.7"/>
<line x1="531.6" x2="533.6" y1="821.93" y2="821.93" stroke="#7a7a7a" stroke-width="0.7"/>
<line x1="304" x2="306" y1="794.2" y2="794.2" stroke="#7a7a7a" stroke-width="0.7"/>
<line x1="531.6" x2="533.6" y1="794.2" y2="794.2" stroke="#7a7a7a" stroke-width="0.7"/>
<line x1="304" x2="306" y1="772.7" y2="772.7" stroke="#7a7a7a" stroke-width="0.7"/>
<line x1="531.6" x2="533.6" y1="772.7" y2="772.7" stroke="#7a7a7a" stroke-width="0.7"/>
<line x1="304" x2="306" y1="755.13" y2="755.13" stroke="#7a7a7a" stroke-width="0.7"/>
<line x1="531.6" x2="533.6" y1="755.13" y2="755.13" stroke="#7a7a7a" stroke-width="0.7"/>
<line x1="304" x2="306" y1="740.27" y2="740.27" stroke="#7a7a7a" stroke-width="0.7"/>
<line x1="531.6" x2="533.6" y1="740.27" y2="740.27" stroke="#7a7a7a" stroke-width="0.7"/>
<line x1="304" x2="306" y1="727.4" y2="727.4" stroke="#7a7a7a" stroke-width="0.7"/>
<line x1="531.6" x2="533.6" y1="727.4" y2="727.4" stroke="#7a7a7a" stroke-width="0.7"/>
<line x1="304" x2="306" y1="716.05" y2="716.05" stroke="#7a7a7a" stroke-width="0.7"/>
<line x1="531.6" x2="533.6" y1="716.05" y2="716.05" stroke="#7a7a7a" stroke-width="0.7"/>
<line x1="304" x2="306" y1="705.9" y2="705.9" stroke="#7a7a7a" stroke-width="0.7"/>
<line x1="531.6" x2="533.6" y1="705.9" y2="705.9" stroke="#7a7a7a" stroke-width="0.7"/>
<line x1="304" x2="306" y1="696.71" y2="696.71" stroke="#7a7a7a" stroke-width="0.7"/>
<line x1="531.6" x2="533.6" y1="696.71" y2="696.71" stroke="#7a7a7a" stroke-width="0.7"/>
<rect x="461.6" y="696" width="60.8" height="68" fill="#fff" stroke="#8c8c8c" stroke-width="0.8"/>
<line x1="463.9" x2="487.1" y1="702" y2="702" stroke="#3fe33f" stroke-width="1.1"/>
<circle cx="475.5" cy="702" r="2.4" fill="none" stroke="#3fe33f" stroke-width="1"/>
<text x="489.2" y="704.6" class="lg">M<tspan dx="1.3">I</tspan><tspan dx="1.3">SCSO</tspan></text>
<line x1="463.9" x2="487.1" y1="711.45" y2="711.45" stroke="#f03a3a" stroke-width="1.1"/>
<path d="M472.9 709.37H478.1L475.5 714.31Z" fill="none" stroke="#f03a3a" stroke-width="0.85"/>
<text x="489.2" y="714.05" class="lg">SCSO</text>
<line x1="463.9" x2="487.1" y1="720.9" y2="720.9" stroke="#3a3a3a" stroke-width="1.1"/>
<path d="M472.9 722.98H478.1L475.5 718.04Z" fill="none" stroke="#3a3a3a" stroke-width="0.85"/>
<text x="489.2" y="723.5" class="lg">SMOA</text>
<line x1="463.9" x2="487.1" y1="730.35" y2="730.35" stroke="#ff2bff" stroke-width="1.1"/>
<circle cx="475.5" cy="730.35" r="2.0" fill="#ff2bff"/>
<text x="489.2" y="732.95" class="lg">WOA</text>
<line x1="463.9" x2="487.1" y1="739.8" y2="739.8" stroke="#3535e8" stroke-width="1.1"/>
<path d="M477.58 737.2V742.4L472.64 739.8Z" fill="none" stroke="#3535e8" stroke-width="0.85"/>
<text x="489.2" y="742.4" class="lg">BWO</text>
<line x1="463.9" x2="487.1" y1="749.25" y2="749.25" stroke="#36ecec" stroke-width="1.1"/>
<circle cx="475.5" cy="749.25" r="2.0" fill="#36ecec"/>
<text x="489.2" y="751.85" class="lg">ACO</text>
<line x1="463.9" x2="487.1" y1="758.7" y2="758.7" stroke="#e0a43a" stroke-width="1.1"/>
<path d="M477.58 756.1V761.3L472.64 758.7Z" fill="none" stroke="#e0a43a" stroke-width="0.85"/>
<text x="489.2" y="761.3" class="lg">RSA</text>
<text x="301" y="863.4" class="tk" text-anchor="end">1000</text>
<text x="301" y="824.33" class="tk" text-anchor="end">1500</text>
<text x="301" y="796.6" class="tk" text-anchor="end">2000</text>
<text x="301" y="775.1" class="tk" text-anchor="end">2500</text>
<text x="301" y="757.53" class="tk" text-anchor="end">3000</text>
<text x="301" y="742.67" class="tk" text-anchor="end">3500</text>
<text x="301" y="729.8" class="tk" text-anchor="end">4000</text>
<text x="301" y="718.45" class="tk" text-anchor="end">4500</text>
<text x="301" y="708.3" class="tk" text-anchor="end">5000</text>
<text x="301" y="699.11" class="tk" text-anchor="end">5500</text>
<text x="304" y="881.5" class="tk" text-anchor="middle">0</text>
<line x1="304" x2="304" y1="868.3" y2="870.3" stroke="#7a7a7a" stroke-width="0.7"/>
<text x="380.53" y="881.5" class="tk" text-anchor="middle">500</text>
<line x1="380.53" x2="380.53" y1="868.3" y2="870.3" stroke="#7a7a7a" stroke-width="0.7"/>
<text x="457.07" y="881.5" class="tk" text-anchor="middle">1000</text>
<line x1="457.07" x2="457.07" y1="868.3" y2="870.3" stroke="#7a7a7a" stroke-width="0.7"/>
<text x="533.6" y="881.5" class="tk" text-anchor="middle">1500</text>
<line x1="533.6" x2="533.6" y1="868.3" y2="870.3" stroke="#7a7a7a" stroke-width="0.7"/>
<text x="419.8" y="685.6" class="tt" text-anchor="middle">F8</text>
<text transform="translate(281.3,788.7) rotate(-90)" class="yl" text-anchor="middle">Mean of objective function values</text>
<text x="419.4" y="896.4" class="xl" text-anchor="middle">Iteration</text>
<text x="533.4" y="897.4" class="sl" text-anchor="middle">(h)</text>
</svg>
</body></html>
